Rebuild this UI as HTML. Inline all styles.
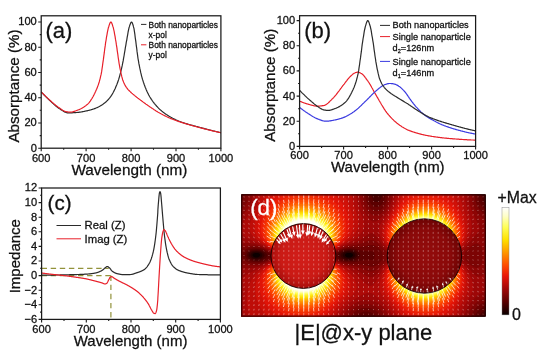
<!DOCTYPE html>
<html lang="en"><head><meta charset="utf-8"><title>Figure</title><style>html,body{margin:0;padding:0;background:#fff}svg{display:block}text{stroke:#111;stroke-width:.28px}text.w{stroke:#fff}</style></head><body>
<svg width="550" height="356" viewBox="0 0 550 356" font-family="'Liberation Sans', sans-serif" fill="#111">
<rect x="41.2" y="15.8" width="179.7" height="132.4" fill="#fff" stroke="none"/>
<path d="M41.2 148.2 v3 M86.1 148.2 v3 M131.1 148.2 v3 M176.0 148.2 v3 M220.9 148.2 v3 M63.7 148.2 v1.5 M108.6 148.2 v1.5 M153.5 148.2 v1.5 M198.4 148.2 v1.5 M41.2 148.2 h-3 M41.2 123.0 h-3 M41.2 97.7 h-3 M41.2 72.5 h-3 M41.2 47.2 h-3 M41.2 22.0 h-3 M41.2 135.6 h-1.5 M41.2 110.3 h-1.5 M41.2 85.1 h-1.5 M41.2 59.9 h-1.5 M41.2 34.6 h-1.5 " stroke="#1a1a1a" stroke-width="1.1" fill="none"/>
<text x="41.2" y="161.8" text-anchor="middle" font-size="11.1">600</text>
<text x="86.1" y="161.8" text-anchor="middle" font-size="11.1">700</text>
<text x="131.1" y="161.8" text-anchor="middle" font-size="11.1">800</text>
<text x="176.0" y="161.8" text-anchor="middle" font-size="11.1">900</text>
<text x="220.9" y="161.8" text-anchor="middle" font-size="11.1">1000</text>
<text x="36.8" y="151.6" text-anchor="end" font-size="11.1">0</text>
<text x="36.8" y="126.4" text-anchor="end" font-size="11.1">20</text>
<text x="36.8" y="101.1" text-anchor="end" font-size="11.1">40</text>
<text x="36.8" y="75.9" text-anchor="end" font-size="11.1">60</text>
<text x="36.8" y="50.6" text-anchor="end" font-size="11.1">80</text>
<text x="36.8" y="25.4" text-anchor="end" font-size="11.1">100</text>
<path d="M41.2 91.9 L41.7 92.4 L42.1 92.9 L42.6 93.4 L43.0 93.8 L43.5 94.3 L43.9 94.8 L44.4 95.2 L44.8 95.7 L45.3 96.1 L45.7 96.6 L46.2 97.0 L46.6 97.5 L47.1 97.9 L47.5 98.4 L48.0 98.8 L48.4 99.2 L48.9 99.6 L49.3 100.1 L49.8 100.5 L50.2 100.9 L50.7 101.3 L51.1 101.7 L51.6 102.1 L52.0 102.6 L52.5 103.0 L52.9 103.4 L53.4 103.8 L53.8 104.2 L54.3 104.6 L54.7 105.0 L55.2 105.4 L55.6 105.8 L56.1 106.2 L56.5 106.5 L57.0 106.9 L57.4 107.2 L57.9 107.6 L58.3 107.9 L58.8 108.2 L59.2 108.5 L59.7 108.8 L60.1 109.1 L60.6 109.4 L61.0 109.7 L61.5 110.0 L61.9 110.3 L62.4 110.6 L62.8 110.8 L63.3 111.1 L63.7 111.4 L64.2 111.6 L64.6 111.9 L65.1 112.1 L65.5 112.3 L66.0 112.5 L66.4 112.6 L66.9 112.7 L67.3 112.8 L67.8 112.9 L68.2 112.9 L68.7 112.9 L69.1 112.9 L69.6 112.9 L70.0 112.8 L70.5 112.8 L70.9 112.8 L71.4 112.8 L71.8 112.8 L72.3 112.8 L72.7 112.7 L73.2 112.7 L73.6 112.7 L74.1 112.7 L74.5 112.7 L75.0 112.6 L75.4 112.6 L75.9 112.6 L76.3 112.5 L76.8 112.5 L77.2 112.5 L77.7 112.4 L78.1 112.4 L78.6 112.4 L79.0 112.3 L79.5 112.2 L79.9 112.2 L80.4 112.1 L80.8 112.0 L81.3 112.0 L81.7 111.9 L82.2 111.8 L82.6 111.7 L83.1 111.6 L83.5 111.5 L84.0 111.4 L84.4 111.3 L84.9 111.2 L85.3 111.1 L85.8 111.0 L86.2 110.9 L86.7 110.9 L87.1 110.8 L87.6 110.7 L88.0 110.5 L88.5 110.4 L88.9 110.3 L89.4 110.2 L89.8 110.1 L90.3 110.0 L90.7 109.9 L91.2 109.7 L91.6 109.6 L92.1 109.5 L92.5 109.3 L93.0 109.2 L93.4 109.0 L93.9 108.9 L94.3 108.7 L94.8 108.6 L95.2 108.4 L95.7 108.2 L96.1 108.0 L96.6 107.8 L97.0 107.6 L97.5 107.4 L97.9 107.2 L98.4 107.0 L98.8 106.7 L99.3 106.5 L99.7 106.2 L100.2 106.0 L100.6 105.7 L101.1 105.4 L101.6 105.2 L102.0 104.9 L102.5 104.6 L102.9 104.3 L103.4 103.9 L103.8 103.6 L104.3 103.3 L104.7 102.9 L105.2 102.6 L105.6 102.2 L106.1 101.8 L106.5 101.4 L107.0 100.9 L107.4 100.5 L107.9 100.0 L108.3 99.5 L108.8 99.0 L109.2 98.5 L109.7 97.9 L110.1 97.3 L110.6 96.7 L111.0 96.1 L111.5 95.4 L111.9 94.7 L112.4 93.9 L112.8 93.2 L113.3 92.3 L113.7 91.5 L114.2 90.6 L114.6 89.6 L115.1 88.7 L115.5 87.7 L116.0 86.6 L116.4 85.5 L116.9 84.4 L117.3 83.3 L117.8 82.1 L118.2 80.8 L118.7 79.4 L119.1 77.9 L119.6 76.3 L120.0 74.6 L120.5 72.9 L120.9 71.1 L121.4 69.2 L121.8 67.3 L122.3 65.2 L122.7 63.0 L123.2 60.7 L123.6 58.1 L124.1 55.5 L124.5 52.8 L125.0 50.1 L125.4 47.4 L125.9 44.8 L126.3 42.2 L126.8 39.8 L127.2 37.2 L127.7 34.6 L128.1 32.0 L128.6 29.7 L129.0 27.8 L129.5 26.4 L129.9 24.9 L130.4 23.7 L130.8 22.7 L131.3 22.1 L131.7 22.1 L132.2 22.7 L132.6 23.8 L133.1 25.2 L133.5 26.9 L134.0 28.7 L134.4 31.4 L134.9 34.7 L135.3 38.1 L135.8 41.4 L136.2 44.8 L136.7 48.3 L137.1 51.9 L137.6 55.3 L138.0 58.5 L138.5 61.2 L138.9 63.7 L139.4 66.0 L139.8 68.2 L140.3 70.4 L140.7 72.4 L141.2 74.3 L141.6 76.1 L142.1 77.8 L142.5 79.4 L143.0 80.8 L143.4 82.2 L143.9 83.5 L144.3 84.8 L144.8 86.0 L145.2 87.2 L145.7 88.3 L146.1 89.4 L146.6 90.5 L147.0 91.5 L147.5 92.4 L147.9 93.4 L148.4 94.3 L148.8 95.1 L149.3 96.0 L149.7 96.7 L150.2 97.5 L150.6 98.2 L151.1 98.9 L151.5 99.6 L152.0 100.2 L152.4 100.8 L152.9 101.5 L153.3 102.1 L153.8 102.7 L154.2 103.3 L154.7 103.8 L155.1 104.4 L155.6 104.9 L156.0 105.4 L156.5 106.0 L156.9 106.5 L157.4 106.9 L157.8 107.4 L158.3 107.9 L158.7 108.3 L159.2 108.8 L159.6 109.2 L160.1 109.6 L160.5 110.0 L161.0 110.4 L161.5 110.8 L161.9 111.2 L162.4 111.6 L162.8 111.9 L163.3 112.3 L163.7 112.6 L164.2 112.9 L164.6 113.2 L165.1 113.6 L165.5 113.9 L166.0 114.2 L166.4 114.5 L166.9 114.8 L167.3 115.1 L167.8 115.4 L168.2 115.7 L168.7 115.9 L169.1 116.2 L169.6 116.5 L170.0 116.8 L170.5 117.0 L170.9 117.3 L171.4 117.5 L171.8 117.8 L172.3 118.0 L172.7 118.3 L173.2 118.5 L173.6 118.7 L174.1 118.9 L174.5 119.2 L175.0 119.4 L175.4 119.6 L175.9 119.8 L176.3 120.0 L176.8 120.2 L177.2 120.4 L177.7 120.6 L178.1 120.8 L178.6 121.0 L179.0 121.2 L179.5 121.4 L179.9 121.5 L180.4 121.7 L180.8 121.9 L181.3 122.0 L181.7 122.2 L182.2 122.4 L182.6 122.5 L183.1 122.7 L183.5 122.8 L184.0 123.0 L184.4 123.1 L184.9 123.3 L185.3 123.4 L185.8 123.5 L186.2 123.7 L186.7 123.8 L187.1 123.9 L187.6 124.1 L188.0 124.2 L188.5 124.3 L188.9 124.5 L189.4 124.6 L189.8 124.7 L190.3 124.8 L190.7 125.0 L191.2 125.1 L191.6 125.2 L192.1 125.3 L192.5 125.4 L193.0 125.6 L193.4 125.7 L193.9 125.8 L194.3 125.9 L194.8 126.0 L195.2 126.1 L195.7 126.3 L196.1 126.4 L196.6 126.5 L197.0 126.6 L197.5 126.7 L197.9 126.9 L198.4 127.0 L198.8 127.1 L199.3 127.2 L199.7 127.4 L200.2 127.5 L200.6 127.6 L201.1 127.7 L201.5 127.8 L202.0 128.0 L202.4 128.1 L202.9 128.2 L203.3 128.3 L203.8 128.4 L204.2 128.6 L204.7 128.7 L205.1 128.8 L205.6 128.9 L206.0 129.0 L206.5 129.1 L206.9 129.3 L207.4 129.4 L207.8 129.5 L208.3 129.6 L208.7 129.7 L209.2 129.8 L209.6 130.0 L210.1 130.1 L210.5 130.2 L211.0 130.3 L211.4 130.4 L211.9 130.5 L212.3 130.6 L212.8 130.7 L213.2 130.9 L213.7 131.0 L214.1 131.1 L214.6 131.2 L215.0 131.3 L215.5 131.4 L215.9 131.5 L216.4 131.6 L216.8 131.7 L217.3 131.8 L217.7 131.9 L218.2 132.0 L218.6 132.2 L219.1 132.3 L219.5 132.4 L220.0 132.5 L220.4 132.6 L220.9 132.7" fill="none" stroke="#2b2b2b" stroke-width="1.20" stroke-linejoin="round"/>
<path d="M41.2 91.9 L41.7 92.4 L42.1 92.8 L42.6 93.3 L43.0 93.7 L43.5 94.2 L43.9 94.6 L44.4 95.1 L44.8 95.5 L45.3 95.9 L45.7 96.4 L46.2 96.8 L46.6 97.2 L47.1 97.7 L47.5 98.1 L48.0 98.5 L48.4 98.9 L48.9 99.3 L49.3 99.7 L49.8 100.1 L50.2 100.5 L50.7 100.9 L51.1 101.3 L51.6 101.7 L52.0 102.1 L52.5 102.5 L52.9 102.9 L53.4 103.3 L53.8 103.7 L54.3 104.1 L54.7 104.4 L55.2 104.8 L55.6 105.2 L56.1 105.5 L56.5 105.9 L57.0 106.2 L57.4 106.6 L57.9 106.9 L58.3 107.2 L58.8 107.5 L59.2 107.8 L59.7 108.1 L60.1 108.5 L60.6 108.8 L61.0 109.1 L61.5 109.4 L61.9 109.7 L62.4 110.0 L62.8 110.3 L63.3 110.6 L63.7 110.8 L64.2 111.0 L64.6 111.2 L65.1 111.4 L65.5 111.5 L66.0 111.6 L66.4 111.7 L66.9 111.8 L67.3 111.8 L67.8 111.9 L68.2 112.0 L68.7 112.0 L69.1 112.1 L69.6 112.1 L70.0 112.1 L70.5 112.1 L70.9 112.1 L71.4 112.0 L71.8 112.0 L72.3 111.9 L72.7 111.8 L73.2 111.7 L73.6 111.6 L74.1 111.4 L74.5 111.3 L75.0 111.1 L75.4 111.0 L75.9 110.8 L76.3 110.6 L76.8 110.5 L77.2 110.3 L77.7 110.1 L78.1 110.0 L78.6 109.8 L79.0 109.6 L79.5 109.4 L79.9 109.2 L80.4 109.0 L80.8 108.8 L81.3 108.5 L81.7 108.3 L82.2 108.1 L82.6 107.8 L83.1 107.5 L83.5 107.2 L84.0 106.9 L84.4 106.6 L84.9 106.3 L85.3 106.0 L85.8 105.7 L86.2 105.3 L86.7 104.9 L87.1 104.6 L87.6 104.2 L88.0 103.8 L88.5 103.3 L88.9 102.8 L89.4 102.3 L89.8 101.7 L90.3 101.1 L90.7 100.4 L91.2 99.7 L91.6 99.0 L92.1 98.3 L92.5 97.5 L93.0 96.7 L93.4 95.9 L93.9 95.0 L94.3 94.1 L94.8 93.2 L95.2 92.3 L95.7 91.3 L96.1 90.3 L96.6 89.3 L97.0 88.3 L97.5 87.1 L97.9 85.9 L98.4 84.6 L98.8 83.2 L99.3 81.7 L99.7 80.1 L100.2 78.3 L100.6 76.4 L101.1 74.4 L101.6 71.9 L102.0 69.0 L102.5 65.8 L102.9 62.6 L103.4 59.4 L103.8 56.1 L104.3 52.7 L104.7 49.2 L105.2 45.9 L105.6 42.7 L106.1 40.0 L106.5 37.2 L107.0 34.6 L107.4 32.1 L107.9 29.9 L108.3 28.0 L108.8 26.5 L109.2 25.1 L109.7 23.8 L110.1 22.8 L110.6 22.1 L111.0 22.0 L111.5 22.6 L111.9 23.5 L112.4 24.8 L112.8 26.2 L113.3 27.6 L113.7 29.5 L114.2 31.7 L114.6 34.1 L115.1 36.7 L115.5 39.4 L116.0 42.0 L116.4 44.9 L116.9 47.9 L117.3 51.1 L117.8 54.3 L118.2 57.5 L118.7 60.6 L119.1 63.5 L119.6 66.1 L120.0 68.4 L120.5 70.6 L120.9 72.8 L121.4 74.8 L121.8 76.7 L122.3 78.4 L122.7 79.9 L123.2 81.1 L123.6 82.2 L124.1 83.2 L124.5 84.2 L125.0 85.1 L125.4 85.9 L125.9 86.6 L126.3 87.3 L126.8 87.9 L127.2 88.5 L127.7 89.1 L128.1 89.6 L128.6 90.1 L129.0 90.5 L129.5 91.0 L129.9 91.4 L130.4 91.8 L130.8 92.3 L131.3 92.7 L131.7 93.1 L132.2 93.5 L132.6 93.9 L133.1 94.3 L133.5 94.6 L134.0 95.0 L134.4 95.4 L134.9 95.8 L135.3 96.1 L135.8 96.5 L136.2 96.8 L136.7 97.2 L137.1 97.5 L137.6 97.9 L138.0 98.2 L138.5 98.5 L138.9 98.9 L139.4 99.2 L139.8 99.5 L140.3 99.9 L140.7 100.2 L141.2 100.5 L141.6 100.9 L142.1 101.2 L142.5 101.5 L143.0 101.9 L143.4 102.2 L143.9 102.5 L144.3 102.9 L144.8 103.2 L145.2 103.5 L145.7 103.9 L146.1 104.2 L146.6 104.5 L147.0 104.8 L147.5 105.1 L147.9 105.5 L148.4 105.8 L148.8 106.1 L149.3 106.4 L149.7 106.7 L150.2 107.0 L150.6 107.3 L151.1 107.6 L151.5 107.9 L152.0 108.2 L152.4 108.5 L152.9 108.8 L153.3 109.1 L153.8 109.4 L154.2 109.7 L154.7 110.0 L155.1 110.3 L155.6 110.6 L156.0 110.9 L156.5 111.2 L156.9 111.4 L157.4 111.7 L157.8 112.0 L158.3 112.3 L158.7 112.5 L159.2 112.8 L159.6 113.0 L160.1 113.3 L160.5 113.5 L161.0 113.8 L161.5 114.0 L161.9 114.3 L162.4 114.5 L162.8 114.7 L163.3 115.0 L163.7 115.2 L164.2 115.4 L164.6 115.7 L165.1 115.9 L165.5 116.1 L166.0 116.3 L166.4 116.5 L166.9 116.7 L167.3 117.0 L167.8 117.2 L168.2 117.4 L168.7 117.6 L169.1 117.8 L169.6 118.0 L170.0 118.2 L170.5 118.4 L170.9 118.6 L171.4 118.7 L171.8 118.9 L172.3 119.1 L172.7 119.3 L173.2 119.5 L173.6 119.6 L174.1 119.8 L174.5 120.0 L175.0 120.1 L175.4 120.3 L175.9 120.5 L176.3 120.6 L176.8 120.8 L177.2 120.9 L177.7 121.1 L178.1 121.3 L178.6 121.4 L179.0 121.6 L179.5 121.7 L179.9 121.9 L180.4 122.0 L180.8 122.2 L181.3 122.3 L181.7 122.4 L182.2 122.6 L182.6 122.7 L183.1 122.9 L183.5 123.0 L184.0 123.2 L184.4 123.3 L184.9 123.4 L185.3 123.6 L185.8 123.7 L186.2 123.8 L186.7 124.0 L187.1 124.1 L187.6 124.2 L188.0 124.4 L188.5 124.5 L188.9 124.6 L189.4 124.8 L189.8 124.9 L190.3 125.0 L190.7 125.1 L191.2 125.3 L191.6 125.4 L192.1 125.5 L192.5 125.6 L193.0 125.8 L193.4 125.9 L193.9 126.0 L194.3 126.1 L194.8 126.3 L195.2 126.4 L195.7 126.5 L196.1 126.6 L196.6 126.7 L197.0 126.9 L197.5 127.0 L197.9 127.1 L198.4 127.2 L198.8 127.4 L199.3 127.5 L199.7 127.6 L200.2 127.7 L200.6 127.8 L201.1 128.0 L201.5 128.1 L202.0 128.2 L202.4 128.3 L202.9 128.4 L203.3 128.5 L203.8 128.7 L204.2 128.8 L204.7 128.9 L205.1 129.0 L205.6 129.1 L206.0 129.2 L206.5 129.3 L206.9 129.5 L207.4 129.6 L207.8 129.7 L208.3 129.8 L208.7 129.9 L209.2 130.0 L209.6 130.1 L210.1 130.2 L210.5 130.3 L211.0 130.4 L211.4 130.6 L211.9 130.7 L212.3 130.8 L212.8 130.9 L213.2 131.0 L213.7 131.1 L214.1 131.2 L214.6 131.3 L215.0 131.4 L215.5 131.5 L215.9 131.6 L216.4 131.7 L216.8 131.8 L217.3 131.9 L217.7 132.0 L218.2 132.1 L218.6 132.2 L219.1 132.3 L219.5 132.4 L220.0 132.5 L220.4 132.6 L220.9 132.7" fill="none" stroke="#e8202a" stroke-width="1.20" stroke-linejoin="round"/>
<rect x="41.2" y="15.8" width="179.7" height="132.4" fill="none" stroke="#1a1a1a" stroke-width="1.25"/>
<text x="45.4" y="38.2" font-size="22">(a)</text>
<path d="M141 24.4h5.4" stroke="#2b2b2b" stroke-width="1"/><path d="M141 44.8h5.4" stroke="#e8202a" stroke-width="1"/>
<text x="148.6" y="27.5" font-size="8.4">Both nanoparticles</text>
<text x="148.6" y="37.5" font-size="8.4">x-pol</text>
<text x="148.6" y="47.6" font-size="8.4">Both nanoparticles</text>
<text x="148.6" y="57.7" font-size="8.4">y-pol</text>
<text transform="translate(19,86) rotate(-90)" text-anchor="middle" font-size="15.2">Absorptance (%)</text>
<text x="129.4" y="174.5" text-anchor="middle" font-size="15.3">Wavelength (nm)</text>
<rect x="299.6" y="15.7" width="176.0" height="130.7" fill="#fff" stroke="none"/>
<path d="M299.6 146.4 v3 M343.6 146.4 v3 M387.6 146.4 v3 M431.6 146.4 v3 M475.6 146.4 v3 M321.6 146.4 v1.5 M365.6 146.4 v1.5 M409.6 146.4 v1.5 M453.6 146.4 v1.5 M299.6 146.4 h-3 M299.6 121.2 h-3 M299.6 96.1 h-3 M299.6 70.9 h-3 M299.6 45.8 h-3 M299.6 20.6 h-3 M299.6 133.8 h-1.5 M299.6 108.7 h-1.5 M299.6 83.5 h-1.5 M299.6 58.3 h-1.5 M299.6 33.2 h-1.5 " stroke="#1a1a1a" stroke-width="1.1" fill="none"/>
<text x="299.6" y="159.3" text-anchor="middle" font-size="11.1">600</text>
<text x="343.6" y="159.3" text-anchor="middle" font-size="11.1">700</text>
<text x="387.6" y="159.3" text-anchor="middle" font-size="11.1">800</text>
<text x="431.6" y="159.3" text-anchor="middle" font-size="11.1">900</text>
<text x="475.6" y="159.3" text-anchor="middle" font-size="11.1">1000</text>
<text x="295.2" y="149.8" text-anchor="end" font-size="11.1">0</text>
<text x="295.2" y="124.6" text-anchor="end" font-size="11.1">20</text>
<text x="295.2" y="99.5" text-anchor="end" font-size="11.1">40</text>
<text x="295.2" y="74.3" text-anchor="end" font-size="11.1">60</text>
<text x="295.2" y="49.2" text-anchor="end" font-size="11.1">80</text>
<text x="295.2" y="24.0" text-anchor="end" font-size="11.1">100</text>
<path d="M299.6 101.1 L300.0 101.3 L300.5 101.5 L300.9 101.7 L301.4 101.8 L301.8 102.0 L302.2 102.2 L302.7 102.4 L303.1 102.5 L303.6 102.7 L304.0 102.9 L304.5 103.0 L304.9 103.2 L305.3 103.3 L305.8 103.5 L306.2 103.6 L306.7 103.8 L307.1 103.9 L307.5 104.0 L308.0 104.1 L308.4 104.3 L308.9 104.4 L309.3 104.5 L309.7 104.6 L310.2 104.8 L310.6 104.9 L311.1 105.0 L311.5 105.1 L312.0 105.3 L312.4 105.4 L312.8 105.5 L313.3 105.6 L313.7 105.7 L314.2 105.8 L314.6 105.9 L315.0 106.0 L315.5 106.0 L315.9 106.1 L316.4 106.1 L316.8 106.1 L317.2 106.1 L317.7 106.1 L318.1 106.1 L318.6 106.1 L319.0 106.1 L319.4 106.1 L319.9 106.0 L320.3 106.0 L320.8 105.9 L321.2 105.9 L321.7 105.8 L322.1 105.8 L322.5 105.7 L323.0 105.6 L323.4 105.6 L323.9 105.5 L324.3 105.4 L324.7 105.3 L325.2 105.1 L325.6 104.8 L326.1 104.6 L326.5 104.3 L326.9 104.0 L327.4 103.6 L327.8 103.3 L328.3 102.9 L328.7 102.5 L329.2 102.0 L329.6 101.6 L330.0 101.2 L330.5 100.7 L330.9 100.3 L331.4 99.8 L331.8 99.4 L332.2 98.9 L332.7 98.5 L333.1 98.1 L333.6 97.6 L334.0 97.1 L334.4 96.7 L334.9 96.1 L335.3 95.6 L335.8 95.1 L336.2 94.5 L336.7 94.0 L337.1 93.4 L337.5 92.8 L338.0 92.2 L338.4 91.6 L338.9 91.1 L339.3 90.5 L339.7 89.9 L340.2 89.3 L340.6 88.7 L341.1 88.1 L341.5 87.5 L341.9 86.9 L342.4 86.3 L342.8 85.7 L343.3 85.2 L343.7 84.6 L344.2 84.1 L344.6 83.5 L345.0 82.9 L345.5 82.3 L345.9 81.7 L346.4 81.1 L346.8 80.6 L347.2 80.0 L347.7 79.4 L348.1 78.9 L348.6 78.3 L349.0 77.8 L349.4 77.4 L349.9 76.9 L350.3 76.5 L350.8 76.0 L351.2 75.6 L351.7 75.2 L352.1 74.8 L352.5 74.4 L353.0 74.0 L353.4 73.7 L353.9 73.4 L354.3 73.2 L354.7 73.0 L355.2 72.8 L355.6 72.6 L356.1 72.5 L356.5 72.4 L356.9 72.3 L357.4 72.2 L357.8 72.2 L358.3 72.2 L358.7 72.3 L359.1 72.5 L359.6 72.6 L360.0 72.8 L360.5 73.1 L360.9 73.3 L361.4 73.5 L361.8 73.8 L362.2 74.1 L362.7 74.5 L363.1 74.9 L363.6 75.4 L364.0 75.9 L364.4 76.4 L364.9 77.0 L365.3 77.6 L365.8 78.2 L366.2 78.8 L366.6 79.4 L367.1 80.0 L367.5 80.6 L368.0 81.2 L368.4 81.8 L368.9 82.5 L369.3 83.2 L369.7 83.9 L370.2 84.6 L370.6 85.4 L371.1 86.2 L371.5 86.9 L371.9 87.7 L372.4 88.5 L372.8 89.3 L373.3 90.2 L373.7 91.0 L374.1 91.8 L374.6 92.6 L375.0 93.4 L375.5 94.1 L375.9 94.9 L376.4 95.7 L376.8 96.4 L377.2 97.1 L377.7 97.9 L378.1 98.6 L378.6 99.4 L379.0 100.2 L379.4 100.9 L379.9 101.7 L380.3 102.5 L380.8 103.2 L381.2 104.0 L381.6 104.7 L382.1 105.5 L382.5 106.2 L383.0 106.9 L383.4 107.7 L383.9 108.4 L384.3 109.1 L384.7 109.7 L385.2 110.4 L385.6 111.1 L386.1 111.7 L386.5 112.3 L386.9 112.9 L387.4 113.4 L387.8 114.0 L388.3 114.5 L388.7 115.0 L389.1 115.5 L389.6 116.0 L390.0 116.5 L390.5 117.0 L390.9 117.5 L391.3 117.9 L391.8 118.4 L392.2 118.8 L392.7 119.3 L393.1 119.7 L393.6 120.2 L394.0 120.6 L394.4 121.0 L394.9 121.4 L395.3 121.8 L395.8 122.1 L396.2 122.5 L396.6 122.9 L397.1 123.2 L397.5 123.6 L398.0 123.9 L398.4 124.2 L398.8 124.6 L399.3 124.9 L399.7 125.2 L400.2 125.5 L400.6 125.8 L401.1 126.1 L401.5 126.4 L401.9 126.7 L402.4 127.0 L402.8 127.2 L403.3 127.5 L403.7 127.8 L404.1 128.0 L404.6 128.3 L405.0 128.5 L405.5 128.8 L405.9 129.0 L406.3 129.2 L406.8 129.5 L407.2 129.7 L407.7 129.9 L408.1 130.1 L408.6 130.3 L409.0 130.4 L409.4 130.6 L409.9 130.8 L410.3 130.9 L410.8 131.1 L411.2 131.3 L411.6 131.4 L412.1 131.6 L412.5 131.7 L413.0 131.9 L413.4 132.0 L413.8 132.1 L414.3 132.3 L414.7 132.4 L415.2 132.6 L415.6 132.7 L416.1 132.8 L416.5 133.0 L416.9 133.1 L417.4 133.2 L417.8 133.3 L418.3 133.5 L418.7 133.6 L419.1 133.7 L419.6 133.8 L420.0 133.9 L420.5 134.1 L420.9 134.2 L421.3 134.3 L421.8 134.4 L422.2 134.5 L422.7 134.6 L423.1 134.7 L423.5 134.8 L424.0 134.9 L424.4 135.0 L424.9 135.1 L425.3 135.2 L425.8 135.3 L426.2 135.4 L426.6 135.5 L427.1 135.5 L427.5 135.6 L428.0 135.7 L428.4 135.8 L428.8 135.9 L429.3 135.9 L429.7 136.0 L430.2 136.1 L430.6 136.2 L431.0 136.2 L431.5 136.3 L431.9 136.4 L432.4 136.5 L432.8 136.5 L433.3 136.6 L433.7 136.7 L434.1 136.7 L434.6 136.8 L435.0 136.9 L435.5 136.9 L435.9 137.0 L436.3 137.0 L436.8 137.1 L437.2 137.2 L437.7 137.2 L438.1 137.3 L438.5 137.3 L439.0 137.4 L439.4 137.4 L439.9 137.5 L440.3 137.6 L440.8 137.6 L441.2 137.7 L441.6 137.7 L442.1 137.8 L442.5 137.8 L443.0 137.9 L443.4 137.9 L443.8 138.0 L444.3 138.0 L444.7 138.1 L445.2 138.1 L445.6 138.1 L446.0 138.2 L446.5 138.2 L446.9 138.3 L447.4 138.3 L447.8 138.4 L448.3 138.4 L448.7 138.4 L449.1 138.5 L449.6 138.5 L450.0 138.6 L450.5 138.6 L450.9 138.6 L451.3 138.7 L451.8 138.7 L452.2 138.7 L452.7 138.8 L453.1 138.8 L453.5 138.8 L454.0 138.9 L454.4 138.9 L454.9 138.9 L455.3 139.0 L455.8 139.0 L456.2 139.0 L456.6 139.1 L457.1 139.1 L457.5 139.1 L458.0 139.2 L458.4 139.2 L458.8 139.2 L459.3 139.3 L459.7 139.3 L460.2 139.3 L460.6 139.4 L461.0 139.4 L461.5 139.4 L461.9 139.4 L462.4 139.5 L462.8 139.5 L463.2 139.5 L463.7 139.6 L464.1 139.6 L464.6 139.6 L465.0 139.6 L465.5 139.7 L465.9 139.7 L466.3 139.7 L466.8 139.7 L467.2 139.8 L467.7 139.8 L468.1 139.8 L468.5 139.8 L469.0 139.9 L469.4 139.9 L469.9 139.9 L470.3 139.9 L470.7 139.9 L471.2 140.0 L471.6 140.0 L472.1 140.0 L472.5 140.0 L473.0 140.0 L473.4 140.0 L473.8 140.1 L474.3 140.1 L474.7 140.1 L475.2 140.1 L475.6 140.1" fill="none" stroke="#e8202a" stroke-width="1.20" stroke-linejoin="round"/>
<path d="M299.6 107.4 L300.0 107.7 L300.5 108.1 L300.9 108.4 L301.4 108.8 L301.8 109.1 L302.2 109.4 L302.7 109.8 L303.1 110.1 L303.6 110.4 L304.0 110.7 L304.5 111.0 L304.9 111.3 L305.3 111.7 L305.8 112.0 L306.2 112.3 L306.7 112.6 L307.1 112.8 L307.5 113.1 L308.0 113.4 L308.4 113.7 L308.9 114.0 L309.3 114.3 L309.7 114.6 L310.2 114.8 L310.6 115.1 L311.1 115.4 L311.5 115.7 L312.0 116.0 L312.4 116.2 L312.8 116.5 L313.3 116.8 L313.7 117.0 L314.2 117.3 L314.6 117.5 L315.0 117.7 L315.5 118.0 L315.9 118.2 L316.4 118.4 L316.8 118.6 L317.2 118.7 L317.7 118.9 L318.1 119.1 L318.6 119.3 L319.0 119.4 L319.4 119.6 L319.9 119.8 L320.3 119.9 L320.8 120.1 L321.2 120.3 L321.7 120.4 L322.1 120.6 L322.5 120.7 L323.0 120.8 L323.4 120.9 L323.9 121.0 L324.3 121.1 L324.7 121.2 L325.2 121.2 L325.6 121.2 L326.1 121.2 L326.5 121.2 L326.9 121.2 L327.4 121.2 L327.8 121.2 L328.3 121.1 L328.7 121.1 L329.2 121.0 L329.6 120.9 L330.0 120.9 L330.5 120.8 L330.9 120.7 L331.4 120.7 L331.8 120.6 L332.2 120.5 L332.7 120.4 L333.1 120.3 L333.6 120.2 L334.0 120.1 L334.4 120.0 L334.9 120.0 L335.3 119.9 L335.8 119.8 L336.2 119.7 L336.7 119.6 L337.1 119.5 L337.5 119.4 L338.0 119.3 L338.4 119.1 L338.9 119.0 L339.3 118.9 L339.7 118.8 L340.2 118.6 L340.6 118.5 L341.1 118.4 L341.5 118.2 L341.9 118.1 L342.4 117.9 L342.8 117.8 L343.3 117.6 L343.7 117.4 L344.2 117.3 L344.6 117.1 L345.0 116.9 L345.5 116.7 L345.9 116.5 L346.4 116.3 L346.8 116.0 L347.2 115.8 L347.7 115.6 L348.1 115.3 L348.6 115.1 L349.0 114.8 L349.4 114.6 L349.9 114.3 L350.3 114.0 L350.8 113.8 L351.2 113.5 L351.7 113.2 L352.1 112.9 L352.5 112.6 L353.0 112.3 L353.4 112.0 L353.9 111.7 L354.3 111.4 L354.7 111.1 L355.2 110.8 L355.6 110.4 L356.1 110.1 L356.5 109.7 L356.9 109.3 L357.4 109.0 L357.8 108.6 L358.3 108.2 L358.7 107.8 L359.1 107.4 L359.6 107.0 L360.0 106.5 L360.5 106.1 L360.9 105.7 L361.4 105.3 L361.8 104.8 L362.2 104.4 L362.7 103.9 L363.1 103.5 L363.6 103.1 L364.0 102.6 L364.4 102.2 L364.9 101.8 L365.3 101.4 L365.8 101.0 L366.2 100.5 L366.6 100.1 L367.1 99.7 L367.5 99.2 L368.0 98.8 L368.4 98.3 L368.9 97.9 L369.3 97.4 L369.7 97.0 L370.2 96.5 L370.6 96.1 L371.1 95.6 L371.5 95.2 L371.9 94.7 L372.4 94.3 L372.8 93.9 L373.3 93.4 L373.7 93.0 L374.1 92.6 L374.6 92.2 L375.0 91.8 L375.5 91.4 L375.9 91.0 L376.4 90.6 L376.8 90.3 L377.2 89.9 L377.7 89.5 L378.1 89.1 L378.6 88.8 L379.0 88.4 L379.4 88.0 L379.9 87.7 L380.3 87.3 L380.8 87.0 L381.2 86.6 L381.6 86.3 L382.1 86.0 L382.5 85.7 L383.0 85.5 L383.4 85.2 L383.9 85.0 L384.3 84.8 L384.7 84.7 L385.2 84.5 L385.6 84.4 L386.1 84.2 L386.5 84.1 L386.9 84.0 L387.4 83.8 L387.8 83.7 L388.3 83.6 L388.7 83.6 L389.1 83.5 L389.6 83.5 L390.0 83.5 L390.5 83.5 L390.9 83.5 L391.3 83.6 L391.8 83.6 L392.2 83.7 L392.7 83.7 L393.1 83.8 L393.6 83.9 L394.0 84.0 L394.4 84.1 L394.9 84.2 L395.3 84.3 L395.8 84.5 L396.2 84.7 L396.6 84.9 L397.1 85.1 L397.5 85.4 L398.0 85.6 L398.4 85.9 L398.8 86.2 L399.3 86.5 L399.7 86.8 L400.2 87.1 L400.6 87.5 L401.1 87.9 L401.5 88.3 L401.9 88.7 L402.4 89.1 L402.8 89.6 L403.3 90.0 L403.7 90.5 L404.1 91.0 L404.6 91.5 L405.0 92.0 L405.5 92.5 L405.9 93.1 L406.3 93.7 L406.8 94.3 L407.2 95.0 L407.7 95.6 L408.1 96.3 L408.6 96.9 L409.0 97.6 L409.4 98.3 L409.9 98.9 L410.3 99.5 L410.8 100.1 L411.2 100.7 L411.6 101.3 L412.1 101.9 L412.5 102.4 L413.0 103.0 L413.4 103.6 L413.8 104.1 L414.3 104.7 L414.7 105.2 L415.2 105.8 L415.6 106.3 L416.1 106.8 L416.5 107.3 L416.9 107.7 L417.4 108.2 L417.8 108.7 L418.3 109.1 L418.7 109.6 L419.1 110.0 L419.6 110.5 L420.0 110.9 L420.5 111.3 L420.9 111.8 L421.3 112.2 L421.8 112.6 L422.2 113.0 L422.7 113.4 L423.1 113.8 L423.5 114.1 L424.0 114.5 L424.4 114.9 L424.9 115.2 L425.3 115.5 L425.8 115.9 L426.2 116.2 L426.6 116.5 L427.1 116.8 L427.5 117.1 L428.0 117.3 L428.4 117.6 L428.8 117.9 L429.3 118.1 L429.7 118.4 L430.2 118.6 L430.6 118.9 L431.0 119.1 L431.5 119.4 L431.9 119.6 L432.4 119.8 L432.8 120.1 L433.3 120.3 L433.7 120.6 L434.1 120.8 L434.6 121.0 L435.0 121.3 L435.5 121.5 L435.9 121.8 L436.3 122.0 L436.8 122.2 L437.2 122.5 L437.7 122.7 L438.1 122.9 L438.5 123.2 L439.0 123.4 L439.4 123.6 L439.9 123.8 L440.3 124.0 L440.8 124.2 L441.2 124.4 L441.6 124.6 L442.1 124.8 L442.5 125.0 L443.0 125.1 L443.4 125.3 L443.8 125.5 L444.3 125.7 L444.7 125.8 L445.2 126.0 L445.6 126.1 L446.0 126.3 L446.5 126.5 L446.9 126.6 L447.4 126.8 L447.8 126.9 L448.3 127.1 L448.7 127.2 L449.1 127.4 L449.6 127.5 L450.0 127.7 L450.5 127.8 L450.9 128.0 L451.3 128.1 L451.8 128.2 L452.2 128.4 L452.7 128.5 L453.1 128.7 L453.5 128.8 L454.0 128.9 L454.4 129.0 L454.9 129.2 L455.3 129.3 L455.8 129.4 L456.2 129.6 L456.6 129.7 L457.1 129.8 L457.5 129.9 L458.0 130.0 L458.4 130.2 L458.8 130.3 L459.3 130.4 L459.7 130.5 L460.2 130.6 L460.6 130.8 L461.0 130.9 L461.5 131.0 L461.9 131.1 L462.4 131.2 L462.8 131.3 L463.2 131.4 L463.7 131.5 L464.1 131.6 L464.6 131.8 L465.0 131.9 L465.5 132.0 L465.9 132.1 L466.3 132.2 L466.8 132.3 L467.2 132.4 L467.7 132.5 L468.1 132.6 L468.5 132.7 L469.0 132.8 L469.4 132.9 L469.9 133.0 L470.3 133.1 L470.7 133.1 L471.2 133.2 L471.6 133.3 L472.1 133.4 L472.5 133.5 L473.0 133.6 L473.4 133.7 L473.8 133.8 L474.3 133.8 L474.7 133.9 L475.2 134.0 L475.6 134.1" fill="none" stroke="#3a3ae0" stroke-width="1.20" stroke-linejoin="round"/>
<path d="M299.6 90.3 L300.0 90.8 L300.5 91.2 L300.9 91.7 L301.4 92.1 L301.8 92.6 L302.2 93.0 L302.7 93.4 L303.1 93.9 L303.6 94.3 L304.0 94.7 L304.5 95.2 L304.9 95.6 L305.3 96.0 L305.8 96.4 L306.2 96.8 L306.7 97.3 L307.1 97.7 L307.5 98.1 L308.0 98.5 L308.4 98.9 L308.9 99.3 L309.3 99.7 L309.7 100.1 L310.2 100.4 L310.6 100.8 L311.1 101.2 L311.5 101.6 L312.0 102.0 L312.4 102.4 L312.8 102.8 L313.3 103.1 L313.7 103.5 L314.2 103.9 L314.6 104.2 L315.0 104.6 L315.5 104.9 L315.9 105.2 L316.4 105.6 L316.8 105.9 L317.2 106.2 L317.7 106.5 L318.1 106.8 L318.6 107.1 L319.0 107.4 L319.4 107.7 L319.9 108.0 L320.3 108.3 L320.8 108.6 L321.2 108.9 L321.7 109.1 L322.1 109.3 L322.5 109.5 L323.0 109.7 L323.4 109.8 L323.9 109.9 L324.3 110.0 L324.7 110.1 L325.2 110.2 L325.6 110.2 L326.1 110.3 L326.5 110.3 L326.9 110.4 L327.4 110.4 L327.8 110.4 L328.3 110.4 L328.7 110.4 L329.2 110.4 L329.6 110.3 L330.0 110.2 L330.5 110.1 L330.9 110.0 L331.4 109.9 L331.8 109.7 L332.2 109.6 L332.7 109.4 L333.1 109.3 L333.6 109.1 L334.0 109.0 L334.4 108.8 L334.9 108.6 L335.3 108.5 L335.8 108.3 L336.2 108.1 L336.7 107.9 L337.1 107.7 L337.5 107.5 L338.0 107.3 L338.4 107.1 L338.9 106.9 L339.3 106.6 L339.7 106.4 L340.2 106.1 L340.6 105.8 L341.1 105.6 L341.5 105.3 L341.9 105.0 L342.4 104.7 L342.8 104.3 L343.3 104.0 L343.7 103.6 L344.2 103.3 L344.6 102.9 L345.0 102.5 L345.5 102.1 L345.9 101.6 L346.4 101.1 L346.8 100.6 L347.2 100.0 L347.7 99.4 L348.1 98.8 L348.6 98.1 L349.0 97.4 L349.4 96.7 L349.9 95.9 L350.3 95.1 L350.8 94.3 L351.2 93.4 L351.7 92.5 L352.1 91.6 L352.5 90.7 L353.0 89.7 L353.4 88.7 L353.9 87.7 L354.3 86.7 L354.7 85.5 L355.2 84.3 L355.6 83.0 L356.1 81.6 L356.5 80.1 L356.9 78.5 L357.4 76.7 L357.8 74.9 L358.3 72.9 L358.7 70.4 L359.1 67.4 L359.6 64.3 L360.0 61.0 L360.5 57.9 L360.9 54.6 L361.4 51.2 L361.8 47.7 L362.2 44.4 L362.7 41.3 L363.1 38.5 L363.6 35.8 L364.0 33.2 L364.4 30.7 L364.9 28.5 L365.3 26.6 L365.8 25.1 L366.2 23.7 L366.6 22.4 L367.1 21.3 L367.5 20.7 L368.0 20.6 L368.4 21.2 L368.9 22.1 L369.3 23.4 L369.7 24.8 L370.2 26.2 L370.6 28.0 L371.1 30.2 L371.5 32.7 L371.9 35.3 L372.4 37.9 L372.8 40.6 L373.3 43.4 L373.7 46.4 L374.1 49.6 L374.6 52.8 L375.0 56.0 L375.5 59.0 L375.9 61.9 L376.4 64.6 L376.8 66.9 L377.2 69.1 L377.7 71.2 L378.1 73.2 L378.6 75.1 L379.0 76.8 L379.4 78.3 L379.9 79.5 L380.3 80.6 L380.8 81.7 L381.2 82.6 L381.6 83.5 L382.1 84.3 L382.5 85.0 L383.0 85.7 L383.4 86.3 L383.9 86.9 L384.3 87.5 L384.7 88.0 L385.2 88.5 L385.6 89.0 L386.1 89.4 L386.5 89.8 L386.9 90.2 L387.4 90.6 L387.8 91.0 L388.3 91.4 L388.7 91.7 L389.1 92.1 L389.6 92.4 L390.0 92.7 L390.5 93.1 L390.9 93.4 L391.3 93.7 L391.8 94.0 L392.2 94.3 L392.7 94.6 L393.1 94.9 L393.6 95.2 L394.0 95.4 L394.4 95.7 L394.9 96.0 L395.3 96.3 L395.8 96.5 L396.2 96.8 L396.6 97.1 L397.1 97.4 L397.5 97.6 L398.0 97.9 L398.4 98.2 L398.8 98.4 L399.3 98.7 L399.7 99.0 L400.2 99.3 L400.6 99.6 L401.1 99.8 L401.5 100.1 L401.9 100.4 L402.4 100.6 L402.8 100.9 L403.3 101.1 L403.7 101.4 L404.1 101.7 L404.6 101.9 L405.0 102.2 L405.5 102.5 L405.9 102.7 L406.3 103.0 L406.8 103.3 L407.2 103.5 L407.7 103.8 L408.1 104.1 L408.6 104.4 L409.0 104.7 L409.4 105.0 L409.9 105.3 L410.3 105.6 L410.8 105.9 L411.2 106.2 L411.6 106.5 L412.1 106.8 L412.5 107.1 L413.0 107.4 L413.4 107.7 L413.8 108.1 L414.3 108.4 L414.7 108.6 L415.2 108.9 L415.6 109.2 L416.1 109.5 L416.5 109.8 L416.9 110.1 L417.4 110.4 L417.8 110.6 L418.3 110.9 L418.7 111.2 L419.1 111.5 L419.6 111.7 L420.0 112.0 L420.5 112.3 L420.9 112.6 L421.3 112.8 L421.8 113.1 L422.2 113.4 L422.7 113.6 L423.1 113.9 L423.5 114.2 L424.0 114.4 L424.4 114.7 L424.9 114.9 L425.3 115.2 L425.8 115.4 L426.2 115.7 L426.6 115.9 L427.1 116.1 L427.5 116.3 L428.0 116.6 L428.4 116.8 L428.8 117.0 L429.3 117.2 L429.7 117.4 L430.2 117.5 L430.6 117.7 L431.0 117.9 L431.5 118.1 L431.9 118.3 L432.4 118.4 L432.8 118.6 L433.3 118.8 L433.7 119.0 L434.1 119.1 L434.6 119.3 L435.0 119.5 L435.5 119.6 L435.9 119.8 L436.3 119.9 L436.8 120.1 L437.2 120.3 L437.7 120.4 L438.1 120.6 L438.5 120.7 L439.0 120.9 L439.4 121.0 L439.9 121.1 L440.3 121.3 L440.8 121.4 L441.2 121.6 L441.6 121.7 L442.1 121.9 L442.5 122.0 L443.0 122.1 L443.4 122.3 L443.8 122.4 L444.3 122.5 L444.7 122.7 L445.2 122.8 L445.6 122.9 L446.0 123.1 L446.5 123.2 L446.9 123.3 L447.4 123.5 L447.8 123.6 L448.3 123.7 L448.7 123.8 L449.1 124.0 L449.6 124.1 L450.0 124.2 L450.5 124.4 L450.9 124.5 L451.3 124.6 L451.8 124.7 L452.2 124.9 L452.7 125.0 L453.1 125.1 L453.5 125.2 L454.0 125.4 L454.4 125.5 L454.9 125.6 L455.3 125.8 L455.8 125.9 L456.2 126.0 L456.6 126.1 L457.1 126.3 L457.5 126.4 L458.0 126.5 L458.4 126.6 L458.8 126.7 L459.3 126.9 L459.7 127.0 L460.2 127.1 L460.6 127.2 L461.0 127.3 L461.5 127.5 L461.9 127.6 L462.4 127.7 L462.8 127.8 L463.2 127.9 L463.7 128.0 L464.1 128.2 L464.6 128.3 L465.0 128.4 L465.5 128.5 L465.9 128.6 L466.3 128.7 L466.8 128.8 L467.2 128.9 L467.7 129.1 L468.1 129.2 L468.5 129.3 L469.0 129.4 L469.4 129.5 L469.9 129.6 L470.3 129.7 L470.7 129.8 L471.2 129.9 L471.6 130.0 L472.1 130.1 L472.5 130.2 L473.0 130.3 L473.4 130.4 L473.8 130.5 L474.3 130.6 L474.7 130.7 L475.2 130.8 L475.6 130.9" fill="none" stroke="#2b2b2b" stroke-width="1.20" stroke-linejoin="round"/>
<rect x="299.6" y="15.7" width="176.0" height="130.7" fill="none" stroke="#1a1a1a" stroke-width="1.25"/>
<text x="304.2" y="38.0" font-size="22">(b)</text>
<path d="M380 25.4h10" stroke="#2b2b2b" stroke-width="1"/><path d="M380 36.6h10" stroke="#e8202a" stroke-width="1"/><path d="M380 61.4h10" stroke="#3a3ae0" stroke-width="1"/>
<text x="392.6" y="28.4" font-size="9.2">Both nanoparticles</text>
<text x="392.6" y="40" font-size="9.2">Single nanoparticle</text>
<text x="392.6" y="51" font-size="9.2">d<tspan font-size="5.5" dy="2.2">2</tspan><tspan dy="-2.2">=126nm</tspan></text>
<text x="392.6" y="64.6" font-size="9.2">Single nanoparticle</text>
<text x="392.6" y="75.6" font-size="9.2">d<tspan font-size="5.5" dy="2.2">1</tspan><tspan dy="-2.2">=146nm</tspan></text>
<text transform="translate(274.5,85.2) rotate(-90)" text-anchor="middle" font-size="15.2">Absorptance (%)</text>
<text x="387.8" y="172.3" text-anchor="middle" font-size="15">Wavelength (nm)</text>
<rect x="41.6" y="188.0" width="178.8" height="131.4" fill="#fff" stroke="none"/>
<path d="M41.6 319.4 v3 M86.3 319.4 v3 M131.0 319.4 v3 M175.7 319.4 v3 M220.4 319.4 v3 M64.0 319.4 v1.5 M108.7 319.4 v1.5 M153.3 319.4 v1.5 M198.1 319.4 v1.5 M41.6 319.4 h-3 M41.6 304.8 h-3 M41.6 290.2 h-3 M41.6 275.6 h-3 M41.6 261.0 h-3 M41.6 246.4 h-3 M41.6 231.8 h-3 M41.6 217.2 h-3 M41.6 202.6 h-3 M41.6 188.0 h-3 M41.6 312.1 h-1.5 M41.6 297.5 h-1.5 M41.6 282.9 h-1.5 M41.6 268.3 h-1.5 M41.6 253.7 h-1.5 M41.6 239.1 h-1.5 M41.6 224.5 h-1.5 M41.6 209.9 h-1.5 M41.6 195.3 h-1.5 " stroke="#1a1a1a" stroke-width="1.1" fill="none"/>
<text x="41.6" y="332.7" text-anchor="middle" font-size="11.1">600</text>
<text x="86.3" y="332.7" text-anchor="middle" font-size="11.1">700</text>
<text x="131.0" y="332.7" text-anchor="middle" font-size="11.1">800</text>
<text x="175.7" y="332.7" text-anchor="middle" font-size="11.1">900</text>
<text x="220.4" y="332.7" text-anchor="middle" font-size="11.1">1000</text>
<text x="37.2" y="322.8" text-anchor="end" font-size="11.1">−6</text>
<text x="37.2" y="308.2" text-anchor="end" font-size="11.1">−4</text>
<text x="37.2" y="293.6" text-anchor="end" font-size="11.1">−2</text>
<text x="37.2" y="279.0" text-anchor="end" font-size="11.1">0</text>
<text x="37.2" y="264.4" text-anchor="end" font-size="11.1">2</text>
<text x="37.2" y="249.8" text-anchor="end" font-size="11.1">4</text>
<text x="37.2" y="235.2" text-anchor="end" font-size="11.1">6</text>
<text x="37.2" y="220.6" text-anchor="end" font-size="11.1">8</text>
<text x="37.2" y="206.0" text-anchor="end" font-size="11.1">10</text>
<text x="37.2" y="191.4" text-anchor="end" font-size="11.1">12</text>
<path d="M41.6 268.3H108.7 M41.6 275.6H110.9 M110.9 275.6V319.4" stroke="#92923a" stroke-width="1.2" stroke-dasharray="5.4 3.7" fill="none"/>
<path d="M41.6 275.2 L41.8 275.2 L42.0 275.2 L42.2 275.2 L42.4 275.2 L42.6 275.2 L42.8 275.2 L43.0 275.2 L43.2 275.2 L43.4 275.2 L43.6 275.2 L43.8 275.2 L44.0 275.2 L44.2 275.2 L44.4 275.2 L44.6 275.2 L44.8 275.2 L45.0 275.2 L45.2 275.2 L45.4 275.2 L45.6 275.2 L45.8 275.2 L46.0 275.2 L46.2 275.2 L46.4 275.2 L46.6 275.2 L46.8 275.2 L47.0 275.2 L47.2 275.2 L47.4 275.2 L47.6 275.2 L47.8 275.2 L48.0 275.2 L48.2 275.2 L48.4 275.2 L48.6 275.2 L48.8 275.2 L49.0 275.2 L49.2 275.1 L49.4 275.1 L49.6 275.1 L49.8 275.1 L50.0 275.1 L50.2 275.1 L50.4 275.1 L50.5 275.1 L50.7 275.1 L50.9 275.1 L51.1 275.1 L51.3 275.1 L51.5 275.1 L51.7 275.1 L51.9 275.1 L52.1 275.1 L52.3 275.1 L52.5 275.1 L52.7 275.1 L52.9 275.1 L53.1 275.1 L53.3 275.1 L53.5 275.1 L53.7 275.1 L53.9 275.1 L54.1 275.1 L54.3 275.1 L54.5 275.1 L54.7 275.1 L54.9 275.1 L55.1 275.0 L55.3 275.0 L55.5 275.0 L55.7 275.0 L55.9 275.0 L56.1 275.0 L56.3 275.0 L56.5 275.0 L56.7 275.0 L56.9 275.0 L57.1 275.0 L57.3 275.0 L57.5 275.0 L57.7 275.0 L57.9 275.0 L58.1 275.0 L58.3 275.0 L58.5 275.0 L58.7 275.0 L58.9 275.0 L59.1 275.0 L59.3 275.0 L59.5 275.0 L59.7 275.0 L59.9 275.0 L60.1 275.0 L60.3 274.9 L60.5 274.9 L60.7 274.9 L60.9 274.9 L61.1 274.9 L61.3 274.9 L61.5 274.9 L61.7 274.9 L61.9 274.9 L62.1 274.9 L62.3 274.9 L62.5 274.9 L62.7 274.9 L62.9 274.9 L63.1 274.9 L63.3 274.9 L63.5 274.9 L63.7 274.9 L63.9 274.9 L64.1 274.9 L64.3 274.9 L64.5 274.9 L64.7 274.9 L64.9 274.9 L65.1 274.8 L65.3 274.8 L65.5 274.8 L65.7 274.8 L65.9 274.8 L66.1 274.8 L66.3 274.8 L66.5 274.8 L66.7 274.8 L66.9 274.8 L67.1 274.8 L67.3 274.8 L67.5 274.8 L67.7 274.8 L67.9 274.8 L68.1 274.8 L68.3 274.8 L68.4 274.8 L68.6 274.8 L68.8 274.8 L69.0 274.8 L69.2 274.8 L69.4 274.7 L69.6 274.7 L69.8 274.7 L70.0 274.7 L70.2 274.7 L70.4 274.7 L70.6 274.7 L70.8 274.7 L71.0 274.7 L71.2 274.7 L71.4 274.7 L71.6 274.7 L71.8 274.7 L72.0 274.7 L72.2 274.7 L72.4 274.7 L72.6 274.7 L72.8 274.7 L73.0 274.7 L73.2 274.7 L73.4 274.6 L73.6 274.6 L73.8 274.6 L74.0 274.6 L74.2 274.6 L74.4 274.6 L74.6 274.6 L74.8 274.6 L75.0 274.6 L75.2 274.6 L75.4 274.6 L75.6 274.6 L75.8 274.6 L76.0 274.6 L76.2 274.6 L76.4 274.6 L76.6 274.6 L76.8 274.5 L77.0 274.5 L77.2 274.5 L77.4 274.5 L77.6 274.5 L77.8 274.5 L78.0 274.5 L78.2 274.5 L78.4 274.5 L78.6 274.5 L78.8 274.5 L79.0 274.5 L79.2 274.5 L79.4 274.5 L79.6 274.5 L79.8 274.4 L80.0 274.4 L80.2 274.4 L80.4 274.4 L80.6 274.4 L80.8 274.4 L81.0 274.4 L81.2 274.4 L81.4 274.4 L81.6 274.4 L81.8 274.4 L82.0 274.4 L82.2 274.3 L82.4 274.3 L82.6 274.3 L82.8 274.3 L83.0 274.3 L83.2 274.3 L83.4 274.3 L83.6 274.3 L83.8 274.3 L84.0 274.3 L84.2 274.3 L84.4 274.2 L84.6 274.2 L84.8 274.2 L85.0 274.2 L85.2 274.2 L85.4 274.2 L85.6 274.2 L85.8 274.2 L86.0 274.2 L86.2 274.1 L86.3 274.1 L86.5 274.1 L86.7 274.1 L86.9 274.1 L87.1 274.1 L87.3 274.1 L87.5 274.1 L87.7 274.0 L87.9 274.0 L88.1 274.0 L88.3 274.0 L88.5 274.0 L88.7 274.0 L88.9 273.9 L89.1 273.9 L89.3 273.9 L89.5 273.9 L89.7 273.9 L89.9 273.8 L90.1 273.8 L90.3 273.8 L90.5 273.8 L90.7 273.7 L90.9 273.7 L91.1 273.7 L91.3 273.7 L91.5 273.6 L91.7 273.6 L91.9 273.6 L92.1 273.6 L92.3 273.5 L92.5 273.5 L92.7 273.5 L92.9 273.4 L93.1 273.4 L93.3 273.4 L93.5 273.4 L93.7 273.3 L93.9 273.3 L94.1 273.3 L94.3 273.2 L94.5 273.2 L94.7 273.1 L94.9 273.1 L95.1 273.1 L95.3 273.0 L95.5 273.0 L95.7 273.0 L95.9 272.9 L96.1 272.9 L96.3 272.8 L96.5 272.8 L96.7 272.7 L96.9 272.6 L97.1 272.6 L97.3 272.5 L97.5 272.5 L97.7 272.4 L97.9 272.3 L98.1 272.3 L98.3 272.2 L98.5 272.1 L98.7 272.0 L98.9 272.0 L99.1 271.9 L99.3 271.8 L99.5 271.7 L99.7 271.6 L99.9 271.5 L100.1 271.4 L100.3 271.3 L100.5 271.2 L100.7 271.1 L100.9 271.1 L101.1 271.0 L101.3 270.8 L101.5 270.7 L101.7 270.6 L101.9 270.5 L102.1 270.4 L102.3 270.3 L102.5 270.2 L102.7 270.0 L102.9 269.9 L103.1 269.7 L103.3 269.5 L103.5 269.3 L103.7 269.2 L103.9 269.0 L104.1 268.8 L104.2 268.6 L104.4 268.4 L104.6 268.3 L104.8 268.1 L105.0 268.0 L105.2 267.8 L105.4 267.6 L105.6 267.5 L105.8 267.3 L106.0 267.1 L106.2 267.0 L106.4 266.8 L106.6 266.7 L106.8 266.6 L107.0 266.5 L107.2 266.5 L107.4 266.5 L107.6 266.5 L107.8 266.6 L108.0 266.7 L108.2 266.8 L108.4 267.0 L108.6 267.1 L108.8 267.3 L109.0 267.5 L109.2 267.7 L109.4 267.8 L109.6 268.0 L109.8 268.2 L110.0 268.4 L110.2 268.7 L110.4 268.9 L110.6 269.2 L110.8 269.5 L111.0 269.8 L111.2 270.1 L111.4 270.4 L111.6 270.6 L111.8 270.8 L112.0 271.0 L112.2 271.2 L112.4 271.3 L112.6 271.5 L112.8 271.6 L113.0 271.8 L113.2 271.9 L113.4 272.0 L113.6 272.1 L113.8 272.2 L114.0 272.4 L114.2 272.5 L114.4 272.6 L114.6 272.7 L114.8 272.8 L115.0 272.9 L115.2 273.0 L115.4 273.1 L115.6 273.1 L115.8 273.2 L116.0 273.3 L116.2 273.4 L116.4 273.4 L116.6 273.5 L116.8 273.6 L117.0 273.6 L117.2 273.7 L117.4 273.7 L117.6 273.8 L117.8 273.8 L118.0 273.9 L118.2 273.9 L118.4 273.9 L118.6 274.0 L118.8 274.0 L119.0 274.1 L119.2 274.1 L119.4 274.2 L119.6 274.2 L119.8 274.2 L120.0 274.3 L120.2 274.3 L120.4 274.3 L120.6 274.4 L120.8 274.4 L121.0 274.4 L121.2 274.5 L121.4 274.5 L121.6 274.5 L121.8 274.6 L122.0 274.6 L122.1 274.6 L122.3 274.6 L122.5 274.6 L122.7 274.7 L122.9 274.7 L123.1 274.7 L123.3 274.7 L123.5 274.7 L123.7 274.7 L123.9 274.7 L124.1 274.7 L124.3 274.7 L124.5 274.7 L124.7 274.7 L124.9 274.7 L125.1 274.7 L125.3 274.7 L125.5 274.7 L125.7 274.7 L125.9 274.7 L126.1 274.7 L126.3 274.7 L126.5 274.7 L126.7 274.7 L126.9 274.7 L127.1 274.7 L127.3 274.7 L127.5 274.7 L127.7 274.7 L127.9 274.7 L128.1 274.6 L128.3 274.6 L128.5 274.6 L128.7 274.6 L128.9 274.6 L129.1 274.6 L129.3 274.6 L129.5 274.6 L129.7 274.6 L129.9 274.6 L130.1 274.6 L130.3 274.5 L130.5 274.5 L130.7 274.5 L130.9 274.5 L131.1 274.5 L131.3 274.5 L131.5 274.5 L131.7 274.4 L131.9 274.4 L132.1 274.3 L132.3 274.3 L132.5 274.2 L132.7 274.2 L132.9 274.1 L133.1 274.1 L133.3 274.0 L133.5 273.9 L133.7 273.9 L133.9 273.8 L134.1 273.7 L134.3 273.7 L134.5 273.6 L134.7 273.5 L134.9 273.4 L135.1 273.4 L135.3 273.3 L135.5 273.2 L135.7 273.1 L135.9 273.1 L136.1 273.0 L136.3 272.9 L136.5 272.9 L136.7 272.8 L136.9 272.7 L137.1 272.7 L137.3 272.6 L137.5 272.6 L137.7 272.5 L137.9 272.4 L138.1 272.4 L138.3 272.3 L138.5 272.2 L138.7 272.2 L138.9 272.1 L139.1 272.0 L139.3 272.0 L139.5 271.9 L139.7 271.8 L139.9 271.7 L140.0 271.7 L140.2 271.6 L140.4 271.5 L140.6 271.4 L140.8 271.4 L141.0 271.3 L141.2 271.2 L141.4 271.1 L141.6 271.0 L141.8 270.9 L142.0 270.8 L142.2 270.7 L142.4 270.6 L142.6 270.5 L142.8 270.4 L143.0 270.3 L143.2 270.2 L143.4 270.1 L143.6 270.0 L143.8 269.9 L144.0 269.7 L144.2 269.6 L144.4 269.5 L144.6 269.3 L144.8 269.2 L145.0 269.0 L145.2 268.8 L145.4 268.6 L145.6 268.4 L145.8 268.2 L146.0 268.0 L146.2 267.8 L146.4 267.6 L146.6 267.3 L146.8 267.1 L147.0 266.8 L147.2 266.6 L147.4 266.3 L147.6 266.0 L147.8 265.7 L148.0 265.4 L148.2 265.1 L148.4 264.8 L148.6 264.5 L148.8 264.2 L149.0 263.8 L149.2 263.5 L149.4 263.1 L149.6 262.8 L149.8 262.4 L150.0 262.0 L150.2 261.5 L150.4 261.1 L150.6 260.6 L150.8 260.1 L151.0 259.5 L151.2 259.0 L151.4 258.4 L151.6 257.8 L151.8 257.1 L152.0 256.5 L152.2 255.8 L152.4 255.1 L152.6 254.4 L152.8 253.6 L153.0 252.8 L153.2 252.0 L153.4 251.2 L153.6 250.2 L153.8 249.3 L154.0 248.2 L154.2 247.1 L154.4 245.9 L154.6 244.6 L154.8 243.3 L155.0 241.9 L155.2 240.5 L155.4 239.0 L155.6 237.4 L155.8 235.8 L156.0 234.1 L156.2 232.2 L156.4 230.1 L156.6 227.8 L156.8 225.5 L157.0 223.0 L157.2 220.5 L157.4 218.0 L157.6 215.5 L157.8 212.7 L157.9 209.8 L158.1 206.9 L158.3 204.3 L158.5 202.0 L158.7 199.7 L158.9 197.4 L159.1 195.4 L159.3 193.7 L159.5 192.6 L159.7 192.1 L159.9 191.7 L160.1 191.7 L160.3 192.1 L160.5 192.7 L160.7 193.6 L160.9 195.1 L161.1 197.1 L161.3 199.5 L161.5 202.0 L161.7 204.3 L161.9 206.6 L162.1 209.1 L162.3 211.6 L162.5 214.1 L162.7 216.5 L162.9 218.8 L163.1 221.2 L163.3 223.5 L163.5 225.8 L163.7 228.0 L163.9 230.2 L164.1 232.2 L164.3 234.1 L164.5 235.7 L164.7 237.4 L164.9 238.9 L165.1 240.4 L165.3 241.9 L165.5 243.3 L165.7 244.6 L165.9 245.8 L166.1 247.0 L166.3 248.1 L166.5 249.1 L166.7 250.1 L166.9 251.1 L167.1 252.0 L167.3 252.9 L167.5 253.7 L167.7 254.5 L167.9 255.3 L168.1 256.1 L168.3 256.8 L168.5 257.5 L168.7 258.1 L168.9 258.7 L169.1 259.2 L169.3 259.7 L169.5 260.2 L169.7 260.6 L169.9 261.1 L170.1 261.5 L170.3 261.9 L170.5 262.3 L170.7 262.7 L170.9 263.1 L171.1 263.5 L171.3 263.8 L171.5 264.1 L171.7 264.5 L171.9 264.8 L172.1 265.1 L172.3 265.4 L172.5 265.6 L172.7 265.9 L172.9 266.1 L173.1 266.4 L173.3 266.6 L173.5 266.8 L173.7 267.0 L173.9 267.2 L174.1 267.4 L174.3 267.5 L174.5 267.7 L174.7 267.9 L174.9 268.1 L175.1 268.2 L175.3 268.4 L175.5 268.5 L175.7 268.7 L175.8 268.8 L176.0 269.0 L176.2 269.1 L176.4 269.2 L176.6 269.3 L176.8 269.5 L177.0 269.6 L177.2 269.7 L177.4 269.8 L177.6 269.9 L177.8 270.0 L178.0 270.1 L178.2 270.2 L178.4 270.3 L178.6 270.4 L178.8 270.5 L179.0 270.6 L179.2 270.6 L179.4 270.7 L179.6 270.8 L179.8 270.9 L180.0 270.9 L180.2 271.0 L180.4 271.1 L180.6 271.2 L180.8 271.2 L181.0 271.3 L181.2 271.4 L181.4 271.4 L181.6 271.5 L181.8 271.6 L182.0 271.6 L182.2 271.7 L182.4 271.7 L182.6 271.8 L182.8 271.9 L183.0 271.9 L183.2 272.0 L183.4 272.0 L183.6 272.1 L183.8 272.1 L184.0 272.2 L184.2 272.3 L184.4 272.3 L184.6 272.4 L184.8 272.4 L185.0 272.5 L185.2 272.5 L185.4 272.6 L185.6 272.6 L185.8 272.6 L186.0 272.7 L186.2 272.7 L186.4 272.8 L186.6 272.8 L186.8 272.9 L187.0 272.9 L187.2 273.0 L187.4 273.0 L187.6 273.0 L187.8 273.1 L188.0 273.1 L188.2 273.2 L188.4 273.2 L188.6 273.2 L188.8 273.3 L189.0 273.3 L189.2 273.3 L189.4 273.4 L189.6 273.4 L189.8 273.4 L190.0 273.5 L190.2 273.5 L190.4 273.5 L190.6 273.6 L190.8 273.6 L191.0 273.6 L191.2 273.7 L191.4 273.7 L191.6 273.7 L191.8 273.8 L192.0 273.8 L192.2 273.8 L192.4 273.9 L192.6 273.9 L192.8 273.9 L193.0 274.0 L193.2 274.0 L193.4 274.0 L193.6 274.1 L193.7 274.1 L193.9 274.1 L194.1 274.2 L194.3 274.2 L194.5 274.2 L194.7 274.2 L194.9 274.3 L195.1 274.3 L195.3 274.3 L195.5 274.3 L195.7 274.3 L195.9 274.4 L196.1 274.4 L196.3 274.4 L196.5 274.4 L196.7 274.4 L196.9 274.4 L197.1 274.5 L197.3 274.5 L197.5 274.5 L197.7 274.5 L197.9 274.5 L198.1 274.5 L198.3 274.5 L198.5 274.5 L198.7 274.5 L198.9 274.5 L199.1 274.5 L199.3 274.5 L199.5 274.6 L199.7 274.6 L199.9 274.6 L200.1 274.6 L200.3 274.6 L200.5 274.6 L200.7 274.6 L200.9 274.6 L201.1 274.6 L201.3 274.6 L201.5 274.6 L201.7 274.6 L201.9 274.6 L202.1 274.6 L202.3 274.6 L202.5 274.6 L202.7 274.6 L202.9 274.6 L203.1 274.7 L203.3 274.7 L203.5 274.7 L203.7 274.7 L203.9 274.7 L204.1 274.7 L204.3 274.7 L204.5 274.7 L204.7 274.7 L204.9 274.7 L205.1 274.7 L205.3 274.7 L205.5 274.7 L205.7 274.7 L205.9 274.7 L206.1 274.7 L206.3 274.7 L206.5 274.7 L206.7 274.7 L206.9 274.7 L207.1 274.7 L207.3 274.7 L207.5 274.7 L207.7 274.8 L207.9 274.8 L208.1 274.8 L208.3 274.8 L208.5 274.8 L208.7 274.8 L208.9 274.8 L209.1 274.8 L209.3 274.8 L209.5 274.8 L209.7 274.8 L209.9 274.8 L210.1 274.8 L210.3 274.8 L210.5 274.8 L210.7 274.8 L210.9 274.8 L211.1 274.8 L211.3 274.8 L211.5 274.8 L211.6 274.8 L211.8 274.8 L212.0 274.8 L212.2 274.8 L212.4 274.8 L212.6 274.8 L212.8 274.8 L213.0 274.8 L213.2 274.8 L213.4 274.8 L213.6 274.8 L213.8 274.8 L214.0 274.8 L214.2 274.8 L214.4 274.8 L214.6 274.8 L214.8 274.8 L215.0 274.8 L215.2 274.9 L215.4 274.9 L215.6 274.9 L215.8 274.9 L216.0 274.9 L216.2 274.9 L216.4 274.9 L216.6 274.9 L216.8 274.9 L217.0 274.9 L217.2 274.9 L217.4 274.9 L217.6 274.9 L217.8 274.9 L218.0 274.9 L218.2 274.9 L218.4 274.9 L218.6 274.9 L218.8 274.9 L219.0 274.9 L219.2 274.9 L219.4 274.9 L219.6 274.9 L219.8 274.9 L220.0 274.9 L220.2 274.9 L220.4 274.9" fill="none" stroke="#2b2b2b" stroke-width="1.20" stroke-linejoin="round"/>
<path d="M41.6 273.0 L41.8 273.1 L42.0 273.1 L42.2 273.1 L42.4 273.1 L42.6 273.2 L42.8 273.2 L43.0 273.2 L43.2 273.2 L43.4 273.3 L43.6 273.3 L43.8 273.3 L44.0 273.3 L44.2 273.4 L44.4 273.4 L44.6 273.4 L44.8 273.4 L45.0 273.5 L45.2 273.5 L45.4 273.5 L45.6 273.5 L45.8 273.6 L46.0 273.6 L46.2 273.6 L46.4 273.6 L46.6 273.7 L46.8 273.7 L47.0 273.7 L47.2 273.7 L47.4 273.8 L47.6 273.8 L47.8 273.8 L48.0 273.8 L48.2 273.9 L48.4 273.9 L48.6 273.9 L48.8 273.9 L49.0 274.0 L49.2 274.0 L49.4 274.0 L49.6 274.0 L49.8 274.0 L50.0 274.1 L50.2 274.1 L50.4 274.1 L50.5 274.1 L50.7 274.2 L50.9 274.2 L51.1 274.2 L51.3 274.2 L51.5 274.3 L51.7 274.3 L51.9 274.3 L52.1 274.3 L52.3 274.3 L52.5 274.4 L52.7 274.4 L52.9 274.4 L53.1 274.4 L53.3 274.5 L53.5 274.5 L53.7 274.5 L53.9 274.5 L54.1 274.5 L54.3 274.6 L54.5 274.6 L54.7 274.6 L54.9 274.6 L55.1 274.6 L55.3 274.7 L55.5 274.7 L55.7 274.7 L55.9 274.7 L56.1 274.7 L56.3 274.8 L56.5 274.8 L56.7 274.8 L56.9 274.8 L57.1 274.8 L57.3 274.9 L57.5 274.9 L57.7 274.9 L57.9 274.9 L58.1 275.0 L58.3 275.0 L58.5 275.0 L58.7 275.0 L58.9 275.0 L59.1 275.1 L59.3 275.1 L59.5 275.1 L59.7 275.1 L59.9 275.1 L60.1 275.2 L60.3 275.2 L60.5 275.2 L60.7 275.2 L60.9 275.2 L61.1 275.3 L61.3 275.3 L61.5 275.3 L61.7 275.3 L61.9 275.4 L62.1 275.4 L62.3 275.4 L62.5 275.4 L62.7 275.5 L62.9 275.5 L63.1 275.5 L63.3 275.5 L63.5 275.5 L63.7 275.6 L63.9 275.6 L64.1 275.6 L64.3 275.6 L64.5 275.7 L64.7 275.7 L64.9 275.7 L65.1 275.7 L65.3 275.8 L65.5 275.8 L65.7 275.8 L65.9 275.8 L66.1 275.9 L66.3 275.9 L66.5 275.9 L66.7 275.9 L66.9 276.0 L67.1 276.0 L67.3 276.0 L67.5 276.0 L67.7 276.1 L67.9 276.1 L68.1 276.1 L68.3 276.1 L68.4 276.2 L68.6 276.2 L68.8 276.2 L69.0 276.2 L69.2 276.3 L69.4 276.3 L69.6 276.3 L69.8 276.4 L70.0 276.4 L70.2 276.4 L70.4 276.4 L70.6 276.5 L70.8 276.5 L71.0 276.5 L71.2 276.5 L71.4 276.6 L71.6 276.6 L71.8 276.6 L72.0 276.7 L72.2 276.7 L72.4 276.7 L72.6 276.7 L72.8 276.8 L73.0 276.8 L73.2 276.8 L73.4 276.9 L73.6 276.9 L73.8 276.9 L74.0 276.9 L74.2 277.0 L74.4 277.0 L74.6 277.0 L74.8 277.1 L75.0 277.1 L75.2 277.1 L75.4 277.1 L75.6 277.2 L75.8 277.2 L76.0 277.2 L76.2 277.3 L76.4 277.3 L76.6 277.3 L76.8 277.3 L77.0 277.4 L77.2 277.4 L77.4 277.4 L77.6 277.5 L77.8 277.5 L78.0 277.5 L78.2 277.5 L78.4 277.6 L78.6 277.6 L78.8 277.6 L79.0 277.7 L79.2 277.7 L79.4 277.7 L79.6 277.8 L79.8 277.8 L80.0 277.8 L80.2 277.8 L80.4 277.9 L80.6 277.9 L80.8 277.9 L81.0 278.0 L81.2 278.0 L81.4 278.0 L81.6 278.1 L81.8 278.1 L82.0 278.1 L82.2 278.2 L82.4 278.2 L82.6 278.2 L82.8 278.3 L83.0 278.3 L83.2 278.3 L83.4 278.4 L83.6 278.4 L83.8 278.4 L84.0 278.5 L84.2 278.5 L84.4 278.5 L84.6 278.6 L84.8 278.6 L85.0 278.6 L85.2 278.7 L85.4 278.7 L85.6 278.7 L85.8 278.8 L86.0 278.8 L86.2 278.9 L86.3 278.9 L86.5 278.9 L86.7 279.0 L86.9 279.0 L87.1 279.1 L87.3 279.1 L87.5 279.1 L87.7 279.2 L87.9 279.2 L88.1 279.3 L88.3 279.3 L88.5 279.4 L88.7 279.4 L88.9 279.5 L89.1 279.5 L89.3 279.6 L89.5 279.6 L89.7 279.7 L89.9 279.7 L90.1 279.7 L90.3 279.8 L90.5 279.8 L90.7 279.9 L90.9 279.9 L91.1 280.0 L91.3 280.1 L91.5 280.1 L91.7 280.2 L91.9 280.2 L92.1 280.3 L92.3 280.3 L92.5 280.4 L92.7 280.4 L92.9 280.5 L93.1 280.5 L93.3 280.6 L93.5 280.6 L93.7 280.7 L93.9 280.7 L94.1 280.8 L94.3 280.8 L94.5 280.9 L94.7 280.9 L94.9 281.0 L95.1 281.0 L95.3 281.1 L95.5 281.1 L95.7 281.2 L95.9 281.2 L96.1 281.3 L96.3 281.3 L96.5 281.4 L96.7 281.4 L96.9 281.5 L97.1 281.6 L97.3 281.6 L97.5 281.7 L97.7 281.7 L97.9 281.8 L98.1 281.8 L98.3 281.9 L98.5 281.9 L98.7 282.0 L98.9 282.0 L99.1 282.1 L99.3 282.1 L99.5 282.2 L99.7 282.2 L99.9 282.3 L100.1 282.3 L100.3 282.4 L100.5 282.5 L100.7 282.5 L100.9 282.6 L101.1 282.6 L101.3 282.7 L101.5 282.8 L101.7 282.8 L101.9 282.9 L102.1 282.9 L102.3 283.0 L102.5 283.1 L102.7 283.2 L102.9 283.3 L103.1 283.4 L103.3 283.5 L103.5 283.5 L103.7 283.6 L103.9 283.7 L104.1 283.8 L104.2 283.9 L104.4 283.9 L104.6 284.0 L104.8 284.0 L105.0 284.0 L105.2 284.0 L105.4 284.0 L105.6 283.9 L105.8 283.8 L106.0 283.7 L106.2 283.6 L106.4 283.5 L106.6 283.4 L106.8 283.3 L107.0 283.1 L107.2 282.8 L107.4 282.5 L107.6 282.1 L107.8 281.7 L108.0 281.3 L108.2 280.8 L108.4 280.4 L108.6 280.0 L108.8 279.7 L109.0 279.3 L109.2 278.9 L109.4 278.5 L109.6 278.1 L109.8 277.7 L110.0 277.4 L110.2 277.2 L110.4 277.1 L110.6 277.0 L110.8 276.9 L111.0 276.8 L111.2 276.8 L111.4 276.7 L111.6 276.7 L111.8 276.7 L112.0 276.7 L112.2 276.8 L112.4 276.9 L112.6 277.0 L112.8 277.2 L113.0 277.3 L113.2 277.5 L113.4 277.7 L113.6 277.9 L113.8 278.0 L114.0 278.1 L114.2 278.3 L114.4 278.4 L114.6 278.5 L114.8 278.6 L115.0 278.7 L115.2 278.9 L115.4 279.0 L115.6 279.1 L115.8 279.2 L116.0 279.3 L116.2 279.4 L116.4 279.6 L116.6 279.7 L116.8 279.8 L117.0 279.9 L117.2 280.0 L117.4 280.1 L117.6 280.2 L117.8 280.3 L118.0 280.4 L118.2 280.6 L118.4 280.7 L118.6 280.8 L118.8 280.9 L119.0 281.0 L119.2 281.1 L119.4 281.2 L119.6 281.3 L119.8 281.4 L120.0 281.5 L120.2 281.6 L120.4 281.7 L120.6 281.8 L120.8 281.9 L121.0 282.0 L121.2 282.1 L121.4 282.2 L121.6 282.3 L121.8 282.4 L122.0 282.5 L122.1 282.6 L122.3 282.7 L122.5 282.8 L122.7 282.9 L122.9 283.0 L123.1 283.1 L123.3 283.1 L123.5 283.2 L123.7 283.3 L123.9 283.4 L124.1 283.5 L124.3 283.6 L124.5 283.7 L124.7 283.8 L124.9 283.9 L125.1 284.0 L125.3 284.1 L125.5 284.2 L125.7 284.3 L125.9 284.4 L126.1 284.5 L126.3 284.6 L126.5 284.7 L126.7 284.8 L126.9 284.9 L127.1 285.0 L127.3 285.2 L127.5 285.3 L127.7 285.4 L127.9 285.5 L128.1 285.6 L128.3 285.7 L128.5 285.8 L128.7 285.9 L128.9 286.0 L129.1 286.2 L129.3 286.3 L129.5 286.4 L129.7 286.5 L129.9 286.6 L130.1 286.7 L130.3 286.8 L130.5 287.0 L130.7 287.1 L130.9 287.2 L131.1 287.3 L131.3 287.4 L131.5 287.6 L131.7 287.7 L131.9 287.8 L132.1 287.9 L132.3 288.1 L132.5 288.2 L132.7 288.3 L132.9 288.4 L133.1 288.6 L133.3 288.7 L133.5 288.8 L133.7 289.0 L133.9 289.1 L134.1 289.2 L134.3 289.4 L134.5 289.5 L134.7 289.6 L134.9 289.8 L135.1 289.9 L135.3 290.1 L135.5 290.2 L135.7 290.3 L135.9 290.5 L136.1 290.6 L136.3 290.8 L136.5 290.9 L136.7 291.1 L136.9 291.3 L137.1 291.4 L137.3 291.6 L137.5 291.7 L137.7 291.9 L137.9 292.0 L138.1 292.2 L138.3 292.4 L138.5 292.5 L138.7 292.7 L138.9 292.9 L139.1 293.1 L139.3 293.2 L139.5 293.4 L139.7 293.6 L139.9 293.8 L140.0 294.0 L140.2 294.1 L140.4 294.3 L140.6 294.5 L140.8 294.7 L141.0 294.9 L141.2 295.1 L141.4 295.3 L141.6 295.5 L141.8 295.7 L142.0 295.9 L142.2 296.1 L142.4 296.3 L142.6 296.5 L142.8 296.7 L143.0 297.0 L143.2 297.2 L143.4 297.4 L143.6 297.6 L143.8 297.8 L144.0 298.1 L144.2 298.3 L144.4 298.5 L144.6 298.8 L144.8 299.0 L145.0 299.3 L145.2 299.5 L145.4 299.8 L145.6 300.0 L145.8 300.3 L146.0 300.5 L146.2 300.8 L146.4 301.1 L146.6 301.4 L146.8 301.6 L147.0 301.9 L147.2 302.2 L147.4 302.5 L147.6 302.8 L147.8 303.1 L148.0 303.4 L148.2 303.7 L148.4 304.0 L148.6 304.4 L148.8 304.7 L149.0 305.1 L149.2 305.5 L149.4 305.8 L149.6 306.2 L149.8 306.6 L150.0 307.0 L150.2 307.4 L150.4 307.8 L150.6 308.2 L150.8 308.6 L151.0 308.9 L151.2 309.3 L151.4 309.6 L151.6 309.9 L151.8 310.3 L152.0 310.6 L152.2 311.0 L152.4 311.4 L152.6 311.7 L152.8 312.0 L153.0 312.4 L153.2 312.6 L153.4 312.9 L153.6 313.1 L153.8 313.2 L154.0 313.3 L154.2 313.3 L154.4 313.4 L154.6 313.5 L154.8 313.5 L155.0 313.6 L155.2 313.6 L155.4 313.4 L155.6 313.2 L155.8 312.8 L156.0 312.3 L156.2 311.7 L156.4 311.1 L156.6 310.3 L156.8 309.3 L157.0 307.8 L157.2 306.1 L157.4 304.2 L157.6 302.0 L157.8 299.8 L157.9 297.3 L158.1 294.3 L158.3 290.8 L158.5 287.1 L158.7 283.3 L158.9 279.5 L159.1 275.9 L159.3 272.5 L159.5 269.1 L159.7 265.7 L159.9 262.4 L160.1 259.1 L160.3 256.1 L160.5 253.2 L160.7 250.5 L160.9 247.7 L161.1 245.0 L161.3 242.6 L161.5 240.4 L161.7 238.5 L161.9 237.1 L162.1 235.8 L162.3 234.6 L162.5 233.5 L162.7 232.6 L162.9 231.8 L163.1 231.2 L163.3 230.7 L163.5 230.3 L163.7 229.9 L163.9 229.7 L164.1 229.6 L164.3 229.7 L164.5 229.8 L164.7 230.1 L164.9 230.3 L165.1 230.6 L165.3 230.9 L165.5 231.2 L165.7 231.5 L165.9 231.9 L166.1 232.4 L166.3 232.8 L166.5 233.3 L166.7 233.8 L166.9 234.3 L167.1 234.9 L167.3 235.4 L167.5 235.8 L167.7 236.3 L167.9 236.7 L168.1 237.1 L168.3 237.6 L168.5 238.0 L168.7 238.4 L168.9 238.9 L169.1 239.3 L169.3 239.7 L169.5 240.1 L169.7 240.5 L169.9 240.9 L170.1 241.3 L170.3 241.7 L170.5 242.1 L170.7 242.5 L170.9 242.9 L171.1 243.2 L171.3 243.6 L171.5 243.9 L171.7 244.2 L171.9 244.6 L172.1 244.9 L172.3 245.2 L172.5 245.6 L172.7 245.9 L172.9 246.2 L173.1 246.5 L173.3 246.8 L173.5 247.1 L173.7 247.4 L173.9 247.7 L174.1 248.0 L174.3 248.3 L174.5 248.5 L174.7 248.8 L174.9 249.1 L175.1 249.3 L175.3 249.5 L175.5 249.8 L175.7 250.0 L175.8 250.2 L176.0 250.4 L176.2 250.6 L176.4 250.8 L176.6 251.0 L176.8 251.3 L177.0 251.5 L177.2 251.7 L177.4 251.9 L177.6 252.0 L177.8 252.2 L178.0 252.4 L178.2 252.6 L178.4 252.8 L178.6 253.0 L178.8 253.2 L179.0 253.3 L179.2 253.5 L179.4 253.7 L179.6 253.9 L179.8 254.0 L180.0 254.2 L180.2 254.4 L180.4 254.5 L180.6 254.7 L180.8 254.8 L181.0 255.0 L181.2 255.1 L181.4 255.3 L181.6 255.4 L181.8 255.6 L182.0 255.7 L182.2 255.9 L182.4 256.0 L182.6 256.1 L182.8 256.3 L183.0 256.4 L183.2 256.5 L183.4 256.6 L183.6 256.8 L183.8 256.9 L184.0 257.0 L184.2 257.1 L184.4 257.2 L184.6 257.3 L184.8 257.4 L185.0 257.5 L185.2 257.6 L185.4 257.7 L185.6 257.8 L185.8 257.9 L186.0 258.0 L186.2 258.1 L186.4 258.2 L186.6 258.3 L186.8 258.4 L187.0 258.5 L187.2 258.6 L187.4 258.7 L187.6 258.8 L187.8 258.9 L188.0 259.0 L188.2 259.1 L188.4 259.2 L188.6 259.2 L188.8 259.3 L189.0 259.4 L189.2 259.5 L189.4 259.6 L189.6 259.7 L189.8 259.7 L190.0 259.8 L190.2 259.9 L190.4 260.0 L190.6 260.1 L190.8 260.1 L191.0 260.2 L191.2 260.3 L191.4 260.4 L191.6 260.4 L191.8 260.5 L192.0 260.6 L192.2 260.6 L192.4 260.7 L192.6 260.8 L192.8 260.9 L193.0 260.9 L193.2 261.0 L193.4 261.1 L193.6 261.1 L193.7 261.2 L193.9 261.3 L194.1 261.3 L194.3 261.4 L194.5 261.4 L194.7 261.5 L194.9 261.6 L195.1 261.6 L195.3 261.7 L195.5 261.8 L195.7 261.8 L195.9 261.9 L196.1 261.9 L196.3 262.0 L196.5 262.0 L196.7 262.1 L196.9 262.2 L197.1 262.2 L197.3 262.3 L197.5 262.3 L197.7 262.4 L197.9 262.4 L198.1 262.5 L198.3 262.5 L198.5 262.6 L198.7 262.6 L198.9 262.7 L199.1 262.7 L199.3 262.8 L199.5 262.8 L199.7 262.9 L199.9 263.0 L200.1 263.0 L200.3 263.1 L200.5 263.1 L200.7 263.2 L200.9 263.2 L201.1 263.3 L201.3 263.3 L201.5 263.4 L201.7 263.4 L201.9 263.5 L202.1 263.5 L202.3 263.6 L202.5 263.6 L202.7 263.7 L202.9 263.7 L203.1 263.8 L203.3 263.8 L203.5 263.9 L203.7 263.9 L203.9 264.0 L204.1 264.0 L204.3 264.1 L204.5 264.1 L204.7 264.2 L204.9 264.2 L205.1 264.2 L205.3 264.3 L205.5 264.3 L205.7 264.4 L205.9 264.4 L206.1 264.5 L206.3 264.5 L206.5 264.6 L206.7 264.6 L206.9 264.7 L207.1 264.7 L207.3 264.7 L207.5 264.8 L207.7 264.8 L207.9 264.9 L208.1 264.9 L208.3 265.0 L208.5 265.0 L208.7 265.1 L208.9 265.1 L209.1 265.1 L209.3 265.2 L209.5 265.2 L209.7 265.3 L209.9 265.3 L210.1 265.3 L210.3 265.4 L210.5 265.4 L210.7 265.5 L210.9 265.5 L211.1 265.5 L211.3 265.6 L211.5 265.6 L211.6 265.6 L211.8 265.7 L212.0 265.7 L212.2 265.8 L212.4 265.8 L212.6 265.8 L212.8 265.9 L213.0 265.9 L213.2 265.9 L213.4 266.0 L213.6 266.0 L213.8 266.0 L214.0 266.1 L214.2 266.1 L214.4 266.1 L214.6 266.2 L214.8 266.2 L215.0 266.2 L215.2 266.2 L215.4 266.3 L215.6 266.3 L215.8 266.3 L216.0 266.4 L216.2 266.4 L216.4 266.4 L216.6 266.4 L216.8 266.5 L217.0 266.5 L217.2 266.5 L217.4 266.5 L217.6 266.6 L217.8 266.6 L218.0 266.6 L218.2 266.6 L218.4 266.7 L218.6 266.7 L218.8 266.7 L219.0 266.7 L219.2 266.7 L219.4 266.8 L219.6 266.8 L219.8 266.8 L220.0 266.8 L220.2 266.8 L220.4 266.8" fill="none" stroke="#e8202a" stroke-width="1.20" stroke-linejoin="round"/>
<rect x="41.6" y="188.0" width="178.8" height="131.4" fill="none" stroke="#1a1a1a" stroke-width="1.25"/>
<text x="47.6" y="210.3" font-size="20.6">(c)</text>
<path d="M56.5 225.5h24.5" stroke="#2b2b2b" stroke-width="1"/><path d="M56.5 238.8h24.5" stroke="#e8202a" stroke-width="1"/>
<text x="84.6" y="229.2" font-size="11.3">Real (Z)</text>
<text x="84.6" y="242.5" font-size="11.3">Imag (Z)</text>
<text transform="translate(19.7,256.2) rotate(-90)" text-anchor="middle" font-size="15">Impedance</text>
<text x="130.6" y="346.3" text-anchor="middle" font-size="15">Wavelength (nm)</text>
<defs><clipPath id="fc"><rect x="241.5" y="194.6" width="244.0" height="121.8"/></clipPath></defs>
<g clip-path="url(#fc)">
<rect x="241.5" y="194.6" width="244.0" height="121.8" fill="#0c0000"/>
<path d="M240.5 192.6 487.5 192.6 487.5 318.6 239.5 318.6 239.5 192.6ZM253.5 253.6 252.6 254.6 252.5 255.6 253.2 256.6 254.5 257.2 255.5 257.5 257.5 257.4 259.5 256.6 260.2 255.6 260.2 254.6 259.2 253.6 258.5 253.3 257.5 253 255.5 252.9ZM346 253.6 345.1 254.6 345 255.6 345.7 256.6 347.5 257.4 349.5 257.6 350.5 257.4 352.3 256.6 353 255.6 352.9 254.6 352.5 254.1 352 253.6 350.5 253 348.5 252.9 347.5 253Z" fill="#250000"/>
<path d="M240.5 192.6 487.5 192.6 487.5 318.6 239.5 318.6 239.5 192.6ZM252.4 252.6 251.1 253.6 250.6 254.6 250.5 255.6 251 256.6 251.5 257.1 252.5 257.9 253.5 258.3 254.7 258.6 256.5 258.8 258.2 258.6 259.5 258.2 260.9 257.6 261.5 257.1 262 256.6 262.4 255.6 262.4 254.6 261.8 253.6 260.5 252.6 259.5 252.2 257.5 251.8 255.5 251.7 253.5 252.2ZM344.8 252.6 343.4 253.6 342.8 254.6 342.8 255.6 343.2 256.6 344.3 257.6 346.5 258.5 349.5 258.8 351.5 258.5 353.7 257.6 354.7 256.6 355.2 255.6 355.1 254.6 354.6 253.6 353.3 252.6 351.5 251.9 348.5 251.6 346.5 252Z" fill="#370000"/>
<path d="M240.5 192.6 487.5 192.6 487.5 315.6 486.5 316.1 485.5 317 484.5 318.6 239.5 318.6 239.5 192.6ZM349.1 250.6 346.5 250.9 344.5 251.5 342.3 252.6 341.2 253.6 340.7 254.6 340.6 255.6 340.9 256.6 341.7 257.6 343.2 258.6 345.5 259.5 347.5 259.9 349.5 259.9 351.5 259.7 353.5 259.2 354.9 258.6 356.2 257.6 357 256.6 357.3 255.6 357.3 254.6 356.9 253.6 356 252.6 354.3 251.6 352.5 251ZM251.7 251.6 250.1 252.6 249.2 253.6 248.8 254.6 248.8 255.6 249.1 256.6 249.9 257.6 251.2 258.6 252.5 259.2 255.5 259.8 257.5 259.8 259.5 259.5 261.5 258.8 262.5 258.3 263.4 257.6 264.2 256.6 264.6 255.6 264.5 254.6 264 253.6 262.9 252.6 261.1 251.6 258.5 250.9 256.5 250.7 253.5 251Z" fill="#490000"/>
<path d="M240.5 192.6 371.9 192.6 371.7 195.6 372.1 197.6 372.5 198.8 373.5 200.4 374.5 201.4 375.5 201.9 376.5 202.1 377.5 202.1 378.5 201.7 379.5 201 380.6 199.6 381.5 197.8 381.8 196.6 382 194.6 381.8 192.6 481.9 192.6 481.7 194.6 481.8 196.6 482.6 199.6 483.5 201.3 484.5 202.6 485.6 203.6 487.5 204.6 487.5 309.9 484.5 310.9 483.3 311.6 481.5 313.1 479.7 315.6 478.7 318.6 368.5 318.6 367.5 318 366.5 317.7 365.5 317.7 364.5 318 363.4 318.6 239.5 318.6 239.5 192.6ZM348.8 249.6 346.5 249.9 344.5 250.4 341.6 251.6 340 252.6 338.7 253.6 337.9 254.6 337.8 255.6 338.1 256.6 338.8 257.6 340.1 258.6 342.1 259.6 345.5 260.7 348.5 261.1 351.5 261 354.5 260.4 357.5 259 359.2 257.6 359.9 256.6 360.2 255.6 360.1 254.6 359.8 253.6 359 252.6 357.7 251.6 355.7 250.6 353.5 249.9 351.5 249.6ZM251 250.6 249.1 251.6 248 252.6 247.3 253.6 247 254.6 246.9 255.6 247.2 256.6 247.8 257.6 248.5 258.4 249.5 259.1 251.5 260.1 253.5 260.6 255.5 260.9 257.5 260.9 260.5 260.4 263.1 259.6 265 258.6 266.3 257.6 266.9 256.6 267.2 255.6 267.1 254.6 266.5 253.6 265.3 252.6 263.8 251.6 261.5 250.6 259.5 250 256.5 249.7 253.5 249.9Z" fill="#5b0000"/>
<path d="M240.5 192.6 368.3 192.6 368.2 195.6 368.4 197.6 369.2 200.6 370.2 202.6 371.5 204.5 372.6 205.6 374.5 206.7 376.5 207.1 378.5 206.7 380.5 205.6 381.6 204.6 383.1 202.6 384.5 199.6 385 197.6 385.3 194.6 385.3 192.6 478 192.6 477.9 195.6 478.3 198.6 479.2 201.6 480.1 203.6 481.5 205.8 483.5 207.8 485.5 209.1 487.5 209.9 487.5 305.8 484.5 306.5 482.5 307.4 480.5 308.7 478.5 310.5 476.8 312.6 475.7 314.6 475 316.6 474.6 318.6 376.6 318.6 375.7 316.6 375 315.6 372.9 313.6 371.5 312.8 369.5 312.1 366.5 311.6 364.5 311.7 362.5 312.1 359.5 313.4 357.9 314.6 356.9 315.6 356.2 316.6 355.4 318.6 239.5 318.6 239.5 192.6ZM254.7 248.6 251.5 249 248.5 250.2 246.5 251.6 245.6 252.6 245.1 253.6 244.8 255.6 245 256.6 245.5 257.6 246.2 258.6 247.3 259.6 249.5 260.9 251.5 261.6 254.5 262.1 256.5 262.2 259.5 261.9 262.5 261.2 266.6 259.6 270.9 257.6 272.1 256.6 272.3 255.6 271.7 254.6 264.4 250.6 261.5 249.5 259.5 249 257.5 248.7ZM348.2 248.6 345.5 249.1 342.5 250.1 333.5 254.6 332.9 255.6 333.1 256.6 334.2 257.6 341.5 260.7 345.5 261.8 349.5 262.3 352.5 262.3 355.5 261.9 364.5 259.7 366.5 259.6 371.5 260.1 373.2 259.6 374.2 258.6 374.5 257.5 374.6 253.6 374.2 252.6 373.5 251.9 372.5 251.4 370.5 251.2 365.5 251.3 363.5 250.9 355.5 248.8 351.5 248.4Z" fill="#6b0202"/>
<path d="M243.5 192.6 365.4 192.6 365.4 196.6 365.9 199.6 366.8 202.6 368.2 205.6 370.5 208.6 372.5 210.2 374.5 211 376.5 211.2 378.5 210.9 380.5 209.9 382.5 208.2 384.6 205.6 386.2 202.6 387.2 199.6 387.8 196.6 388 192.6 474.7 192.6 474.8 196.6 475.4 200.6 476.5 204.1 478.3 207.6 480.5 210.6 482.5 212.4 484.5 213.7 487.5 214.7 487.5 301.8 484.5 302.5 481.5 303.7 478.5 305.6 476.5 307.3 474.5 309.7 472.8 312.6 471.6 315.6 471 318.6 381.3 318.6 380.7 316.6 379.5 314.4 378.1 312.6 375.7 310.6 373.5 309.3 371.5 308.5 369.5 308 366.5 307.7 363.5 307.9 361.5 308.3 358.5 309.4 356.5 310.6 354 312.6 352.5 314.4 351.3 316.6 350.6 318.6 239.5 318.6 239.5 201.9 240.5 201.7 241.5 201.1 242.5 200.1 243.3 198.6 243.6 197.6 243.8 195.6 243.6 193.6 243.3 192.6ZM367.4 245.6 364.5 246.4 361.5 246.9 351.5 247.1 346.5 247.8 342.5 249 335.5 252.3 333.5 253.1 329.5 254.2 327 254.6 325.5 255.2 323.1 255.6 323.5 256.6 326.5 257.1 328 257.6 330.5 258 334.5 259.1 341.5 261.9 345.5 263.1 350.5 263.9 360.5 264.2 363.5 264.7 369.5 266.6 371.5 266.8 373.5 266.6 375.5 265.8 377.5 264.6 379.7 262.6 381.5 260.6 382.1 259.6 382.5 257.6 382.5 253.6 382.2 252.6 381 250.6 379.5 249 377.5 247.3 375.5 246 373.5 245.2 371.5 244.9 369.5 245.1ZM251 247.6 247.5 248.6 245.5 249.6 244.5 250.3 243.2 251.6 242.6 252.6 242 254.6 242.1 256.6 242.5 257.6 243.8 259.6 245 260.6 246.5 261.6 248.5 262.5 250.5 263.1 252.5 263.4 255.5 263.6 258.5 263.4 260.5 263 264.5 261.8 271.5 259.1 275.5 258 277.7 257.6 279.5 257 281.9 256.6 282.3 255.6 272.5 253.2 269.5 252 264.5 249.5 260.5 248.1 257.5 247.5 255.5 247.3 253.5 247.3Z" fill="#7c0404"/>
<path d="M249.5 192.6 362.5 192.6 362.6 196.6 363.3 200.6 364.4 204.6 366.3 208.6 368.5 211.7 370.5 213.6 372.5 214.9 373.5 215.3 375.5 215.6 377.5 215.3 380.5 213.9 383.5 211.3 385.6 208.6 387.9 204.6 389.4 200.6 390.3 196.6 390.6 192.6 471.5 192.6 471.7 197.6 472.6 202.6 474.3 207.6 476.4 211.6 478.5 214.6 481.5 217.6 484.5 219.4 487.5 220.3 487.5 297.5 483.5 298.4 480.5 299.7 477.5 301.5 474.5 304.2 471.7 307.6 469.9 310.6 468.3 314.6 467.4 318.6 385.5 318.6 384.5 315.6 382.8 312.6 380.5 309.8 378.5 308.1 375.5 306.2 372.5 305 369.5 304.3 366.5 304 362.5 304.4 359.5 305.2 356.5 306.5 353.5 308.4 351 310.6 348.6 313.6 347.5 315.6 346.5 318.6 239.5 318.6 239.5 260 241 261.6 242.4 262.6 244.5 263.7 246.5 264.5 250.5 265.3 255.5 265.3 258.5 264.9 261.5 264.1 264.5 263.1 271.5 260.1 274.5 259.3 281.5 258 289.5 257.1 296.4 256.6 298.6 255.6 290.5 255.1 281.5 254.1 275.5 253 271.5 251.8 264.5 248.4 261.5 247.2 257.5 246.1 254.5 245.7 249.5 245.8 245.5 246.7 243.5 247.5 241.7 248.6 239.5 250.6 239.5 209.2 241.5 208.6 243.5 207.3 245.2 205.6 246.5 203.6 247.5 201.5 248.3 198.6 248.7 195.6 248.5 192.6ZM368.2 240.6 363.5 242.7 360.5 243.8 357.2 244.6 349.5 245.9 344.5 247.2 340.5 248.9 334.5 251.9 330.5 253 324.5 254.1 316.5 255.1 308.3 255.6 310.4 256.6 318.5 257.2 325.5 258.1 331.5 259.3 334.5 260 341.5 263.1 345.5 264.4 348.5 265.2 356.3 266.6 359.5 267.4 368.5 271.3 370.5 271.7 372.5 271.6 374.5 270.9 377.5 268.8 386.9 259.6 387.6 258.6 388.1 257.6 388.2 254.6 387.8 253.6 386.1 251.6 378.5 243.9 375.5 241.3 373.5 240.3 371.5 239.9 369.5 240.2ZM476.2 243.6 474.5 244.1 471.5 246 468.5 248.7 465.7 251.6 465 252.6 464.6 253.6 464.5 257.6 464.6 258.6 465.9 260.6 470.5 265 473.5 267.1 475.5 267.8 476.5 267.9 478.1 267.6 479.5 266.8 480.6 265.6 481.7 263.6 482.3 261.6 482.6 259.6 482.7 253.6 482.3 249.6 481.3 246.6 480.5 245.5 479.5 244.5 478.5 243.9 477.5 243.6Z" fill="#8c0505"/>
<path d="M252.5 192.6 359.5 192.6 359.8 197.6 360.7 202.6 362.3 207.6 364.2 211.6 366.5 215.4 369.5 219.2 371.5 220.8 372.5 221.4 374.5 221.6 375.5 221.4 377.5 220.5 380.5 218.2 384.5 214.1 387.5 210 389.9 205.6 391.5 201.6 392.7 196.6 393.2 192.6 468 192.6 468.5 198.6 469 201.6 470 205.6 472.5 212.5 477.8 223.6 479.1 226.6 479.5 228.6 479.4 229.6 479.1 230.6 477.6 232.6 474.5 236.2 467.3 245.6 464.4 248.6 460.5 251.9 436.4 254.6 432.5 255.3 427.9 255.6 429.5 256.6 434.5 257 438.2 257.6 460.5 260.1 463.5 262.5 465.7 264.6 473.5 273.7 475.5 275.4 477.5 276.4 478.5 276.7 480.1 276.6 481.5 276.2 482.5 275.6 483.8 274.6 485.5 272.8 487.5 269.5 487.5 291.4 483.5 292.2 481.5 293 479.5 294.1 475.5 297.3 472.5 300.5 469.4 304.6 466.5 309.6 464.9 313.6 463.6 318.6 389.6 318.6 388.1 314.6 386.4 311.6 384.1 308.6 381.1 305.6 377.5 303 374.5 301.4 370.5 300.2 367.5 299.9 363.5 300.2 359.5 301.3 355.5 303.1 351.7 305.6 348.5 308.4 345.8 311.6 344 314.6 342.4 318.6 239.5 318.6 239.5 266.8 243.5 267.9 246.5 268.2 249.5 268.3 253.5 267.8 257.5 266.9 261.5 265.6 272.5 260.6 278.5 259.2 283.5 258.4 298.2 256.6 299.8 255.6 294.5 255.1 285.5 254 279.5 253 274.5 252 271.5 251 265.5 247.8 261.5 245.9 258.5 244.9 254.5 243.8 250.5 243.2 246.5 243.1 243.5 243.4 239.5 244.4 239.5 215.6 242.5 214.3 244.5 212.8 246.5 210.8 248.7 207.6 250.5 203.9 251.6 200.6 252.3 196.6ZM369.8 233.6 367.5 234.8 361.1 239.6 358.5 241.1 354.9 242.6 344.5 246 340.5 247.9 334.5 251.1 330.5 252.2 325.5 253.3 312.5 255.1 307 255.6 308.5 256.6 313.5 257.1 322.5 258.3 328.5 259.4 334.5 260.8 343.5 265.1 355.8 269.6 359.6 271.6 364.5 274.9 366.5 276.1 368.5 276.9 370.5 277.2 372.5 276.9 373.5 276.5 375.5 275.2 377.5 273.2 383.6 265.6 385.6 263.6 388.5 261.1 400.5 259.1 411.7 257.6 414.5 257.1 419.5 256.6 421 255.6 415.5 255.1 413.2 254.6 408.5 254.1 395.5 252.1 388.5 250.9 385.8 248.6 383 245.6 376.5 236.6 374.5 234.5 373.5 233.8 372.5 233.3 371.5 233.2ZM487.5 231.1 487.5 238.1 486.8 235.6 486.4 233.6 486.6 232.6 487 231.6Z" fill="#9d0707"/>
<path d="M256.5 192.6 355.9 192.6 356.6 198.6 357.9 204.6 359.8 210.6 363.3 219.6 364.3 223.6 364.3 226.6 363.8 228.6 362.3 231.6 360.1 234.6 357.3 237.6 354.7 239.6 353.1 240.6 342.5 245.8 334.5 250.3 329.5 251.8 324.5 252.9 311.5 255 306.4 255.6 307.6 256.6 324.5 259.2 329.5 260.2 334.5 261.6 349.5 269.6 352.8 271.6 356.5 274.6 362.5 280.8 365.5 283.6 367.5 285.1 368.5 285.5 369.5 285.9 370.5 285.9 372.5 285.2 373.5 284.4 375.5 282.2 377.5 279.1 381 272.6 383.5 268.6 385.8 265.6 388.5 262.9 389.5 262.5 396.5 261.1 417.5 257.1 420.9 256.6 422 255.6 418.5 255.1 397.5 251.1 389.5 249.5 388.5 249.1 386 246.6 383.7 243.6 382 240.6 380.6 237.6 379.6 234.6 378.9 231.6 378.9 228.6 379.4 226.6 380.2 224.6 381.3 222.6 388.4 212.6 391.8 206.6 393.1 203.6 394.5 199.6 395.3 196.6 396 192.6 464 192.6 464.6 197.6 465.6 202.6 466.9 207.6 470.7 219.6 471.4 222.6 471.7 225.6 471.7 228.6 471 232.6 469.2 237.6 467.2 241.6 465.3 244.6 463.7 246.6 460.5 249.6 459.5 250.1 426.8 255.6 428 256.6 459.5 261.9 460.5 262.4 463 264.6 464.7 266.6 466.9 269.6 469.1 273.6 471.7 279.6 473 283.6 473.4 286.6 473 289.6 472.4 291.6 471 294.6 465.1 304.6 462.5 309.6 460.9 313.6 459.4 318.6 393.9 318.6 392.7 315.6 390.6 311.6 387.7 307.6 384.5 304 379.5 299.2 374.5 295.1 371.5 293.3 369.5 292.8 368.5 292.8 366.5 293.2 361.5 295.2 355.5 298.6 350.5 302.2 346.5 305.8 343.2 309.6 340.5 313.6 339 316.6 338.2 318.6 239.5 318.6 239.5 279.1 248.5 273.6 261.5 267.2 272.5 261.3 277.5 260.1 282.5 259.1 299.1 256.6 300.5 255.6 282.5 253 277.5 252 272.5 250.7 262.5 245.1 258.5 243.2 250 239.6 246 237.6 243.2 235.6 241.3 233.6 240.2 231.6 239.9 230.6 239.8 229.6 240.1 227.6 241.7 224.6 248.5 215.3 250.5 212 252.2 208.6 253.9 204.6 255.1 200.6 255.8 197.6Z" fill="#ad0a08"/>
<path d="M261.5 192.6 350.9 192.6 353 201.6 357.4 216.6 358.3 221.6 358.3 225.6 357.6 228.6 355.9 232.6 354 235.6 351.3 238.6 348.8 240.6 334.5 249.6 330.5 251 324.5 252.4 306 255.6 307.1 256.6 324 259.6 330.5 261.1 334.5 262.3 342.9 267.6 348.2 271.6 350.3 273.6 351.9 275.6 353.9 278.6 355.4 281.6 356.4 284.6 356.6 286.6 356.6 287.6 356.2 289.6 355.2 291.6 352.9 294.6 344.5 303.3 340.5 307.9 336.4 313.6 333.5 318.6 251.5 318.6 249.2 313.6 247.7 308.6 246.8 302.6 246.9 296.6 247.7 290.6 249.2 285.6 250.3 282.6 251.8 279.6 254.4 275.6 257.1 272.6 260.8 269.6 268.2 264.6 272.5 262 277.5 260.7 283.5 259.4 299.7 256.6 300.8 255.6 281.5 252.3 276.5 251.2 272.5 250 259.2 241.6 256.4 239.6 254.1 237.6 251.7 234.6 250.6 232.6 249.8 229.6 249.6 226.6 250 223.6 251.7 218.6 257.2 205.6 259.3 199.6 261.2 192.6ZM399.5 192.6 458.6 192.6 461.2 201.6 466.1 216.6 467.2 220.6 467.9 224.6 468.1 229.6 467.7 233.6 466.7 237.6 465.1 241.6 462.5 245.6 460.8 247.6 459.5 248.6 426.4 255.6 427.5 256.7 459.5 263.4 461 264.6 462.7 266.6 464.1 268.6 465.7 271.6 467.2 275.6 468.3 280.6 468.6 285.6 468.1 289.6 467.2 292.6 465.9 295.6 457.9 310.6 454.3 318.6 398.7 318.6 396.5 314.6 393.9 310.6 390.9 306.6 383.6 297.6 381.6 294.6 380.6 292.6 379.7 289.6 379.6 286.6 380 282.6 381 278.6 382.3 274.6 384.1 270.6 385.9 267.6 388.5 264.5 389.5 263.8 421.5 256.6 422.5 255.6 419.5 255 389.5 248.2 388.5 247.5 386.2 244.6 384.4 241.6 383.2 238.6 382.2 234.6 382 231.6 382.3 228.6 383.1 225.6 385 221.6 391.3 211.6 394.5 205.6 397.2 199.6Z" fill="#be0d08"/>
<path d="M267.5 193.4 268.1 192.6 342.3 192.6 344.5 195.7 346.5 199.3 349.2 205.6 351.3 211.6 352.7 216.6 353.4 221.6 353.4 225.6 352.6 229.6 351.2 233.6 349.4 236.6 346.9 239.6 344.7 241.6 337.9 246.6 334.5 248.9 333.5 249.4 328.5 251 323.5 252.2 305.7 255.6 306.6 256.6 324.5 260.2 331.5 262 334.5 263.1 340.8 267.6 343.2 269.6 345.2 271.6 346.8 273.6 348.1 275.6 349.8 279.6 350.7 283.6 350.7 286.6 350.1 289.6 348.8 292.6 345.3 297.6 336 308.6 327.8 318.6 270 318.6 266.5 315.4 263.5 312 261.1 308.6 258.8 304.6 257.2 300.6 255.9 295.6 255.4 290.6 255.5 286.6 256.1 282.6 257.2 278.6 259.2 274.6 261.5 271.6 265.8 267.6 272.5 262.8 276.5 261.6 282.5 260.1 300.2 256.6 301.1 255.6 282.5 252.1 277.5 250.9 272.5 249.3 267.2 245.6 262 241.6 258.8 238.6 256.7 235.6 255.4 232.6 254.9 230.6 254.6 228.6 254.6 224.6 255.4 220.6 257.4 214.6 261.5 204.8 264.5 198.5ZM404.5 192.6 450.3 192.6 453.5 196.8 456.5 202 460.5 210.4 463.3 217.6 464.5 221.6 465.3 225.6 465.7 229.6 465.5 233.6 465 236.6 463.8 240.6 462.3 243.6 460.1 246.6 459.5 247.2 458.5 247.5 426.2 255.6 426.9 256.6 427.5 256.8 459.5 264.7 461.1 266.6 462.4 268.6 464.3 272.6 464.9 274.6 465.5 277.6 465.9 282.6 465.3 287.6 464.2 291.6 462 296.6 458.5 302.8 452.5 312 447.6 318.6 404.6 318.6 388.2 298.6 385.6 294.6 383.9 290.6 383.1 287.6 382.8 283.6 383 280.6 383.7 276.6 384.9 272.6 386.2 269.6 388.1 266.6 389.5 265 421.5 256.7 421.9 256.6 422.7 255.6 389.5 246.9 388.3 245.6 387 243.6 386 241.6 384.9 238.6 384.2 234.6 384.1 231.6 384.8 227.6 385.9 224.6 387.9 220.6 395.8 207.6 402.5 195.4 404.2 192.6Z" fill="#cf1108"/>
<path d="M277.5 193 278.1 192.6 330.1 192.6 333.5 194.8 335.9 196.6 338.5 199 340.8 201.6 342.9 204.6 344.7 207.6 346.1 210.6 347.6 214.6 348.7 218.6 349.3 222.6 349.4 226.6 349.1 229.6 348 233.6 346.6 236.6 345.3 238.6 342.6 241.6 338 245.6 334.5 248.2 333.5 248.8 327.8 250.6 323.5 251.8 305.4 255.6 306.5 256.7 324.2 260.6 330.5 262.4 334.1 263.6 338.1 266.6 342.2 270.6 343.7 272.6 344.8 274.6 346.3 278.6 346.9 281.6 347 283.6 346.6 287.6 345.2 291.6 342.9 295.6 338.3 301.6 330.5 310.1 325.5 314.8 322.5 317.1 320.2 318.6 283.4 318.6 279.5 316.6 275.5 314.1 272.5 311.7 269.5 308.9 266.7 305.6 264.6 302.6 263 299.6 261.3 295.6 260.2 291.6 259.8 288.6 259.6 284.6 260 280.6 260.7 277.6 261.9 274.6 263.8 271.6 266.4 268.6 271 264.6 272.5 263.5 273.5 263.1 283.5 260.3 300.5 256.6 301.4 255.6 282.4 251.6 276.5 250 272.5 248.6 267.4 244.6 263.1 240.6 260.8 237.6 259.3 234.6 258.7 232.6 258.1 229.6 258 227.6 258.2 224.6 259.2 219.6 261.5 213.3 264.9 206.6 268.5 201.1 270.5 198.7 272.5 196.7 274.5 195ZM411.5 193.4 413.4 192.6 436.2 192.6 440.5 194.2 444.5 196.3 447.5 198.5 450.5 201.3 453.5 204.9 455.5 207.8 457.8 211.6 460.2 216.6 462.1 221.6 463.1 225.6 463.6 228.6 463.8 231.6 463.4 236.6 462.9 238.6 461.9 241.6 460.9 243.6 459.5 245.7 458.5 246.3 426 255.6 426.5 256.6 458.5 265.7 459.5 266.2 459.8 266.6 461.6 269.6 462.7 272.6 463.5 275.6 463.9 280.6 463.7 283.6 463.2 286.6 462.3 289.6 461.2 292.6 457.9 298.6 455.5 302.3 452.5 306.2 447.5 311.7 444.5 314.4 442.5 315.8 440.5 317 437.2 318.6 413.6 318.6 410.5 317 406.5 314.2 402.5 310.8 397.5 305.8 392.9 300.6 389.9 296.6 388.1 293.6 386.3 289.6 385.5 286.6 385.1 284.6 384.9 281.6 385.1 278.6 385.5 275.6 386 273.6 387.1 270.6 388.1 268.6 389.5 266.4 390.5 265.9 394.9 264.6 421.5 256.8 422.2 256.6 422.8 255.6 396.5 247.9 390.5 246 389.6 245.6 388.3 243.6 387.3 241.6 386.1 237.6 385.8 233.6 386.2 229.6 387.4 225.6 389.8 220.6 397.5 208.4 400.5 204 403.5 200.1 405.5 197.9 407.5 196 409.5 194.5Z" fill="#e01408"/>
<path d="M288.5 193.3 290.8 192.6 316.8 192.6 321.5 194.2 325.5 195.9 329.5 198.2 332.8 200.6 336.2 203.6 338.8 206.6 341.5 210.5 343.6 214.6 345.1 218.6 346 222.6 346.3 226.6 346.2 229.6 345.8 232.6 344.8 235.6 343.3 238.6 341.9 240.6 339 243.6 335.6 246.6 333.5 248.1 326 250.6 318.4 252.6 305.3 255.6 306 256.6 306.5 256.8 322.4 260.6 333.5 263.9 335.7 265.6 337.9 267.6 339.7 269.6 341.2 271.6 342.3 273.6 343.1 275.6 343.9 278.6 344.2 280.6 344.2 283.6 343.8 286.6 342.9 289.6 342 291.6 341 293.6 339 296.6 336.7 299.6 333.5 303.2 327.5 308.9 324.5 311.2 321.5 313.2 318.5 314.8 315.5 316 312.5 317 309.5 317.6 306.5 317.9 302.5 318.1 298.5 317.8 294.5 317.2 290.5 316.3 286.5 314.9 282.5 313 279.5 311.3 276.5 309.2 273.4 306.6 270.5 303.6 268.2 300.6 266.4 297.6 264.9 294.6 263.8 291.6 262.9 287.6 262.5 283.6 262.6 280.6 263.1 277.6 264 274.6 265 272.6 267 269.6 269.8 266.6 272.1 264.6 273.5 263.7 280.5 261.6 300.5 256.7 300.8 256.6 301.6 255.6 282.5 251.1 275.5 249.1 273.5 248.4 272.5 247.9 267.6 243.6 265.7 241.6 264.1 239.6 262.4 236.6 261.7 234.6 261.2 232.6 260.9 230.6 260.8 227.6 261.1 224.6 261.7 221.6 263 217.6 264.3 214.6 265.9 211.6 267.7 208.6 269.5 206.1 271.5 203.8 273.8 201.6 276.5 199.4 279.5 197.4 282.5 195.7ZM416.5 196.5 420.5 195.8 424.5 195.7 428.5 195.9 432.5 196.5 436.5 197.6 440.5 199.2 443.5 200.8 446.5 202.8 449.5 205.4 452.5 208.6 454.7 211.6 457.2 215.6 459.2 219.6 460.7 223.6 461.7 227.6 462.1 230.6 462.2 234.6 461.6 238.6 460.2 242.6 459.5 244 458.5 245.1 425.8 255.6 426.5 256.7 458.5 266.9 459.3 267.6 459.9 268.6 461.1 271.6 461.9 274.6 462.3 277.6 462.3 280.6 461.9 283.6 461 287.6 459.8 290.6 458.4 293.6 456.5 296.8 453.8 300.6 451.5 303.3 449.5 305.5 446.5 308.2 443.5 310.5 440.5 312.3 437.5 313.7 434.5 314.8 431.5 315.5 428.5 316 424.5 316.2 421.5 316 418.5 315.5 415.5 314.7 412.5 313.6 409.5 312.1 406.5 310.2 403.5 308 399.5 304.4 396.5 301.4 393.5 297.9 391.1 294.6 389.4 291.6 388.1 288.6 387.2 285.6 386.7 282.6 386.6 277.6 387.3 273.6 388.7 269.6 389.5 268 390.5 267.1 422.5 256.6 423 255.6 390.5 244.9 389.5 243.8 388.5 241.6 387.8 239.6 387.3 236.6 387.1 234.6 387.3 231.6 388 228.6 389 225.6 390.4 222.6 392.1 219.6 397.5 211.5 402.5 205.2 406.5 201.4 408.5 199.9 411.5 198.2 414.5 197.1Z" fill="#eb1e07"/>
<path d="M294.5 195.5 298.5 194.9 302.5 194.6 307.5 194.8 311.5 195.3 315.5 196.2 319.5 197.4 323.5 199.1 326.5 200.8 329.5 202.7 333 205.6 335.9 208.6 338.3 211.6 340.1 214.6 342 218.6 342.9 221.6 343.7 225.6 343.9 228.6 343.8 231.6 343.2 234.6 342.1 237.6 341 239.6 338.7 242.6 335.8 245.6 333.5 247.5 327.6 249.6 322.5 251.1 305.2 255.6 305.8 256.6 306.5 256.8 320.8 260.6 333.5 264.6 336.7 267.6 338.3 269.6 339.7 271.6 340.6 273.6 341.3 275.6 341.8 277.6 342.1 280.6 341.9 283.6 341.3 286.6 340.3 289.6 339.4 291.6 338.2 293.6 336.2 296.6 333.7 299.6 330.8 302.6 325.5 307.1 322.5 309.1 319.5 310.8 316.5 312.1 313.5 313.1 310.5 313.9 307.5 314.3 303.5 314.6 299.5 314.4 296.5 314 292.5 313.2 288.5 311.9 285.5 310.7 282.5 309.1 279.5 307.3 276.5 305 273.9 302.6 271.5 299.8 269.5 297 267.6 293.6 266.3 290.6 265.4 287.6 264.9 284.6 264.7 281.6 264.9 278.6 265.2 276.6 266.1 273.6 267.1 271.6 268.4 269.6 270 267.6 272.5 265.1 273.5 264.4 282.3 261.6 300.5 256.8 301 256.6 301.7 255.6 282.2 250.6 273.2 247.6 269.8 244.6 266.4 240.6 265.1 238.6 264.3 236.6 263.3 232.6 263.1 229.6 263.3 226.6 263.8 223.6 264.7 220.6 265.9 217.6 267.5 214.4 269.5 211.2 271.5 208.6 273.5 206.5 276.5 203.8 281.5 200.4 284.5 198.8 287.5 197.5 291.5 196.2ZM418.5 199.5 421.5 199.1 425.5 199.1 429.5 199.4 433.5 200.2 436.5 201 440.5 202.7 443.5 204.3 446.5 206.4 449.5 209 451.5 211.1 454.2 214.6 456.1 217.6 458.2 221.6 459.3 224.6 460.2 227.6 460.8 231.6 460.9 235.6 460.5 238.6 459.6 241.6 458.5 243.9 425.6 255.6 426.5 256.8 458.5 268.1 459.3 269.6 460.3 272.6 460.8 275.6 461 277.6 460.9 280.6 460.4 283.6 459.6 286.6 458.4 289.6 456.9 292.6 455 295.6 452.8 298.6 450.5 301.2 448.5 303.2 445.5 305.7 442.5 307.8 439.5 309.5 436.5 310.8 433.5 311.7 430.5 312.4 427.5 312.7 423.5 312.8 420.5 312.5 417.5 312 414.5 311.2 411.5 310 408.5 308.4 405.5 306.6 402.5 304.3 399.5 301.7 396.5 298.6 394 295.6 392 292.6 390.4 289.6 389.2 286.6 388.4 283.6 388 280.6 388 276.6 388.4 273.6 389.3 270.6 390.5 268.2 422.5 256.7 423.1 255.6 390.5 243.7 389.9 242.6 389.1 240.6 388.4 236.6 388.4 233.6 388.8 230.6 389.6 227.6 390.9 224.6 392.4 221.6 394.5 218.2 399.5 211.5 402.5 208.1 404.5 206.2 408.5 203.2 410.5 202.1 413.5 200.8Z" fill="#f22d05"/>
<path d="M303.5 197.6 307.5 197.8 311.5 198.3 315.5 199.3 318.5 200.2 321.5 201.5 324.5 203 327.5 204.9 330.5 207.2 333.1 209.6 335.5 212.4 337.1 214.6 338.8 217.6 340.1 220.6 341.1 223.6 341.8 227.6 342 230.6 341.5 234.6 341 236.6 340.2 238.6 339.1 240.6 337.6 242.6 335.8 244.6 333.5 246.8 322.9 250.6 305 255.6 305.5 256.6 322.7 261.6 333.5 265.3 336.5 268.6 337.8 270.6 338.8 272.6 340 276.6 340.3 280.6 340 283.6 339.3 286.6 338.1 289.6 337.1 291.6 335.1 294.6 332.8 297.6 330.5 300 327.5 302.7 322.5 306.3 319.5 308 316.5 309.3 313.5 310.3 310.5 311.1 307.5 311.5 303.5 311.8 300.5 311.7 296.5 311.2 292.5 310.3 289.5 309.4 286.5 308.1 283.5 306.6 280.5 304.7 277.8 302.6 275.5 300.5 272.9 297.6 270.8 294.6 269.7 292.6 268.3 289.6 267.3 286.6 266.7 283.6 266.5 280.6 266.8 276.6 267.9 272.6 268.9 270.6 270.2 268.6 271.9 266.6 273.5 265.1 284 261.6 300.5 256.9 301.2 256.6 301.8 255.6 283.8 250.6 273.5 247.1 271.8 245.6 269.9 243.6 268.3 241.6 267.1 239.6 266.2 237.6 265.5 235.6 265.1 233.6 264.9 230.6 265.2 227.6 265.7 224.6 266.6 221.6 267.9 218.6 269.5 215.6 271.6 212.6 274.2 209.6 276.5 207.4 279.5 205 282.5 203.1 285.5 201.5 288.5 200.3 291.5 199.3 295.5 198.3 299.5 197.8ZM416.5 202.5 419.5 202 423.5 201.6 427.5 201.8 430.5 202.1 434.5 203 437.5 204 441.5 205.9 444.5 207.7 447.5 210 450.2 212.6 452.5 215.2 454.5 218.1 456.5 221.6 457.8 224.6 459.1 228.6 459.6 231.6 459.8 235.6 459.4 238.6 458.5 241.9 458.1 242.6 457.5 243.1 425.5 255.6 426.1 256.6 426.5 256.9 457.5 268.9 458.3 269.6 459 271.6 459.6 274.6 459.8 276.6 459.7 279.6 459.3 282.6 457.7 287.6 456.3 290.6 454.5 293.5 452.5 296.3 450.5 298.6 448.5 300.6 445.5 303.2 440.5 306.4 437.5 307.8 434.5 308.8 431.5 309.6 428.5 310.1 424.5 310.3 421.5 310.1 418.5 309.7 415.5 309 412.5 307.9 409.5 306.6 406.5 304.8 403.5 302.8 400.5 300.3 397.8 297.6 395.5 295 393.5 292.2 392 289.6 390.7 286.6 389.8 283.6 389.2 280.6 389.1 276.6 389.4 273.6 390.5 269.9 391.5 269 422.5 256.8 423.3 255.6 391.5 242.9 390.5 241.9 389.7 238.6 389.4 235.6 389.6 232.6 390 230.6 390.9 227.6 393.2 222.6 397.2 216.6 401.5 211.5 403.5 209.5 406.5 207.1 409.5 205.2 411.5 204.2Z" fill="#f83b02"/>
<path d="M297.5 200.5 301.5 200.1 305.5 200.1 308.5 200.4 312.5 201 316.5 202.1 319.5 203.3 323.5 205.2 326.5 207.1 329.5 209.5 331.8 211.6 334.3 214.6 336.3 217.6 337.9 220.6 339.1 223.6 339.8 226.6 340.3 229.6 340.3 232.6 340.1 234.6 339.6 236.6 338.9 238.6 337.9 240.6 336.6 242.6 333.5 246.1 329.9 247.6 321.5 250.6 304.9 255.6 305.5 256.7 321.3 261.6 332.5 265.6 333.5 266.2 335.5 268.6 337.2 271.6 338.3 274.6 338.8 278.6 338.7 280.6 338.3 283.6 337.8 285.6 336.6 288.6 335 291.6 333.7 293.6 331.5 296.3 329.3 298.6 326.5 301.1 323.5 303.3 318.5 306.1 315.5 307.3 312.5 308.3 309.5 308.9 306.5 309.3 303.5 309.4 299.5 309.3 296.5 308.8 292.5 307.9 289.5 306.9 285.5 305.1 280.5 302 277.6 299.6 275.7 297.6 273.5 295 271.9 292.6 270.3 289.6 269.2 286.6 268.4 283.6 268 280.6 268.2 276.6 269.1 272.6 270 270.6 271.2 268.6 273.5 265.8 285.5 261.6 300.5 256.9 301.4 256.6 301.9 255.6 285.2 250.6 273.5 246.5 270.9 243.6 268.8 240.6 267.9 238.6 267.2 236.6 266.7 233.6 266.6 231.6 266.8 228.6 267.3 225.6 268.3 222.6 269.6 219.6 271.3 216.6 273.5 213.7 275.3 211.6 277.5 209.5 280.5 207.2 285.5 204.2 288.5 202.9 291.5 201.8ZM417.5 204.4 420.5 203.9 424.5 203.7 428.5 204 431.5 204.4 434.5 205.2 438.5 206.6 441.5 208.1 444.5 209.9 447.5 212.3 449.5 214.2 451.6 216.6 453.8 219.6 455.5 222.6 456.9 225.6 458.1 229.6 458.6 232.6 458.8 235.6 458.6 237.6 458.1 240.6 457.5 241.9 425.4 255.6 425.9 256.6 426.5 257 457.5 270.1 457.9 270.6 458.2 271.6 458.8 275.6 458.7 278.6 458.3 281.6 457.8 283.6 456.8 286.6 454.1 291.6 452.5 293.9 450.3 296.6 447.5 299.4 445.5 301 442.5 303.1 440.5 304.3 437.5 305.7 434.5 306.7 431.5 307.5 428.5 308 425.5 308.2 421.5 308.1 418.5 307.6 415.5 306.9 412.5 305.9 409.5 304.5 406.5 302.8 403.5 300.8 400.5 298.2 398.5 296.3 396.2 293.6 394.1 290.6 393 288.6 391.6 285.6 390.7 282.6 390.2 279.6 390.1 276.6 390.2 274.6 390.8 271.6 391.5 270.2 422.5 256.9 422.9 256.6 423.4 255.6 391.5 241.7 390.9 240.6 390.5 238.6 390.4 236.6 390.5 233.6 390.8 231.6 391.7 228.6 393.9 223.6 395.7 220.6 397.9 217.6 400.5 214.5 402.5 212.5 406.5 209.1 408.5 207.9 411.5 206.3 414.5 205.2Z" fill="#ff4a00"/>
<path d="M298.5 202.5 301.5 202.2 305.5 202.2 308.5 202.5 312.5 203.2 316.5 204.4 319.5 205.6 322.5 207.1 325.5 208.9 328.5 211.3 330.5 213.1 332.7 215.6 334.8 218.6 336.4 221.6 337.6 224.6 338.4 227.6 338.8 230.6 338.8 234.6 338.4 236.6 337.8 238.6 336.9 240.6 335.6 242.6 334.1 244.6 333.1 245.6 332.5 246 323.1 249.6 304.8 255.6 305.5 256.7 320 261.6 332.5 266.3 333 266.6 334.6 268.6 336.2 271.6 337.1 274.6 337.5 277.6 337.3 280.6 337 282.6 336.2 285.6 335.4 287.6 333.8 290.6 332.4 292.6 330.5 295 328 297.6 323.5 301.2 320.5 303 317.5 304.5 314.5 305.7 311.5 306.5 308.5 307.1 305.5 307.4 301.5 307.4 298.5 307.2 292.5 305.9 289.5 304.8 286.5 303.5 281.5 300.4 278.5 297.9 276.5 295.9 274.5 293.4 272.7 290.6 271.2 287.6 270.2 284.6 269.7 282.6 269.3 279.6 269.5 275.6 270.2 272.6 271.5 269.6 273.6 266.6 274.5 266.1 283.9 262.6 301.5 256.6 302 255.6 283.5 249.6 273.5 245.7 271 242.6 269.4 239.6 268.4 236.6 268 233.6 268 231.6 268.3 228.6 269 225.6 270.1 222.6 271.5 219.8 272.9 217.6 274.5 215.4 276.5 213.1 278.5 211.3 281.5 208.9 286.5 206 289.5 204.7 292.5 203.7 295.5 203ZM421.5 205.6 424.5 205.5 428.5 205.7 431.5 206.2 434.5 206.9 437.5 208 440.5 209.4 443.5 211.1 446.5 213.4 448.5 215.2 450.7 217.6 453 220.6 454.7 223.6 456.1 226.6 457.1 229.6 457.6 232.6 457.8 234.6 457.8 237.6 457.5 239.6 457.1 240.6 456.5 241.1 425.4 255.6 425.8 256.6 426.5 257 456.5 270.9 457.2 271.6 457.5 272.4 457.9 275.6 457.8 278.6 457.3 281.6 456.3 284.6 455.5 286.6 454 289.6 452.5 291.8 450.5 294.4 448.5 296.5 446.5 298.4 443.5 300.6 441.5 301.9 438.5 303.5 435.5 304.6 432.5 305.5 429.5 306.1 426.5 306.4 423.5 306.5 420.5 306.2 417.5 305.7 414.5 304.9 411.5 303.8 408.5 302.3 405.5 300.5 402.5 298.2 399.6 295.6 397.8 293.6 396.2 291.6 394.3 288.6 393.3 286.6 392.1 283.6 391.4 280.6 391 277.6 391 274.6 391.3 272.6 391.6 271.6 392.5 270.9 422.5 257 423 256.6 423.5 255.7 422.5 255.1 392.5 240.9 392 240.6 391.5 239.6 391.2 237.6 391.3 234.6 391.8 231.6 392.7 228.6 393.5 226.6 395.1 223.6 397 220.6 401.1 215.6 403.5 213.3 405.5 211.6 407.5 210.2 410.5 208.6 413.5 207.3 415.5 206.7 418.5 206Z" fill="#ff5b00"/>
<path d="M297.5 204.5 300.5 204.1 304.5 204 307.5 204.2 311.5 204.9 315.5 206 318.5 207.1 321.5 208.6 324.5 210.4 327.4 212.6 329.5 214.6 331.5 216.8 333.5 219.6 335.2 222.6 336.4 225.6 337.2 228.6 337.6 231.6 337.5 235.6 336.8 238.6 335.9 240.6 334.8 242.6 333.3 244.6 332.5 245.3 321.8 249.6 304.6 255.6 305.2 256.6 305.5 256.8 318.8 261.6 332.5 267 333.8 268.6 335.3 271.6 335.9 273.6 336.3 276.6 336.3 278.6 335.9 281.6 335.1 284.6 334.3 286.6 332.7 289.6 331.4 291.6 329.5 293.9 327.5 296 325.5 297.8 322.5 300 317.5 302.7 312.5 304.5 309.5 305.2 306.5 305.6 303.5 305.7 299.5 305.5 296.5 305.1 293.5 304.4 290.5 303.4 287.5 302.1 282.5 299.1 278.4 295.6 276.5 293.5 274.4 290.6 273.3 288.6 272 285.6 271 282.6 270.6 279.6 270.6 275.6 271.2 272.6 271.9 270.6 272.9 268.6 273.6 267.6 274.5 266.8 288 261.6 301.5 256.7 302.1 255.6 284.9 249.6 274.5 245.5 273.3 244.6 271.9 242.6 270.8 240.6 269.7 237.6 269.3 234.6 269.2 232.6 269.5 229.6 269.9 227.6 270.9 224.6 272.3 221.6 273.5 219.5 275.5 216.8 277.4 214.6 281.5 211.1 286.5 208 291.5 205.9 294.5 205.1ZM418.5 207.5 421.5 207.1 424.5 207 428.5 207.2 431.5 207.7 434.5 208.5 437.5 209.6 440.5 211 443.5 212.8 446.5 215.1 448.5 216.9 450.8 219.6 452.9 222.6 454.5 225.6 455.8 228.6 456.6 231.6 457 234.6 457 237.6 456.9 238.6 456.5 239.8 425.5 255.4 425.3 255.6 425.6 256.6 426.5 257.1 456.5 272.2 456.8 272.6 457 274.6 457.1 276.6 456.7 279.6 456 282.6 454.9 285.6 453.5 288.3 452 290.6 448.5 294.8 446.5 296.7 443.5 299.1 438.5 301.9 435.5 303.1 432.5 304 427.5 304.9 424.5 305 421.5 304.8 418.5 304.4 415.5 303.7 412.5 302.7 409.5 301.3 404.5 298.3 401.5 295.8 399.5 293.8 397.5 291.5 395.5 288.6 393.9 285.6 393.1 283.6 392.3 280.6 391.9 277.6 391.9 273.6 392.5 272.2 422.5 257 423.1 256.6 423.5 255.9 423.5 255.5 403.9 245.6 392.5 239.6 392.1 238.6 392 236.6 392.2 233.6 392.9 230.6 393.6 228.6 395 225.6 396.1 223.6 399.5 218.9 403.5 214.8 405.5 213.2 408.5 211.2 410.5 210.1 413.5 208.8Z" fill="#ff6d00"/>
<path d="M295.5 206.5 298.5 206 302.5 205.7 306.5 205.8 309.5 206.2 313.5 207 316.5 208 319.5 209.3 322.5 211 325.5 213.1 327.5 214.8 329.5 216.8 331.7 219.6 333.6 222.6 334.9 225.6 335.9 228.6 336.4 231.6 336.4 235.6 335.8 238.6 334.6 241.6 333.4 243.6 332.5 244.6 320.6 249.6 304.5 255.6 305.1 256.6 305.5 256.9 320.2 262.6 332.5 267.8 333.6 269.6 334.4 271.6 335 273.6 335.2 275.6 335.3 277.6 335 280.6 334.2 283.6 333.4 285.6 331.2 289.6 329.5 291.9 327.5 294.1 323.5 297.6 321.5 299 318.5 300.6 315.5 302 312.5 303 307.5 304 304.5 304.2 300.5 304.1 297.5 303.7 294.5 303.1 291.5 302.2 288.5 300.9 285.5 299.3 283.5 298 279.4 294.6 277.5 292.5 275.4 289.6 274.2 287.6 272.9 284.6 272 281.6 271.7 279.6 271.6 275.6 272.1 272.6 273.2 269.6 274.5 267.6 289 261.6 301.5 256.8 301.8 256.6 302.2 255.6 286.1 249.6 274.5 244.9 273.3 243.6 272.2 241.6 271 238.6 270.5 236.6 270.4 232.6 270.7 229.6 271.2 227.6 271.9 225.6 273.3 222.6 274.5 220.6 276.5 217.9 278.5 215.7 280.5 213.8 284.5 210.9 289.5 208.4 292.5 207.3ZM420.5 208.5 423.5 208.3 426.5 208.3 429.5 208.7 432.5 209.3 435.5 210.1 438.5 211.3 441.5 212.9 444.5 214.9 447.5 217.5 449.5 219.6 451.5 222.2 453 224.6 454 226.6 455.2 229.6 455.9 232.6 456.3 235.6 456.3 237.6 455.9 238.6 455.5 239 427 254.6 425.5 255.3 425.3 255.6 425.5 256.6 426.5 257.2 455.5 272.9 456 273.6 456.3 274.6 456.2 277.6 455.9 279.6 455.1 282.6 454.3 284.6 452.8 287.6 451.5 289.6 449.5 292.2 447.5 294.3 445.5 296.1 442.5 298.3 437.5 301 434.5 302.1 431.5 302.9 426.5 303.6 423.5 303.7 420.5 303.4 417.5 302.9 414.5 302.1 411.5 301 408.5 299.5 406.5 298.3 403.5 296.1 399.5 292.3 397.5 289.8 396 287.6 395 285.6 393.7 282.6 392.9 279.6 392.6 276.6 392.6 274.6 392.8 273.6 393.5 273 422.5 257.1 423.2 256.6 423.5 256.1 423.6 255.6 423.5 255.4 403.6 244.6 393.5 238.8 393.2 238.6 392.8 237.6 392.8 235.6 393.2 232.6 394.1 229.6 394.9 227.6 396 225.6 397.8 222.6 401.5 218.1 405.5 214.5 407.5 213.1 410.5 211.4 413.5 210.2 415.5 209.5Z" fill="#ff7e00"/>
<path d="M298.5 207.5 301.5 207.2 305.5 207.2 308.5 207.5 311.5 208 314.5 208.9 317.5 210 320.5 211.5 323.5 213.4 326.3 215.6 328.4 217.6 330.5 220.2 332.1 222.6 333.2 224.6 334.4 227.6 335.1 230.6 335.4 232.6 335.4 235.6 334.9 238.6 333.8 241.6 332.5 243.8 321.9 248.6 304.4 255.6 304.9 256.6 305.5 257 316.8 261.6 331.5 268.1 332.5 268.9 333.3 270.6 333.9 272.6 334.3 275.6 334.1 279.6 333.4 282.6 332.6 284.6 331.1 287.6 329.8 289.6 326.3 293.6 324 295.6 321.5 297.4 316.5 300.1 311.5 301.8 308.5 302.4 305.5 302.8 302.5 302.8 299.5 302.6 296.5 302.1 293.5 301.4 288.5 299.4 285.5 297.8 283.5 296.4 281.5 294.8 279.3 292.6 277.5 290.5 275.6 287.6 274.1 284.6 273.4 282.6 272.9 280.6 272.5 277.6 272.5 274.6 272.9 272.6 273.5 270.6 274.5 268.5 287.7 262.6 301.5 256.9 301.8 256.6 302.3 255.6 287.2 249.6 274.5 244.1 273.4 242.6 272.1 239.6 271.6 237.6 271.4 235.6 271.3 233.6 271.7 230.6 272.8 226.6 274.2 223.6 275.4 221.6 278.5 217.6 282.5 214 285.5 212 287.5 210.9 292.5 208.8 295.5 208ZM421.5 209.6 424.5 209.4 427.5 209.6 430.5 210 433.5 210.7 436.5 211.7 439.5 213.1 442.5 214.8 444.5 216.2 446.5 217.9 448.5 220 450.5 222.4 451.9 224.6 453 226.6 454.3 229.6 455.1 232.6 455.6 235.6 455.5 237.7 426.8 254.6 425.5 255.2 425.2 255.6 425.5 256.7 454.3 273.6 455.6 274.6 455.5 276.6 455.1 279.6 454.2 282.6 453.4 284.6 451.8 287.6 450.5 289.5 448.8 291.6 446.8 293.6 442.5 297.1 440.5 298.3 437.5 299.8 432.5 301.5 429.5 302.1 426.5 302.5 423.5 302.5 420.5 302.3 417.5 301.7 414.5 300.9 409.5 298.8 406.5 297.1 404.5 295.6 402.5 294 400.1 291.6 397.7 288.6 396.5 286.6 395 283.6 394.3 281.6 393.7 279.6 393.3 276.6 393.2 275.6 393.5 274.3 422.5 257.2 423.5 256.3 423.7 255.6 423.5 255.4 422 254.6 396.9 239.6 393.8 237.6 393.4 236.6 394 232.6 394.9 229.6 395.8 227.6 396.9 225.6 398.8 222.6 402.5 218.4 406.5 215 409.5 213.1 411.5 212.2 416.5 210.4Z" fill="#ff8f00"/>
<path d="M300.5 208.6 303.5 208.5 306.5 208.6 309.5 209 312.5 209.7 315.5 210.6 318.5 211.9 320.5 213 323.5 214.9 325.5 216.6 327.6 218.6 329.5 220.8 331.3 223.6 332.8 226.6 333.6 228.6 334.1 230.6 334.5 233.6 334.5 236.6 333.9 239.6 332.6 242.6 331.6 243.6 318.5 249.6 304.4 255.6 304.8 256.6 305.5 257 315.9 261.6 331.5 268.9 332.1 269.6 332.9 271.6 333.3 273.6 333.5 275.6 333.3 278.6 332.9 280.6 331.9 283.6 331 285.6 328.4 289.6 326.7 291.6 324.7 293.6 320.5 296.7 318.5 297.9 315.5 299.2 310.5 300.8 307.5 301.3 304.5 301.6 301.5 301.5 298.5 301.2 293.5 300.1 288.5 298.1 285.5 296.3 283.5 294.9 281.5 293.2 279.5 291.2 277.5 288.6 276.2 286.6 275.2 284.6 274.1 281.6 273.7 279.6 273.3 276.6 273.4 274.6 273.9 271.6 274.6 269.6 275.5 268.7 290.9 261.6 301.5 256.9 301.9 256.6 302.4 255.6 285.9 248.6 275 243.6 274.5 243.2 274.1 242.6 273.2 240.6 272.7 238.6 272.3 235.6 272.3 233.6 272.7 230.6 273.3 228.6 274.5 225.6 276.8 221.6 278.5 219.4 280.5 217.3 284.5 214.1 286.5 212.9 289.5 211.4 292.5 210.2 295.5 209.4ZM422.5 210.6 425.5 210.5 428.5 210.8 431.5 211.3 434.5 212.1 439.5 214.2 442.5 216 444.5 217.4 446.5 219.2 448.5 221.3 450.3 223.6 451.6 225.6 453.1 228.6 453.9 230.6 454.6 233.6 454.9 235.6 454.5 236.9 426.6 254.6 425.5 255.2 425.2 255.6 425.5 256.8 454.5 275.1 454.8 275.6 454.9 276.6 454.4 279.6 453.8 281.6 452 285.6 449.3 289.6 447.5 291.7 445.5 293.6 441.5 296.6 438.5 298.3 436.5 299.1 433.5 300.2 430.5 300.9 425.5 301.5 422.5 301.4 419.5 301.1 414.5 299.9 409.5 297.7 406.5 295.9 404.5 294.5 400.5 290.7 397.4 286.6 396.3 284.6 395 281.6 394.2 278.6 394 276.6 394.1 275.6 394.5 275.1 422.5 257.3 423.5 256.5 423.7 255.6 423.5 255.3 422.1 254.6 398.9 239.6 394.5 236.6 394.1 235.6 395 231.6 396.1 228.6 397.1 226.6 398.5 224.4 400.5 221.7 402.5 219.6 404.5 217.7 408.5 214.8 412.5 212.8 417.5 211.2Z" fill="#ffa100"/>
<path d="M296.5 210.4 299.5 209.9 302.5 209.7 305.5 209.7 308.5 210.1 311.5 210.7 314.5 211.6 317.5 212.8 320.5 214.4 323.5 216.4 325.5 218.1 327.5 220.2 329.4 222.6 330.7 224.6 332.1 227.6 333.1 230.6 333.5 232.6 333.7 235.6 333.4 238.6 332.4 241.6 331.5 242.9 317.6 249.6 304.3 255.6 304.7 256.6 305.5 257.1 315 261.6 331.2 269.6 331.9 270.6 332.2 271.6 332.7 274.6 332.7 276.6 332.2 279.6 330.9 283.6 328.7 287.6 325.5 291.4 321.5 294.8 317.5 297.1 312.5 299.1 307.5 300.2 304.5 300.4 301.5 300.4 298.5 300.1 295.5 299.5 290.5 297.8 287.5 296.3 285.5 295 281.5 291.8 279.5 289.6 278 287.6 276.8 285.6 275.4 282.6 274.8 280.6 274.2 277.6 274.1 274.6 274.4 272.6 274.9 270.6 275.5 269.6 301.5 257 302 256.6 302.5 255.6 287 248.6 275.5 243.1 274.9 242.6 274.3 241.6 273.6 239.6 273.2 237.6 273.2 233.6 273.7 230.6 274.3 228.6 276.2 224.6 279 220.6 282.5 217.1 286.5 214.3 291.5 211.9ZM421.5 211.6 426.5 211.5 429.5 211.8 432.5 212.5 437.5 214.2 439.5 215.2 442.5 217 446.5 220.3 448.5 222.5 450.1 224.6 451.5 227 452.7 229.6 453.7 232.6 454.1 234.6 453.9 235.6 453.5 236 427.9 253.6 425.5 255.1 425.1 255.6 425.5 256.9 453.5 276 454 276.6 454.1 277.6 453 281.6 451.1 285.6 448.3 289.6 444.5 293.4 440.5 296.2 436.5 298.2 431.5 299.7 426.5 300.5 423.5 300.5 420.5 300.3 415.5 299.2 410.5 297.3 408.5 296.2 405.5 294.2 401.5 290.7 398.3 286.6 396.2 282.6 395.1 279.6 394.8 277.6 394.7 276.6 395.5 275.9 423.5 256.6 423.8 255.6 423.5 255.2 420.9 253.6 399.3 238.6 395.3 235.6 395 234.6 395.1 233.6 396 230.6 397.9 226.6 400.7 222.6 404.5 218.8 408.5 215.8 412.5 213.8 417.5 212.2Z" fill="#ffb200"/>
<path d="M296.5 211.5 299.5 211 302.5 210.8 305.5 210.9 308.5 211.2 311.5 211.8 314.5 212.7 317.5 214 320.5 215.6 323.3 217.6 325.5 219.6 327.4 221.6 328.9 223.6 330.1 225.6 331.5 228.6 332.2 230.6 332.8 233.6 332.8 237.6 332.1 240.6 331.5 242 318.7 248.6 304.3 255.6 304.6 256.6 305.5 257.2 330.5 270.1 331.1 270.6 331.5 271.4 331.9 273.6 331.8 277.6 330.8 281.6 328.9 285.6 327.5 287.7 325.5 290 323.5 292 321.5 293.6 317.5 296 312.5 298 307.5 299.1 304.5 299.4 301.5 299.3 296.5 298.6 291.5 297.1 289.5 296.2 286.5 294.5 283.9 292.6 281.7 290.6 279.9 288.6 278.5 286.6 276.4 282.6 275.7 280.6 275 277.6 274.9 273.6 275.5 270.6 290.6 262.6 301.5 257.1 302.1 256.6 302.6 255.6 288 248.6 275.5 242.3 275 241.6 274.6 240.6 274 237.6 274 233.6 274.9 229.6 276.7 225.6 279.5 221.6 281.5 219.4 283.5 217.7 287.5 214.9 291.5 213ZM420.5 212.6 425.5 212.3 428.5 212.6 431.5 213.1 436.5 214.7 439.5 216.1 441.5 217.3 445.5 220.5 447.5 222.5 449.2 224.6 451.1 227.6 452 229.6 452.8 231.6 453.3 233.6 453.3 234.6 426.3 254.6 425.5 255 425.1 255.6 425.3 256.6 425.5 256.9 427.9 258.6 453.4 277.6 453 279.6 452.3 281.6 450.3 285.6 447.5 289.4 444.2 292.6 440.5 295.2 436.5 297.3 431.5 298.9 426.5 299.6 423.5 299.6 420.5 299.4 415.5 298.3 410.5 296.4 406.5 294 402.5 290.6 400.7 288.6 399.1 286.6 396.9 282.6 395.8 279.6 395.4 277.6 423.6 256.6 423.8 255.6 423.5 255.2 421.1 253.6 401.1 238.6 396.1 234.6 395.8 233.6 396 232.6 396.7 230.6 398.7 226.6 401.5 222.8 404.5 219.7 407.5 217.4 411.5 215.1 416.5 213.3Z" fill="#ffc300"/>
<path d="M297.5 212.4 300.5 212 303.5 211.8 306.5 212 309.5 212.4 312.5 213.2 315.5 214.2 317.5 215.1 320.5 216.8 322.9 218.6 325.2 220.6 327 222.6 328.4 224.6 329.6 226.6 331 229.6 331.8 232.6 332.1 234.6 332.2 236.6 332 238.6 331.5 240.6 330.8 241.6 317.8 248.6 306.2 254.6 304.5 255.3 304.2 255.6 304.5 256.6 305.5 257.2 330.5 271.1 330.9 271.6 331.2 273.6 331 277.6 329.9 281.6 327.9 285.6 326.4 287.6 324.5 289.8 320.5 293.1 316.5 295.5 311.5 297.3 306.5 298.3 303.5 298.4 300.5 298.3 295.5 297.4 290.5 295.6 286.5 293.4 284.5 291.9 282.5 290.1 280.5 287.9 278.9 285.6 276.8 281.6 275.9 278.6 275.6 276.6 275.7 272.6 275.9 271.6 276.5 270.9 301.5 257.2 302.2 256.6 302.6 255.6 275.7 241.6 275.2 240.6 274.8 238.6 274.7 234.6 275 232.6 275.8 229.6 277.8 225.6 280.5 221.9 283.5 218.9 287.5 216.1 289.5 215 292.5 213.8ZM419.5 213.5 424.5 213.1 429.5 213.5 434.5 214.8 437.5 216 439.5 217 443.5 219.7 445.5 221.4 447.5 223.6 449.1 225.6 450.5 227.9 451.8 230.6 452.4 232.6 452.4 233.6 426.2 254.6 425.5 255 425 255.6 425.2 256.6 425.5 257 428.9 259.6 452.5 278.6 451.7 281.6 449.5 285.7 446.5 289.5 443.5 292.2 439.5 294.9 435.5 296.8 431.5 298.1 427.5 298.7 422.5 298.8 417.5 298.1 412.5 296.4 408.5 294.4 404.5 291.5 402.5 289.6 400.7 287.6 398.1 283.6 396.4 279.6 396.5 278.4 423.7 256.6 423.9 255.6 423.5 255.1 422.6 254.6 401.6 237.6 397 233.6 396.6 232.6 397.7 229.6 400.1 225.6 402.5 222.6 405.5 219.8 408.5 217.6 411.5 216 415.5 214.4Z" fill="#ffd500"/>
<path d="M296.5 213.6 299.5 213.1 302.5 212.8 305.5 212.9 308.5 213.2 311.5 213.9 314.5 214.8 317.5 216.2 319.5 217.3 321.5 218.7 323.8 220.6 325.8 222.6 327.5 224.8 329.2 227.6 330.1 229.6 331 232.6 331.4 234.6 331.3 238.6 331.2 239.6 330.5 241 306 254.6 304.5 255.2 304.1 255.6 304.4 256.6 305.5 257.3 329.8 271.6 330.5 272.6 330.6 273.6 330.3 277.6 329.1 281.6 326.9 285.6 324.5 288.6 322.5 290.5 320.5 292.1 316.5 294.5 312.5 296.1 307.5 297.2 302.5 297.5 297.5 296.9 292.5 295.5 289.5 294.1 287.5 293 285.5 291.6 283.2 289.6 281.3 287.6 279.8 285.6 277.7 281.6 276.9 279.6 276.3 276.6 276.2 274.6 276.3 272.6 276.5 272 277 271.6 301.5 257.2 302.3 256.6 302.7 255.6 276.5 241.1 276 240.6 275.5 238.6 275.3 236.6 275.4 234.6 276.4 230.6 278.2 226.6 280.5 223.2 283.5 220.1 287.5 217.2 291.5 215.2ZM418.5 214.4 423.5 213.9 428.5 214.1 433.5 215.2 438.5 217.3 442.5 219.8 444.5 221.4 446.5 223.4 448.3 225.6 449.6 227.6 451.5 231.6 451.5 232.6 426.1 254.6 425.5 254.9 425 255.6 425.1 256.6 425.5 257.1 426.3 257.6 451.6 279.6 451.4 280.6 450.6 282.6 448.5 286.1 445.5 289.6 442.5 292.2 439.5 294.1 435.5 296.1 431.5 297.3 427.5 298 422.5 298.1 418.5 297.5 413.5 296.1 409.5 294.2 405.5 291.5 402.4 288.6 400.7 286.6 399.4 284.6 397.4 280.6 397.5 279.3 423.7 256.6 424 255.6 423.5 255 422.8 254.6 403.2 237.6 398 232.6 397.5 231.6 398.9 228.6 400.8 225.6 403.4 222.6 405.5 220.6 408.5 218.4 411.5 216.8 415.5 215.2Z" fill="#ffe306"/>
<path d="M296.5 214.5 301.5 213.8 304.5 213.8 307.5 214 310.5 214.6 313.5 215.4 315.5 216.2 318.5 217.7 322.5 220.6 324.6 222.6 326.5 224.8 328.3 227.6 329.3 229.6 330 231.6 330.7 234.6 330.8 237.6 330.6 239.6 329.6 240.6 305.9 254.6 304.5 255.2 304.1 255.6 304.5 256.8 329.5 272.5 330 273.6 330 275.6 329.6 277.6 328.3 281.6 326 285.6 323.5 288.5 320.5 291.1 316.5 293.6 312.5 295.2 307.5 296.4 302.5 296.7 297.5 296.1 292.5 294.6 289.5 293.2 287.5 292 285.5 290.5 283.5 288.8 280.5 285.2 278.9 282.6 278 280.6 277 276.6 276.8 273.6 277.2 272.6 277.5 272.3 301.5 257.3 302.4 256.6 302.8 255.6 277.1 240.6 276.5 240.2 276.2 239.6 276 237.6 276 235.6 276.8 231.6 278.5 227.6 279.7 225.6 281.3 223.6 284.3 220.6 287.5 218.2 291.5 216.2ZM423.5 214.6 427.5 214.7 431.5 215.4 435.5 216.7 439.5 218.6 442.5 220.6 445.8 223.6 448.5 226.9 450.5 230.6 450.4 231.6 425.9 254.6 425.5 254.8 424.9 255.6 425.1 256.6 425.5 257.2 426.1 257.6 450.5 280.5 450.4 281.6 448.8 284.6 446.5 287.6 443.5 290.6 440.5 292.8 437.5 294.4 433.5 296 429.5 297 425.5 297.4 420.5 297.2 416.5 296.4 412.5 295 409.5 293.4 406.5 291.5 403.2 288.6 400.5 285.3 398.4 281.6 398.5 280.4 422.7 257.6 423.5 257 423.8 256.6 424 255.6 423.5 255 422.9 254.6 403.8 236.6 399 231.6 398.5 230.6 400.1 227.6 402.5 224.4 405.5 221.4 408.5 219.2 412.5 217 415.5 215.9 419.5 215Z" fill="#ffea1b"/>
<path d="M303.5 214.6 308.5 215 313.5 216.3 315.5 217.1 318.5 218.7 322.5 221.6 325.5 224.8 328 228.6 328.9 230.6 329.8 233.6 330.1 235.6 330.2 237.6 330.1 238.6 329.5 239.7 305.7 254.6 304.5 255.1 304 255.6 304.2 256.6 304.5 256.9 328.5 272.9 329.3 273.6 329.4 274.6 329.2 276.6 328.7 278.6 327.1 282.6 324.5 286.3 321.5 289.4 317.5 292.2 313.5 294 308.5 295.4 303.5 295.9 298.5 295.5 293.5 294.1 289.5 292.3 285.5 289.6 282.5 286.6 280.9 284.6 279.7 282.6 278.1 278.6 277.4 274.6 277.5 273.4 301.5 257.4 302.5 256.6 302.9 255.6 277.5 239.9 277.1 239.6 276.7 238.6 276.6 237.6 277 233.6 277.9 230.6 278.8 228.6 280 226.6 281.5 224.6 284.5 221.5 288.5 218.6 291.5 217.1 293.5 216.3 298.5 215ZM420.5 215.5 425.5 215.2 429.5 215.6 433.5 216.6 437.5 218.2 441.5 220.6 444.5 223.1 447.5 226.5 449.4 229.6 449.3 230.6 425.5 254.8 424.9 255.6 425 256.6 425.5 257.3 426 257.6 449.5 281.6 449.3 282.6 447.5 285.5 445.5 287.9 443.5 289.8 440.5 292 437.5 293.8 433.5 295.4 430.5 296.2 426.5 296.7 422.5 296.7 418.5 296.2 414.5 295.1 410.5 293.3 407.5 291.5 404.1 288.6 401.4 285.6 399.5 282.6 399.5 281.5 422.8 257.6 423.5 257.1 423.9 256.6 424.1 255.6 404.5 235.6 400.1 230.6 399.6 229.6 401.5 226.6 403.5 224.1 405.5 222.2 408.5 219.9 411.5 218.2 414.5 216.9 417.5 216Z" fill="#fff130"/>
<path d="M300.5 215.5 305.5 215.5 310.5 216.3 315.5 218 317.5 219 320.5 221 322.5 222.7 324.4 224.6 325.9 226.6 327.2 228.6 328.9 232.6 329.6 236.6 329.5 238.7 307.1 253.6 304.5 255.1 304 255.6 304.2 256.6 304.5 256.9 305.6 257.6 327.8 273.6 328.5 274.1 328.8 274.6 328.8 275.6 328.4 277.6 326.9 281.6 324.5 285.3 321.3 288.6 317.5 291.3 313.5 293.2 309.5 294.5 304.5 295.1 299.5 294.9 295.5 294 291.5 292.5 287.5 290.2 285.5 288.6 283.5 286.7 281.1 283.6 279.9 281.6 279 279.6 278 275.6 278.1 274.6 278.5 273.9 302.6 256.6 302.9 255.6 302.5 255.2 301.2 254.6 277.5 238.9 277.2 237.6 277.7 233.6 279.1 229.6 281.5 225.7 284.4 222.6 287.5 220.2 291.5 217.9 296.5 216.2ZM418.5 216.4 422.5 215.9 427.5 216 431.5 216.7 435.5 218 439.5 220 443.1 222.6 446.1 225.6 447.7 227.6 448.2 228.6 448.1 229.6 424.8 255.6 425 256.6 425.5 257.4 448.2 282.6 448.1 283.6 446.8 285.6 444.5 288.1 442.5 289.9 439.5 292 436.5 293.6 433.5 294.7 430.5 295.5 427.5 296 423.5 296.2 419.5 295.8 415.5 294.8 411.5 293.2 407.5 290.8 404.5 288.3 401.3 284.6 400.7 283.6 400.6 282.6 424 256.6 424.1 255.6 423.5 254.8 423.1 254.6 405.3 234.6 401.3 229.6 400.9 228.6 401.5 227.4 403.8 224.6 405.9 222.6 408.5 220.6 410.5 219.4 413.5 217.9Z" fill="#fff845"/>
<path d="M298.5 216.6 303.5 216.2 306.5 216.3 309.5 216.8 314.5 218.4 318.5 220.5 320.5 221.9 322.5 223.7 324.3 225.6 325.8 227.6 327 229.6 327.9 231.6 328.7 234.6 329 236.6 328.9 237.6 328.5 238.3 306.8 253.6 304.5 255 303.9 255.6 304.1 256.6 304.5 257 306.8 258.6 327.5 274.6 328.1 275.6 328 276.6 327.5 278.6 326.7 280.6 325.6 282.6 323.4 285.6 320.5 288.4 317.5 290.5 314.5 292.1 310.5 293.5 306.5 294.2 301.5 294.3 297.5 293.8 294.5 293 292.5 292.2 288.5 290 286.5 288.6 284.5 286.8 281.8 283.6 280.6 281.6 279.7 279.6 279 277.6 278.7 275.6 279.3 274.6 302.7 256.6 303 255.6 302.5 255.1 301.4 254.6 278.7 238.6 277.9 237.6 277.8 236.6 278.1 234.6 279.4 230.6 281 227.6 283.5 224.5 286.5 221.8 290.5 219.2 294.5 217.6ZM421.5 216.5 425.5 216.4 429.5 216.8 433.5 217.8 436.5 219 439.5 220.6 442.5 222.8 445.5 225.6 446.9 227.6 446.8 228.6 424.8 255.6 424.9 256.6 425.5 257.5 446.9 283.6 446.8 284.6 445.2 286.6 443.2 288.6 441.5 290 438.5 291.9 435.5 293.4 432.5 294.5 429.5 295.2 426.5 295.5 422.5 295.5 418.5 295 414.5 293.8 411.5 292.5 407.5 290.1 404.6 287.6 402.7 285.6 402.1 284.6 402 283.6 423.1 257.6 423.5 257.3 424 256.6 424.2 255.6 406.2 233.6 402.6 228.6 402.2 227.6 402.8 226.6 403.6 225.6 405.5 223.6 407.5 222 410.5 220 412.5 219 415.5 217.8 418.5 217Z" fill="#ffff5a"/>
<path d="M297.5 217.5 302.5 216.9 307.5 217.2 312.5 218.4 314.5 219.2 317.5 220.7 319.5 222 321.5 223.7 323.4 225.6 325 227.6 326.2 229.6 327.2 231.6 327.9 233.6 328.3 235.6 328.4 236.6 327.9 237.6 305.3 254.6 304.5 255 303.9 255.6 304 256.6 304.5 257.1 305.3 257.6 327.1 275.6 327.4 276.6 326.5 279.6 324.9 282.6 322.5 285.6 319.5 288.4 316.5 290.3 313.5 291.8 309.5 293 306.5 293.6 302.5 293.7 297.5 293.1 293.5 291.9 289.5 289.9 287.5 288.5 285.5 286.9 282.6 283.6 280.8 280.6 279.9 278.6 279.3 276.6 279.7 275.6 302.8 256.6 303.1 255.6 302.5 255 301.5 254.6 300.2 253.6 278.9 237.6 278.5 237.2 278.3 236.6 278.9 233.6 280.1 230.6 281.8 227.6 284.5 224.4 287.5 221.9 290.5 220 293.5 218.7ZM418.5 217.6 422.5 217 426.5 217 429.5 217.4 433.5 218.4 437.5 220.1 440.5 221.9 443.5 224.3 445.7 226.6 445.4 227.6 424.8 255.6 424.8 256.6 425.5 257.5 445.4 284.6 445.4 285.6 443.6 287.6 441.5 289.4 437.5 291.9 434.5 293.2 432.5 293.9 427.5 294.9 423.5 295 420.5 294.8 417.5 294.2 414.5 293.3 411.5 292 408.5 290.2 405.5 287.8 403.3 285.6 403.5 284.6 404.9 282.6 424.1 256.6 424.2 255.6 408.7 234.6 405.2 229.6 403.5 226.6 405.5 224.3 409.5 221.2 413.5 219.1 416.5 218Z" fill="#ffff78"/>
<path d="M302.5 217.6 306.5 217.7 310.5 218.5 314.5 219.9 318.5 222.1 321.6 224.6 324.5 228 326.5 231.6 327.3 233.6 327.8 235.6 327.5 236.7 303.8 255.6 303.9 256.6 304.5 257.2 306.3 258.6 326.5 276.6 326.6 277.6 325.9 279.6 324.2 282.6 322.5 284.8 320.5 286.8 317.5 289 314.5 290.7 310.5 292.1 306.5 292.9 303.5 293.1 300.5 292.9 296.5 292.2 292.5 290.8 289.5 289.2 286.5 287 284.5 285 282.6 282.6 280.9 279.6 280.1 277.6 280.5 276.4 300.5 258.6 302.5 257.1 303 256.6 303.1 255.6 302.5 255 301.7 254.6 300.4 253.6 279.5 236.8 279 235.6 280.3 231.6 281.9 228.6 284.5 225.3 287.5 222.7 290.5 220.8 294.5 219.1 298.5 218ZM422.5 217.5 425.5 217.5 428.5 217.7 431.5 218.3 434.5 219.3 436.5 220.1 439.5 221.8 442.5 224 443.9 225.6 443.8 226.6 424.7 255.6 424.8 256.6 443.8 285.6 443.8 286.6 442.5 287.9 440.5 289.5 438.5 290.8 435.5 292.3 433.5 293.1 430.5 293.9 425.5 294.5 422.5 294.5 419.5 294.1 414.5 292.7 411.5 291.4 409.5 290.3 406.5 288.1 405.1 286.6 405.1 285.6 405.7 284.6 423.3 257.6 424.2 256.6 424.3 255.6 409.1 232.6 406.1 227.6 405.2 225.6 405.9 224.6 407.5 223.2 409.5 221.8 412.5 220.1 414.5 219.2 417.5 218.3Z" fill="#ffff96"/>
<path d="M299.5 218.5 304.5 218.3 308.5 218.7 312.5 219.8 316.5 221.7 318.5 222.9 320.5 224.5 323.5 227.6 325.5 230.7 327 234.6 327 235.6 326.5 236.2 303.7 255.6 303.8 256.6 304.5 257.3 306.1 258.6 325.7 277.6 325.7 278.6 325.5 279.1 323.5 282.6 321.5 285 318.5 287.6 315.5 289.5 312.5 290.8 308.5 292 305.5 292.4 301.5 292.4 297.5 291.8 294.5 290.9 290.5 289.1 287.5 287 284.9 284.6 282.6 281.6 281.1 278.6 281 277.6 281.5 277 300.7 258.6 303.1 256.6 303.2 255.6 302.5 254.9 301.9 254.6 299.4 252.6 279.6 235.6 280.4 232.6 282 229.6 284.2 226.6 286.5 224.3 289.5 222.1 292.5 220.5 295.5 219.4ZM418.5 218.6 421.5 218.1 425.5 218 428.5 218.2 431.5 218.8 434.5 219.8 437.5 221.2 440.5 223.1 441.2 223.6 441.5 224.1 442.3 224.6 441.9 225.6 424.7 255.6 424.7 256.6 425.2 257.6 442 286.6 442 287.6 440.9 288.6 439.5 289.6 435.5 291.8 431.5 293.1 427.5 293.9 424.5 294.1 421.5 293.9 416.5 292.9 414.5 292.2 411.5 290.9 408.5 289 406.8 287.6 406.9 286.6 408.6 283.6 423.5 257.6 424.2 256.6 424.3 255.6 411.6 233.6 406.8 224.6 407.5 224.1 407.8 223.6 409.1 222.6 411.5 221.1 414.5 219.8Z" fill="#ffffb5"/>
<path d="M421.5 218.6 426.5 218.5 431.5 219.3 434.5 220.3 436.5 221.2 439 222.6 439.5 223.3 440.3 223.6 425 254.6 424.6 255.6 424.7 256.6 425.1 257.6 438.4 284.6 439.9 287.6 439.9 288.6 438.7 289.6 436.9 290.6 433.5 292.1 429.5 293.1 426.5 293.5 421.5 293.4 416.5 292.4 412.5 290.9 410.2 289.6 409.5 288.9 408.9 288.6 409.1 287.6 411.4 282.6 422.7 259.6 424.3 256.6 424.4 255.6 413.5 233.6 408.9 223.6 409.5 223.3 409.9 222.6 410.5 222.2 414.5 220.2 418.5 219ZM297.5 219.5 301.5 218.9 306.5 219 311.5 220.1 315.5 221.8 319.5 224.4 322.5 227.3 324.8 230.6 325.8 232.6 326.4 234.6 325.6 235.6 303.7 255.6 303.7 256.6 305.9 258.6 323.2 276.6 324.5 277.9 324.9 278.6 324.7 279.6 322.8 282.6 320.5 285.2 318.5 286.9 315.5 288.8 312.5 290.2 309.5 291.2 306.5 291.7 302.5 291.9 298.5 291.4 294.5 290.3 291.5 289 288.5 287.1 285.5 284.4 283.2 281.6 282.1 279.6 281.8 278.6 300.9 258.6 303.2 256.6 303.3 255.6 302.5 254.8 302 254.6 299.7 252.6 280.5 235 280.4 234.6 281 232.6 282.6 229.6 284.5 227.1 286.5 225.1 288.5 223.5 291.5 221.7 294.5 220.4Z" fill="#ffffcf"/>
<path d="M301.5 219.5 305.5 219.6 309.5 220.2 313.5 221.5 316.5 223 319.5 225.2 322 227.6 324.2 230.6 325.6 233.6 325.1 234.6 305.8 253.6 303.6 255.6 303.7 256.6 305.7 258.6 323.5 278.7 323.9 279.6 323.6 280.6 322.2 282.6 320.4 284.6 318 286.6 315.5 288.2 313.5 289.2 310.5 290.3 307.5 291 304.5 291.3 300.5 291.2 297.5 290.6 294.5 289.7 291.5 288.3 288.5 286.4 286.4 284.6 283.8 281.6 282.8 279.6 283.4 278.6 301.1 258.6 303.3 256.6 303.4 255.6 300 252.6 281.7 234.6 281.2 233.6 282.1 231.6 284 228.6 285.8 226.6 288.5 224.2 291.5 222.4 294.5 221 297.5 220.1ZM418.5 219.5 423.5 218.9 428.5 219.2 433.5 220.4 436.3 221.6 436.5 221.9 437.7 222.6 424.8 254.6 424.6 255.6 424.9 257.6 435.4 283.6 437.5 289 437.6 289.6 436.5 290 435.5 290.8 432.5 291.9 427.5 293 423.5 293.1 419.5 292.7 415.4 291.6 412.9 290.6 412.5 290.1 411.4 289.6 411.5 288.8 413.5 283.6 423.4 258.6 424.4 256.6 424.4 255.6 424.1 254.6 423.5 253.6 413.6 228.6 411.4 222.6 412.5 221.6 414.8 220.6Z" fill="#ffffe2"/>
<path d="M420.5 219.6 424.5 219.3 428.5 219.6 432.5 220.5 433.5 221.3 434.4 221.6 425.5 252.1 424.9 253.6 424.5 255.6 424.9 258.6 425.5 259.9 434.4 290.6 433.5 290.8 431.5 291.8 426.5 292.6 422.1 292.6 417.5 291.8 416.8 291.6 415.5 290.8 414.6 290.6 422.5 262.7 424.4 256.6 424.3 254.6 423.4 252.6 414.6 221.6 415.5 221.3 416.1 220.6ZM298.5 220.5 302.5 220.1 306.5 220.2 310.5 221 313.5 222.1 317.5 224.3 320.3 226.6 322.9 229.6 324.7 232.6 324.4 233.6 305.7 253.6 303.6 255.6 303.6 256.6 305.5 258.6 306.1 259.6 307.9 261.6 322.5 279.6 322.8 280.6 321.6 282.6 319.6 284.6 317.1 286.6 315.5 287.6 312.5 289.1 310.5 289.8 305.5 290.7 302.5 290.8 300.4 290.6 296.5 289.8 293.2 288.6 290.5 287.2 287.5 284.9 285.2 282.6 284.5 281.6 284 280.6 284.3 279.6 299.8 260.6 301.3 258.6 303.4 256.6 303.4 255.6 299.3 251.6 282.4 233.6 282.2 232.6 283.2 230.6 284.5 228.8 286.5 226.6 288.5 224.9 290.5 223.6 293.5 222 295.5 221.3Z" fill="#fffff5"/>
<path d="M244.1 197.4L243.9 196.4M249.1 197.4L248.9 196.3M254.1 197.6L253.8 196.2M259.1 197.7L258.8 196.1M264.1 197.7L263.7 196.0M269.1 197.8L268.7 195.9M274.1 197.9L273.7 195.9M279.0 197.9L278.7 195.8M284.0 198.0L283.7 195.8M289.0 198.1L288.6 195.6M293.9 198.3L293.7 195.5M313.6 198.3L313.8 195.5M318.6 198.1L318.8 195.6M323.5 198.0L323.8 195.7M328.5 197.9L328.8 195.8M333.5 197.9L333.8 195.8M338.5 197.8L338.7 195.9M343.5 197.8L343.7 195.9M348.5 197.7L348.6 196.0M353.5 197.7L353.6 196.1M358.5 197.6L358.5 196.2M363.5 197.4L363.5 196.3M368.5 197.3L368.5 196.4M373.5 197.2L373.4 196.5M378.5 197.1L378.4 196.6M383.5 197.2L383.4 196.5M388.5 197.4L388.3 196.3M393.5 197.5L393.3 196.2M398.5 197.7L398.3 196.0M403.4 197.8L403.2 195.9M408.4 197.9L408.2 195.8M413.4 197.9L413.2 195.8M418.3 198.0L418.2 195.8M423.2 198.0L423.3 195.7M428.2 198.0L428.3 195.8M433.1 197.9L433.3 195.8M438.1 197.9L438.3 195.8M443.0 197.9L443.3 195.8M448.0 197.8L448.3 195.9M453.0 197.8L453.3 195.9M458.0 197.7L458.3 196.0M463.0 197.6L463.2 196.1M468.0 197.5L468.2 196.2M473.0 197.4L473.1 196.3M478.0 197.3L478.1 196.4M483.0 197.2L483.1 196.5M244.1 201.9L243.9 200.8M249.1 202.0L248.9 200.8M254.1 202.1L253.8 200.7M259.1 202.2L258.8 200.5M264.1 202.3L263.7 200.5M269.1 202.3L268.7 200.4M274.1 202.4L273.6 200.3M279.1 202.5L278.6 200.2M328.4 202.5L328.8 200.2M333.4 202.4L333.8 200.3M338.4 202.4L338.8 200.4M343.4 202.3L343.7 200.4M348.5 202.3L348.7 200.5M353.5 202.2L353.6 200.5M358.5 202.1L358.6 200.7M363.5 201.9L363.5 200.8M368.5 201.8L368.5 200.9M373.5 201.7L373.4 201.0M378.5 201.7L378.4 201.0M383.5 201.8L383.4 201.0M388.5 201.9L388.3 200.8M393.5 202.1L393.3 200.6M398.5 202.2L398.2 200.5M403.5 202.4L403.2 200.4M408.5 202.5L408.2 200.3M413.4 202.7L413.2 200.0M438.0 202.6L438.4 200.2M443.0 202.4L443.4 200.3M447.9 202.4L448.4 200.4M452.9 202.3L453.3 200.4M457.9 202.2L458.3 200.5M462.9 202.1L463.3 200.6M467.9 202.0L468.2 200.7M472.9 201.9L473.2 200.8M478.0 201.8L478.1 200.9M483.0 201.7L483.1 201.0M244.1 206.4L243.9 205.3M249.1 206.5L248.8 205.2M254.1 206.6L253.8 205.1M259.1 206.7L258.7 205.0M264.2 206.8L263.7 204.9M269.2 206.9L268.6 204.8M274.2 207.1L273.5 204.7M333.3 207.1L333.9 204.7M338.4 206.9L338.8 204.8M343.4 206.9L343.8 204.9M348.4 206.8L348.7 205.0M353.4 206.7L353.6 205.0M358.5 206.6L358.6 205.1M363.5 206.5L363.5 205.3M368.5 206.4L368.5 205.4M373.5 206.3L373.4 205.5M378.5 206.3L378.4 205.5M383.5 206.3L383.3 205.4M388.5 206.5L388.3 205.3M393.5 206.7L393.2 205.1M398.6 206.8L398.2 204.9M403.6 207.0L403.1 204.8M447.9 207.0L448.4 204.8M452.9 206.9L453.4 204.9M457.9 206.8L458.4 205.0M462.9 206.7L463.3 205.1M467.9 206.6L468.2 205.2M472.9 206.5L473.2 205.3M477.9 206.4L478.1 205.4M482.9 206.3L483.1 205.5M244.1 211.0L243.9 209.8M249.1 211.1L248.8 209.7M254.2 211.2L253.7 209.6M259.2 211.3L258.7 209.5M264.2 211.4L263.6 209.4M269.3 211.5L268.5 209.3M338.3 211.5L338.9 209.3M343.3 211.4L343.8 209.4M348.4 211.3L348.7 209.4M353.4 211.3L353.7 209.5M358.5 211.2L358.6 209.6M363.5 211.1L363.5 209.7M368.5 211.0L368.5 209.8M373.5 210.9L373.4 209.9M378.5 210.9L378.4 209.9M383.5 210.9L383.3 209.8M388.6 211.1L388.2 209.7M393.6 211.2L393.1 209.5M398.7 211.4L398.1 209.3M452.8 211.4L453.5 209.3M457.8 211.3L458.4 209.5M462.8 211.2L463.3 209.6M467.9 211.1L468.3 209.7M472.9 211.0L473.2 209.8M477.9 210.9L478.1 209.9M482.9 210.8L483.1 209.9M244.1 215.6L243.8 214.2M249.2 215.6L248.8 214.2M254.2 215.7L253.7 214.1M259.2 215.8L258.6 214.0M264.3 215.9L263.5 213.9M343.3 215.9L343.9 213.9M348.3 215.9L348.8 213.9M353.4 215.8L353.7 214.0M358.4 215.7L358.6 214.1M363.5 215.6L363.5 214.2M368.5 215.5L368.4 214.3M373.5 215.5L373.4 214.3M378.6 215.5L378.3 214.3M383.6 215.5L383.2 214.3M388.6 215.7L388.1 214.1M393.7 215.8L393.0 214.0M457.7 215.9L458.5 213.9M462.8 215.7L463.4 214.1M467.8 215.6L468.3 214.2M472.9 215.5L473.2 214.3M477.9 215.5L478.2 214.3M482.9 215.4L483.1 214.4M244.2 220.1L243.8 218.7M249.2 220.2L248.8 218.6M254.2 220.2L253.7 218.6M259.3 220.3L258.6 218.5M264.4 220.4L263.4 218.4M343.2 220.5L344.0 218.4M348.3 220.4L348.9 218.4M353.4 220.3L353.7 218.5M358.4 220.2L358.6 218.6M363.5 220.2L363.5 218.7M368.5 220.1L368.4 218.7M373.6 220.0L373.4 218.8M378.6 220.0L378.3 218.8M383.7 220.1L383.2 218.7M388.8 220.2L388.0 218.6M393.9 220.5L392.9 218.4M457.6 220.4L458.6 218.4M462.7 220.3L463.5 218.6M467.8 220.2L468.4 218.7M472.8 220.1L473.3 218.7M477.9 220.0L478.2 218.8M482.9 220.0L483.1 218.8M244.2 224.7L243.8 223.2M249.2 224.7L248.7 223.1M254.3 224.8L253.6 223.1M259.4 224.8L258.5 223.0M264.6 225.0L263.3 222.8M343.0 225.0L344.1 222.8M348.2 224.9L348.9 223.0M353.3 224.8L353.8 223.0M358.4 224.7L358.6 223.1M363.5 224.7L363.5 223.2M368.5 224.6L368.4 223.2M373.6 224.6L373.3 223.3M378.7 224.6L378.2 223.2M383.8 224.7L383.1 223.2M388.9 224.8L387.9 223.0M462.6 224.8L463.6 223.1M467.7 224.7L468.4 223.2M472.8 224.6L473.3 223.2M477.8 224.6L478.2 223.3M482.9 224.5L483.2 223.3M244.2 229.2L243.8 227.7M249.2 229.2L248.7 227.6M254.3 229.3L253.6 227.6M259.4 229.3L258.4 227.5M264.7 229.6L263.1 227.3M342.9 229.6L344.3 227.3M348.1 229.4L349.0 227.5M353.3 229.3L353.8 227.6M358.4 229.2L358.6 227.6M363.5 229.2L363.5 227.7M368.6 229.1L368.4 227.7M373.6 229.1L373.3 227.8M378.7 229.1L378.2 227.7M383.8 229.2L383.0 227.7M389.0 229.3L387.7 227.5M462.5 229.3L463.7 227.6M467.7 229.2L468.5 227.7M472.8 229.1L473.3 227.8M477.8 229.1L478.2 227.8M482.9 229.1L483.2 227.8M244.2 233.7L243.8 232.2M249.2 233.7L248.7 232.2M254.3 233.7L253.6 232.1M259.5 233.8L258.4 232.1M264.8 234.0L263.0 231.9M342.8 233.9L344.4 232.0M348.1 233.8L349.0 232.1M353.3 233.8L353.8 232.1M358.4 233.7L358.7 232.2M363.5 233.7L363.5 232.2M368.6 233.6L368.4 232.3M373.6 233.6L373.3 232.3M378.8 233.6L378.1 232.3M383.9 233.7L382.9 232.2M389.3 233.8L387.5 232.1M462.4 233.7L463.8 232.2M467.6 233.6L468.5 232.2M472.8 233.6L473.3 232.3M477.8 233.6L478.2 232.3M482.9 233.6L483.2 232.3M244.2 238.2L243.8 236.7M249.2 238.2L248.7 236.7M254.3 238.2L253.6 236.7M259.5 238.2L258.4 236.7M264.7 238.2L263.1 236.7M342.8 238.2L344.4 236.7M348.1 238.2L349.1 236.7M353.3 238.2L353.8 236.7M358.4 238.2L358.7 236.7M363.5 238.1L363.5 236.8M368.6 238.1L368.4 236.8M373.6 238.1L373.3 236.9M378.8 238.1L378.1 236.8M384.0 238.1L382.8 236.8M389.4 238.2L387.4 236.7M462.3 238.1L463.8 236.8M467.6 238.1L468.5 236.8M472.8 238.1L473.3 236.8M477.8 238.1L478.2 236.9M482.9 238.1L483.2 236.8M244.1 242.6L243.9 241.3M249.2 242.6L248.8 241.3M254.3 242.6L253.6 241.3M259.4 242.6L258.4 241.3M264.7 242.5L263.1 241.4M342.8 242.5L344.3 241.4M348.1 242.6L349.0 241.3M353.3 242.6L353.8 241.3M358.4 242.6L358.6 241.3M363.5 242.6L363.5 241.4M368.5 242.5L368.4 241.4M373.6 242.5L373.3 241.4M378.8 242.5L378.1 241.4M384.0 242.5L382.8 241.4M389.4 242.4L387.4 241.5M462.3 242.5L463.8 241.4M467.6 242.5L468.5 241.4M472.8 242.5L473.3 241.4M477.9 242.5L478.2 241.4M482.9 242.6L483.1 241.4M244.1 247.1L243.9 245.9M249.1 247.0L248.8 245.9M254.1 247.0L253.8 246.0M259.3 246.9L258.6 246.0M264.5 246.8L263.3 246.1M269.8 246.5L267.9 246.4M337.7 246.5L339.5 246.4M343.0 246.8L344.2 246.2M348.2 246.9L348.9 246.0M353.4 247.0L353.7 246.0M358.4 247.0L358.6 246.0M363.5 247.0L363.5 246.0M368.5 247.0L368.4 246.0M373.6 246.9L373.3 246.0M378.7 246.9L378.2 246.0M383.9 246.9L382.9 246.1M389.3 246.6L387.5 246.3M462.4 246.9L463.8 246.1M467.7 247.0L468.4 246.0M472.8 247.0L473.3 246.0M477.9 247.0L478.2 245.9M482.9 247.1L483.1 245.9M244.0 251.5L243.9 250.5M249.0 251.4L248.9 250.6M264.2 251.2L263.6 250.8M269.4 250.8L268.4 251.2M338.2 250.8L339.0 251.2M343.3 251.1L343.9 250.9M353.5 251.3L353.6 250.7M358.5 251.4L358.6 250.6M363.5 251.4L363.5 250.6M368.5 251.4L368.5 250.6M373.5 251.4L373.4 250.6M378.6 251.4L378.3 250.6M383.8 251.3L383.0 250.7M462.5 251.3L463.7 250.7M467.8 251.5L468.3 250.5M472.9 251.5L473.2 250.5M478.0 251.5L478.1 250.5M483.0 251.6L483.1 250.4M244.0 255.9L244.0 255.1M269.0 255.1L268.8 255.9M338.6 255.2L338.7 255.8M358.5 255.8L358.5 255.2M363.5 255.9L363.5 255.1M368.5 255.9L368.5 255.1M373.5 255.9L373.5 255.1M378.5 255.9L378.4 255.1M383.5 256.0L383.3 255.0M462.9 256.1L463.3 254.9M468.0 256.0L468.1 255.0M473.0 256.0L473.1 255.0M478.0 256.0L478.0 255.0M483.0 256.1L483.0 254.9M244.0 260.5L244.0 259.5M248.9 260.4L249.0 259.6M253.9 260.3L254.0 259.7M258.8 260.3L259.0 259.8M263.6 260.2L264.2 259.8M268.5 259.8L269.3 260.3M339.0 259.8L338.2 260.3M343.9 260.1L343.3 259.9M348.7 260.2L348.5 259.8M353.6 260.3L353.5 259.7M358.5 260.4L358.5 259.6M363.5 260.4L363.5 259.6M368.5 260.4L368.5 259.6M373.4 260.4L373.5 259.6M378.3 260.4L378.6 259.6M383.0 260.4L383.8 259.7M463.6 260.3L462.5 259.7M468.3 260.5L467.9 259.5M473.2 260.5L472.9 259.5M478.1 260.5L478.0 259.5M483.1 260.6L483.0 259.4M243.9 265.1L244.1 263.9M248.8 265.1L249.1 264.0M253.8 265.0L254.1 264.0M258.6 265.0L259.3 264.1M263.3 264.8L264.5 264.2M268.0 264.5L269.7 264.5M339.4 264.5L337.8 264.6M344.1 264.8L343.0 264.2M348.9 265.0L348.2 264.1M353.7 265.0L353.4 264.0M358.6 265.0L358.4 264.0M363.5 265.0L363.5 264.0M368.4 265.0L368.5 264.1M373.3 265.0L373.6 264.1M378.2 265.0L378.7 264.1M382.9 264.9L383.9 264.2M463.8 264.9L462.4 264.2M468.4 265.0L467.7 264.0M473.2 265.0L472.9 264.0M478.1 265.1L477.9 264.0M483.1 265.1L482.9 263.9M243.9 269.7L244.1 268.4M248.8 269.7L249.2 268.4M253.7 269.7L254.2 268.4M258.5 269.6L259.4 268.4M263.2 269.5L264.7 268.5M267.6 269.4L270.1 268.7M339.7 269.3L337.5 268.7M344.3 269.5L342.9 268.5M349.0 269.6L348.1 268.4M353.8 269.7L353.3 268.4M358.6 269.7L358.4 268.4M363.5 269.6L363.5 268.5M368.4 269.6L368.5 268.5M373.3 269.6L373.6 268.5M378.1 269.6L378.7 268.5M382.8 269.5L384.0 268.5M387.4 269.4L389.4 268.7M463.8 269.5L462.3 268.5M468.5 269.6L467.6 268.5M473.3 269.6L472.8 268.5M478.2 269.6L477.9 268.5M483.1 269.6L482.9 268.4M243.8 274.3L244.2 272.8M248.7 274.3L249.2 272.8M253.6 274.3L254.3 272.8M258.4 274.3L259.5 272.8M263.1 274.2L264.7 272.9M344.3 274.2L342.8 272.9M349.0 274.3L348.1 272.8M353.8 274.3L353.3 272.8M358.6 274.2L358.4 272.8M363.5 274.2L363.5 272.9M368.4 274.2L368.6 272.9M373.3 274.1L373.6 273.0M378.1 274.1L378.8 272.9M382.8 274.2L384.0 272.9M387.4 274.2L389.4 272.9M463.8 274.2L462.3 272.9M468.5 274.2L467.6 272.9M473.3 274.1L472.8 272.9M478.2 274.2L477.8 272.9M483.2 274.2L482.9 272.9M243.8 278.8L244.2 277.3M248.7 278.8L249.2 277.3M253.6 278.8L254.3 277.3M258.4 278.8L259.5 277.3M263.1 278.9L264.7 277.2M344.3 278.9L342.9 277.2M349.0 278.9L348.1 277.2M353.8 278.8L353.3 277.3M358.7 278.8L358.4 277.3M363.5 278.8L363.5 277.3M368.4 278.7L368.6 277.4M373.3 278.7L373.6 277.4M378.1 278.7L378.8 277.4M382.9 278.8L384.0 277.3M463.8 278.8L462.4 277.3M468.5 278.7L467.6 277.4M473.4 278.7L472.7 277.4M478.2 278.7L477.8 277.4M483.2 278.7L482.8 277.4M243.8 283.3L244.2 281.8M248.7 283.3L249.2 281.8M253.6 283.4L254.3 281.8M258.4 283.4L259.4 281.7M263.2 283.5L264.6 281.7M344.2 283.5L343.0 281.6M349.0 283.4L348.1 281.7M353.8 283.4L353.3 281.7M358.6 283.4L358.4 281.8M363.5 283.3L363.5 281.8M368.4 283.3L368.6 281.8M373.3 283.3L373.6 281.9M378.1 283.3L378.7 281.8M382.9 283.4L383.9 281.8M387.6 283.6L389.2 281.5M463.7 283.4L462.5 281.7M468.5 283.3L467.7 281.8M473.3 283.3L472.8 281.9M478.2 283.2L477.8 281.9M483.2 283.2L482.8 281.9M243.8 287.9L244.2 286.3M248.7 287.9L249.2 286.3M253.6 287.9L254.3 286.2M258.5 288.0L259.4 286.2M263.3 288.0L264.5 286.1M344.1 288.0L343.1 286.1M348.9 288.0L348.2 286.2M353.8 287.9L353.3 286.2M358.6 287.9L358.4 286.3M363.5 287.9L363.5 286.3M368.4 287.8L368.5 286.3M373.3 287.8L373.6 286.3M378.2 287.8L378.7 286.3M383.0 287.9L383.8 286.2M387.8 288.0L389.0 286.1M463.6 287.9L462.6 286.2M468.4 287.8L467.7 286.3M473.3 287.8L472.8 286.4M478.2 287.8L477.8 286.4M483.2 287.8L482.8 286.4M243.8 292.4L244.2 290.8M248.7 292.4L249.2 290.8M253.7 292.4L254.2 290.7M258.6 292.5L259.3 290.7M263.4 292.6L264.4 290.6M339.2 292.8L338.0 290.3M344.0 292.6L343.2 290.6M348.8 292.5L348.3 290.7M353.7 292.4L353.4 290.8M358.6 292.4L358.4 290.8M363.5 292.4L363.5 290.8M368.4 292.3L368.5 290.8M373.3 292.3L373.6 290.8M378.2 292.4L378.7 290.8M383.1 292.4L383.7 290.7M388.0 292.5L388.8 290.6M458.6 292.6L457.6 290.6M463.5 292.4L462.7 290.7M468.4 292.3L467.8 290.8M473.3 292.3L472.8 290.9M478.2 292.3L477.8 290.9M483.2 292.2L482.9 290.9M243.8 296.9L244.2 295.3M248.8 296.9L249.2 295.3M253.7 297.0L254.2 295.2M258.6 297.0L259.3 295.2M263.5 297.1L264.3 295.1M268.4 297.3L269.4 294.9M339.0 297.1L338.2 295.1M343.9 297.0L343.3 295.2M348.8 297.0L348.3 295.2M353.7 296.9L353.4 295.3M358.6 296.9L358.4 295.3M363.5 296.8L363.5 295.4M368.4 296.8L368.5 295.4M373.4 296.8L373.6 295.4M378.3 296.9L378.6 295.3M383.2 296.9L383.7 295.3M388.1 297.0L388.7 295.2M393.0 297.2L393.8 295.0M458.5 297.1L457.7 295.1M463.4 296.9L462.8 295.3M468.3 296.8L467.8 295.4M473.3 296.8L472.8 295.4M478.2 296.7L477.9 295.5M483.1 296.7L482.9 295.5M243.8 301.4L244.1 299.8M248.8 301.4L249.2 299.8M253.7 301.5L254.2 299.8M258.7 301.5L259.2 299.7M263.6 301.6L264.2 299.7M268.5 301.6L269.3 299.6M334.0 301.7L333.3 299.5M338.9 301.6L338.3 299.6M343.8 301.5L343.4 299.7M348.7 301.4L348.4 299.8M353.6 301.3L353.4 299.9M358.6 301.3L358.5 299.9M363.5 301.3L363.5 300.0M368.4 301.3L368.5 300.0M373.4 301.3L373.5 299.9M378.3 301.3L378.6 299.9M383.2 301.4L383.6 299.8M388.2 301.5L388.6 299.8M393.1 301.6L393.7 299.6M398.0 301.8L398.7 299.4M453.5 301.7L452.8 299.6M458.4 301.5L457.8 299.7M463.4 301.4L462.8 299.8M468.3 301.3L467.9 299.9M473.2 301.2L472.9 300.0M478.2 301.2L477.9 300.0M483.1 301.1L482.9 300.1M243.8 305.9L244.1 304.3M248.8 305.9L249.1 304.3M253.8 306.0L254.1 304.3M258.7 306.0L259.2 304.2M263.6 306.1L264.2 304.2M268.6 306.1L269.2 304.1M273.6 306.2L274.2 304.1M328.9 306.3L328.4 304.0M333.9 306.1L333.4 304.1M338.8 306.0L338.4 304.2M343.7 305.9L343.4 304.3M348.7 305.8L348.4 304.4M353.6 305.8L353.5 304.5M358.6 305.7L358.5 304.5M363.5 305.7L363.5 304.6M368.5 305.7L368.5 304.6M373.4 305.7L373.5 304.5M378.4 305.8L378.5 304.5M383.3 305.8L383.5 304.4M388.2 305.9L388.6 304.3M393.2 306.0L393.6 304.2M398.1 306.1L398.6 304.1M403.1 306.3L403.6 303.9M448.4 306.2L447.9 304.0M453.4 306.1L452.9 304.2M458.4 306.0L457.9 304.3M463.3 305.9L462.9 304.4M468.2 305.8L467.9 304.5M473.2 305.7L472.9 304.5M478.1 305.6L477.9 304.6M483.1 305.6L482.9 304.7M243.9 310.4L244.1 308.8M248.8 310.5L249.1 308.8M253.8 310.5L254.1 308.8M258.7 310.5L259.1 308.8M263.7 310.5L264.1 308.7M268.7 310.6L269.1 308.7M273.6 310.6L274.1 308.6M278.6 310.7L279.1 308.6M283.6 310.9L284.1 308.4M323.8 310.8L323.5 308.5M328.8 310.7L328.5 308.6M333.8 310.6L333.4 308.7M338.7 310.5L338.5 308.8M343.7 310.4L343.5 308.9M348.6 310.3L348.5 309.0M353.6 310.2L353.5 309.1M358.5 310.1L358.5 309.1M363.5 310.1L363.5 309.2M368.5 310.1L368.5 309.2M373.4 310.1L373.5 309.1M378.4 310.2L378.5 309.1M383.3 310.3L383.5 309.0M388.3 310.4L388.5 308.9M393.2 310.5L393.5 308.8M398.2 310.6L398.5 308.7M403.2 310.7L403.5 308.6M408.2 310.8L408.5 308.5M438.4 310.9L438.0 308.3M443.4 310.7L443.0 308.5M448.4 310.6L447.9 308.6M453.3 310.5L452.9 308.7M458.3 310.5L457.9 308.8M463.3 310.4L462.9 308.9M468.2 310.3L467.9 309.0M473.2 310.2L472.9 309.1M478.1 310.1L478.0 309.2M483.1 310.0L483.0 309.3M243.9 315.0L244.1 313.3M248.8 315.0L249.1 313.3M253.8 315.0L254.1 313.3M258.8 315.0L259.1 313.3M263.7 315.0L264.1 313.3M268.7 315.1L269.1 313.2M273.7 315.1L274.1 313.2M278.7 315.2L279.0 313.1M283.7 315.2L284.0 313.1M288.7 315.3L289.0 313.0M293.7 315.3L293.9 313.0M298.7 315.4L298.8 312.9M303.7 315.5L303.8 312.8M308.8 315.4L308.7 312.9M313.8 315.3L313.6 313.0M318.8 315.2L318.6 313.1M323.8 315.2L323.5 313.1M328.8 315.1L328.5 313.2M333.7 315.0L333.5 313.3M338.7 314.9L338.5 313.4M343.7 314.8L343.5 313.5M348.6 314.7L348.5 313.6M353.6 314.6L353.5 313.7M358.5 314.6L358.5 313.7M363.5 314.5L363.5 313.8M368.5 314.5L368.5 313.8M373.4 314.6L373.5 313.7M378.4 314.6L378.5 313.7M383.4 314.7L383.5 313.6M388.3 314.8L388.5 313.5M393.3 314.9L393.5 313.4M398.2 315.0L398.5 313.3M403.2 315.1L403.5 313.2M408.2 315.2L408.4 313.1M413.2 315.2L413.4 313.1M418.2 315.3L418.3 313.0M423.3 315.3L423.2 313.0M428.3 315.3L428.2 313.0M433.3 315.2L433.1 313.0M438.3 315.2L438.1 313.1M443.3 315.2L443.0 313.1M448.3 315.1L448.0 313.2M453.3 315.0L453.0 313.3M458.3 314.9L458.0 313.4M463.2 314.8L463.0 313.5M468.2 314.7L468.0 313.6M473.1 314.6L473.0 313.7M478.1 314.5L478.0 313.8M483.1 314.4L483.0 313.8" stroke="#fff" stroke-width="0.6" stroke-opacity="0.7" fill="none"/>
<path d="M298.8 198.4L298.7 195.3M303.8 198.4L303.7 195.3M308.7 198.4L308.8 195.3M284.1 202.9L283.5 199.9M289.1 203.2L288.5 199.6M294.0 203.4L293.6 199.3M298.9 203.6L298.6 199.1M303.8 203.6L303.7 199.1M308.6 203.6L308.8 199.2M313.5 203.4L313.9 199.3M318.5 203.2L318.9 199.6M323.4 202.9L323.9 199.9M418.3 202.9L418.2 199.8M423.2 203.0L423.3 199.8M428.1 202.9L428.3 199.8M433.1 202.8L433.4 199.9M279.3 207.5L278.4 204.2M284.3 208.0L283.3 203.8M289.3 208.4L288.3 203.3M294.2 208.8L293.4 203.0M299.0 209.1L298.5 202.7M303.8 209.1L303.7 202.6M308.5 209.0L308.9 202.7M313.4 208.8L314.0 203.0M318.3 208.4L319.1 203.4M323.2 208.0L324.1 203.8M328.3 207.5L329.0 204.2M408.6 207.5L408.0 204.2M413.5 208.0L413.0 203.8M418.4 208.3L418.1 203.5M423.3 208.4L423.3 203.4M428.1 208.4L428.4 203.4M432.9 208.1L433.5 203.6M437.8 207.8L438.5 204.0M442.8 207.3L443.5 204.4M274.4 212.0L273.3 208.8M279.6 212.6L278.1 208.2M284.7 213.3L283.0 207.5M289.7 213.9L287.9 206.9M294.5 214.5L293.1 206.3M299.2 214.9L298.4 205.9M303.8 215.0L303.7 205.8M308.4 214.8L309.1 205.9M313.1 214.4L314.3 206.3M317.9 213.9L319.5 206.9M322.9 213.2L324.4 207.6M328.0 212.6L329.3 208.2M333.1 212.0L334.1 208.8M403.8 212.1L402.9 208.7M408.9 212.9L407.8 207.9M413.8 213.6L412.8 207.2M418.6 214.1L417.9 206.7M423.3 214.3L423.2 206.5M427.9 214.2L428.5 206.5M432.7 213.9L433.8 206.9M437.5 213.3L438.9 207.5M442.5 212.6L443.8 208.2M447.7 211.9L448.6 208.8M269.5 216.3L268.3 213.5M274.8 217.0L273.0 212.8M280.1 217.8L277.6 212.0M285.3 218.7L282.4 211.1M290.3 219.7L287.3 210.1M295.0 220.5L292.6 209.3M299.5 221.2L298.1 208.6M303.8 221.4L303.7 208.4M308.1 221.1L309.4 208.7M312.5 220.5L314.9 209.3M317.3 219.6L320.1 210.2M322.3 218.6L325.0 211.2M327.6 217.7L329.7 212.1M332.8 216.9L334.4 212.9M338.1 216.3L339.1 213.5M398.9 216.4L397.8 213.4M404.3 217.5L402.4 212.3M409.4 218.7L407.2 211.1M414.4 219.8L412.2 210.0M419.0 220.6L417.6 209.2M423.3 221.0L423.2 208.8M427.7 220.9L428.8 208.9M432.2 220.2L434.3 209.6M437.0 219.2L439.4 210.6M442.0 218.2L444.3 211.6M447.2 217.2L449.1 212.6M452.6 216.3L453.7 213.5M269.8 221.1L268.0 217.7M275.3 221.9L272.5 216.9M280.8 223.0L276.9 215.8M286.2 224.3L281.5 214.6M291.2 225.5L286.5 213.4M295.5 225.7L292.1 213.1M299.6 225.9L297.9 213.0M303.7 225.9L303.8 212.9M307.8 225.8L309.6 213.0M312.0 225.7L315.4 213.1M316.3 225.5L321.0 213.3M321.5 224.1L325.9 214.7M326.9 222.9L330.4 215.9M332.4 221.9L334.9 216.9M337.8 221.1L339.4 217.8M399.5 221.7L397.2 217.1M405.1 223.2L401.6 215.6M410.5 225.0L406.1 213.8M415.1 225.7L411.5 213.2M431.7 225.7L434.8 213.1M436.0 225.5L440.4 213.3M441.0 224.1L445.3 214.7M446.5 222.6L449.8 216.3M452.1 221.3L454.2 217.5M270.1 225.8L267.6 222.0M275.9 226.8L271.8 221.0M281.8 228.1L275.9 219.7M287.3 229.4L280.4 218.4M291.7 229.7L285.9 218.1M295.9 230.1L291.7 217.8M299.9 230.3L297.7 217.5M307.5 230.3L309.9 217.5M311.5 230.0L315.9 217.8M315.7 229.7L321.6 218.1M320.2 229.4L327.1 218.4M325.9 228.0L331.4 219.9M331.7 226.7L335.5 221.1M337.5 225.8L339.7 222.1M394.4 225.5L392.3 222.3M400.4 227.1L396.3 220.8M406.6 229.1L400.1 218.7M445.4 228.1L450.9 219.8M451.4 226.4L454.8 221.4M457.3 225.2L458.9 222.7M270.6 230.4L267.2 226.5M276.7 231.5L271.0 225.4M283.2 233.0L274.5 223.9M288.0 233.4L279.6 223.5M319.5 233.4L327.9 223.5M324.6 232.8L332.7 224.1M331.0 231.3L336.3 225.5M337.1 230.3L340.1 226.5M395.1 230.5L391.6 226.4M401.8 232.3L394.9 224.6M450.5 231.3L455.8 225.5M456.9 229.9L459.4 226.9M270.9 234.7L266.8 231.2M277.6 235.7L270.1 230.2M284.1 236.8L273.6 229.1M323.4 236.8L333.9 229.1M330.2 235.6L337.1 230.3M336.7 234.6L340.5 231.2M396.0 235.0L390.8 230.8M456.4 234.5L459.8 231.4M271.0 238.8L266.7 236.1M278.1 239.4L269.6 235.5M329.7 239.3L337.6 235.7M336.7 238.7L340.5 236.3M456.2 238.7L460.1 236.3M270.5 242.5L267.2 241.4M277.8 242.6L269.9 241.3M330.1 242.5L337.2 241.4M337.2 242.4L340.0 241.5M336.6 269.3L330.6 268.8M267.1 274.5L270.7 272.5M270.0 275.1L277.8 272.0M337.2 274.9L330.1 272.2M340.2 274.4L337.0 272.7M460.1 274.6L456.2 272.5M267.1 279.5L270.7 276.6M270.4 280.4L277.3 275.7M273.4 281.6L284.3 274.5M334.0 281.6L323.2 274.5M336.8 280.3L330.4 275.9M340.2 279.4L337.0 276.7M387.4 279.0L389.4 277.1M390.5 280.2L396.2 275.9M459.9 279.5L456.3 276.6M267.4 284.2L270.4 280.9M271.2 285.2L276.6 279.9M274.6 286.7L283.1 278.4M279.5 287.4L288.2 277.7M328.0 287.4L319.3 277.8M332.6 286.5L324.7 278.7M336.1 285.1L331.2 280.1M339.9 284.1L337.3 281.0M391.3 284.8L395.5 280.3M394.4 286.6L402.3 278.6M456.0 285.5L450.2 279.6M459.5 284.1L456.8 281.0M267.8 288.7L270.0 285.5M272.0 289.6L275.8 284.5M276.0 290.9L281.7 283.2M280.2 292.5L287.4 281.7M285.8 292.8L291.9 281.3M291.6 293.2L296.0 281.0M316.0 293.2L311.4 281.0M321.8 292.8L315.6 281.4M327.2 292.4L320.1 281.7M331.3 290.7L326.0 283.4M335.3 289.5L331.9 284.7M339.5 288.6L337.7 285.6M392.0 289.1L394.7 285.1M395.9 290.6L400.8 283.6M399.8 292.5L406.9 281.7M451.3 291.4L445.0 282.7M455.0 289.7L451.3 284.5M459.0 288.4L457.2 285.8M268.1 293.0L269.7 290.2M272.6 293.8L275.1 289.4M277.0 294.8L280.7 288.4M281.5 296.1L286.1 287.1M286.4 297.6L291.3 285.6M292.0 297.8L295.6 285.3M297.8 298.0L299.7 285.2M303.8 298.1L303.7 285.1M309.7 298.0L307.8 285.2M315.5 297.8L311.9 285.3M321.0 297.4L316.3 285.8M325.8 295.9L321.5 287.3M330.3 294.7L327.0 288.5M334.7 293.6L332.5 289.5M392.6 293.1L394.2 290.1M396.9 294.3L399.8 288.9M401.3 295.8L405.4 287.4M405.8 297.6L410.8 285.6M411.4 297.8L415.2 285.4M440.5 297.7L435.9 285.5M445.6 296.6L440.8 286.6M450.0 294.9L446.3 288.3M454.3 293.6L452.0 289.6M273.1 297.9L274.7 294.3M277.7 298.7L280.0 293.5M282.4 299.6L285.2 292.6M287.4 300.5L290.2 291.7M292.6 301.4L295.0 290.8M298.1 302.1L299.5 290.1M303.7 302.3L303.7 289.9M309.4 302.0L308.0 290.2M314.9 301.3L312.5 290.9M320.0 300.4L317.3 291.8M324.9 299.4L322.4 292.8M329.6 298.5L327.7 293.7M334.3 297.7L333.0 294.5M397.6 298.0L399.1 294.2M402.2 299.1L404.4 293.1M407.0 300.3L409.6 291.9M412.1 301.4L414.5 290.8M417.5 302.4L419.1 289.8M423.1 302.6L423.4 289.6M428.9 302.6L427.6 289.6M434.4 301.9L432.0 290.3M439.6 300.8L436.8 291.4M444.5 299.6L441.8 292.6M449.2 298.5L447.1 293.7M453.8 297.5L452.5 294.7M273.4 302.0L274.4 299.2M278.2 302.5L279.5 298.7M283.0 303.2L284.6 298.0M288.0 303.8L289.6 297.4M293.1 304.4L294.5 296.8M298.4 304.8L299.2 296.4M303.7 304.9L303.8 296.3M309.1 304.8L308.4 296.5M314.3 304.3L313.1 296.9M319.4 303.7L317.9 297.5M324.4 303.0L323.0 298.2M329.2 302.3L328.1 298.9M402.8 302.6L403.9 298.6M407.7 303.4L409.0 297.8M412.7 304.1L413.9 297.1M417.9 304.7L418.7 296.5M423.2 304.9L423.3 296.3M428.6 304.8L427.9 296.4M433.8 304.4L432.6 296.8M438.9 303.8L437.4 297.5M443.9 303.0L442.5 298.2M448.7 302.2L447.6 299.0M278.5 306.5L279.2 303.7M283.4 307.0L284.3 303.3M288.3 307.4L289.3 302.9M293.4 307.8L294.2 302.5M298.5 308.0L299.0 302.2M303.7 308.1L303.8 302.2M308.9 308.0L308.5 302.3M314.0 307.7L313.4 302.5M319.1 307.3L318.3 303.0M324.0 306.8L323.3 303.4M408.0 306.9L408.6 303.4M413.0 307.4L413.6 302.9M418.1 307.7L418.5 302.5M423.2 307.9L423.3 302.4M428.4 307.8L428.1 302.4M433.5 307.6L432.9 302.7M438.6 307.2L437.8 303.1M443.5 306.7L442.8 303.6M288.5 311.2L289.1 308.1M293.6 311.4L294.0 307.8M298.6 311.6L298.9 307.7M303.7 311.6L303.8 307.6M308.8 311.6L308.6 307.7M313.9 311.4L313.5 307.9M318.9 311.1L318.5 308.2M413.2 311.1L413.4 308.2M418.2 311.3L418.4 308.0M423.3 311.4L423.2 307.9M428.3 311.4L428.1 307.9M433.4 311.2L433.0 308.1" stroke="#fff" stroke-width="0.8" stroke-opacity="0.9" fill="none"/>
<defs><radialGradient id="g1"><stop offset="0" stop-color="#d21e1a"/><stop offset="0.7" stop-color="#ca1a15"/><stop offset="1" stop-color="#a80e0c"/></radialGradient><radialGradient id="g2"><stop offset="0" stop-color="#940c0c"/><stop offset="0.7" stop-color="#8a0909"/><stop offset="1" stop-color="#6c0303"/></radialGradient></defs>
<circle cx="303.4" cy="256.0" r="32.4" fill="url(#g1)" stroke="#140000" stroke-width="0.9"/>
<circle cx="424.4" cy="256.0" r="37.2" fill="url(#g2)" stroke="#140000" stroke-width="0.9"/>
<path d="M418.3 220.4L418.3 218.4M423.3 220.4L423.3 218.4M428.2 220.4L428.2 218.4M303.7 224.9L303.7 222.9M408.3 224.9L408.3 222.9M413.3 224.9L413.3 222.9M418.3 224.9L418.3 222.9M423.3 224.9L423.3 222.9M428.2 224.9L428.2 222.9M433.2 224.9L433.2 222.9M438.2 224.9L438.2 222.9M443.2 224.9L443.2 222.9M288.8 229.4L288.8 227.4M293.8 229.4L293.8 227.4M298.8 229.4L298.8 227.4M303.7 229.4L303.7 227.4M308.7 229.4L308.7 227.4M313.7 229.4L313.7 227.4M318.7 229.4L318.7 227.4M403.3 229.4L403.3 227.4M408.3 229.4L408.3 227.4M413.3 229.4L413.3 227.4M418.3 229.4L418.3 227.4M423.3 229.4L423.3 227.4M428.2 229.4L428.2 227.4M433.2 229.4L433.2 227.4M438.2 229.4L438.2 227.4M443.2 229.4L443.2 227.4M448.2 229.4L448.2 227.4M283.8 233.9L283.8 231.9M288.8 233.9L288.8 231.9M293.8 233.9L293.8 231.9M298.8 233.9L298.8 231.9M303.7 233.9L303.7 231.9M308.7 233.9L308.7 231.9M313.7 233.9L313.7 231.9M318.7 233.9L318.7 231.9M323.7 233.9L323.7 231.9M398.4 233.9L398.4 231.9M403.3 233.9L403.3 231.9M408.3 233.9L408.3 231.9M413.3 233.9L413.3 231.9M418.3 233.9L418.3 231.9M423.3 233.9L423.3 231.9M428.2 233.9L428.2 231.9M433.2 233.9L433.2 231.9M438.2 233.9L438.2 231.9M443.2 233.9L443.2 231.9M448.2 233.9L448.2 231.9M453.1 233.9L453.1 231.9M278.8 238.5L278.8 236.5M283.8 238.5L283.8 236.5M288.8 238.5L288.8 236.5M293.8 238.5L293.8 236.5M298.8 238.5L298.8 236.5M303.7 238.5L303.7 236.5M308.7 238.5L308.7 236.5M313.7 238.5L313.7 236.5M318.7 238.5L318.7 236.5M323.7 238.5L323.7 236.5M328.6 238.5L328.6 236.5M393.4 238.5L393.4 236.5M398.4 238.5L398.4 236.5M403.3 238.5L403.3 236.5M408.3 238.5L408.3 236.5M413.3 238.5L413.3 236.5M418.3 238.5L418.3 236.5M423.3 238.5L423.3 236.5M428.2 238.5L428.2 236.5M433.2 238.5L433.2 236.5M438.2 238.5L438.2 236.5M443.2 238.5L443.2 236.5M448.2 238.5L448.2 236.5M453.1 238.5L453.1 236.5M278.8 243.0L278.8 241.0M283.8 243.0L283.8 241.0M288.8 243.0L288.8 241.0M293.8 243.0L293.8 241.0M298.8 243.0L298.8 241.0M303.7 243.0L303.7 241.0M308.7 243.0L308.7 241.0M313.7 243.0L313.7 241.0M318.7 243.0L318.7 241.0M323.7 243.0L323.7 241.0M328.6 243.0L328.6 241.0M393.4 243.0L393.4 241.0M398.4 243.0L398.4 241.0M403.3 243.0L403.3 241.0M408.3 243.0L408.3 241.0M413.3 243.0L413.3 241.0M418.3 243.0L418.3 241.0M423.3 243.0L423.3 241.0M428.2 243.0L428.2 241.0M433.2 243.0L433.2 241.0M438.2 243.0L438.2 241.0M443.2 243.0L443.2 241.0M448.2 243.0L448.2 241.0M453.1 243.0L453.1 241.0M458.1 243.0L458.1 241.0M273.9 247.5L273.9 245.5M278.8 247.5L278.8 245.5M283.8 247.5L283.8 245.5M288.8 247.5L288.8 245.5M293.8 247.5L293.8 245.5M298.8 247.5L298.8 245.5M303.7 247.5L303.7 245.5M308.7 247.5L308.7 245.5M313.7 247.5L313.7 245.5M318.7 247.5L318.7 245.5M323.7 247.5L323.7 245.5M328.6 247.5L328.6 245.5M333.6 247.5L333.6 245.5M393.4 247.5L393.4 245.5M398.4 247.5L398.4 245.5M403.3 247.5L403.3 245.5M408.3 247.5L408.3 245.5M413.3 247.5L413.3 245.5M418.3 247.5L418.3 245.5M423.3 247.5L423.3 245.5M428.2 247.5L428.2 245.5M433.2 247.5L433.2 245.5M438.2 247.5L438.2 245.5M443.2 247.5L443.2 245.5M448.2 247.5L448.2 245.5M453.1 247.5L453.1 245.5M458.1 247.5L458.1 245.5M273.9 252.0L273.9 250.0M278.8 252.0L278.8 250.0M283.8 252.0L283.8 250.0M288.8 252.0L288.8 250.0M293.8 252.0L293.8 250.0M298.8 252.0L298.8 250.0M303.7 252.0L303.7 250.0M308.7 252.0L308.7 250.0M313.7 252.0L313.7 250.0M318.7 252.0L318.7 250.0M323.7 252.0L323.7 250.0M328.6 252.0L328.6 250.0M333.6 252.0L333.6 250.0M388.4 252.0L388.4 250.0M393.4 252.0L393.4 250.0M398.4 252.0L398.4 250.0M403.3 252.0L403.3 250.0M408.3 252.0L408.3 250.0M413.3 252.0L413.3 250.0M418.3 252.0L418.3 250.0M423.3 252.0L423.3 250.0M428.2 252.0L428.2 250.0M433.2 252.0L433.2 250.0M438.2 252.0L438.2 250.0M443.2 252.0L443.2 250.0M448.2 252.0L448.2 250.0M453.1 252.0L453.1 250.0M458.1 252.0L458.1 250.0M273.9 256.5L273.9 254.5M278.8 256.5L278.8 254.5M283.8 256.5L283.8 254.5M288.8 256.5L288.8 254.5M293.8 256.5L293.8 254.5M298.8 256.5L298.8 254.5M303.7 256.5L303.7 254.5M308.7 256.5L308.7 254.5M313.7 256.5L313.7 254.5M318.7 256.5L318.7 254.5M323.7 256.5L323.7 254.5M328.6 256.5L328.6 254.5M333.6 256.5L333.6 254.5M388.4 256.5L388.4 254.5M393.4 256.5L393.4 254.5M398.4 256.5L398.4 254.5M403.3 256.5L403.3 254.5M408.3 256.5L408.3 254.5M413.3 256.5L413.3 254.5M418.3 256.5L418.3 254.5M423.3 256.5L423.3 254.5M428.2 256.5L428.2 254.5M433.2 256.5L433.2 254.5M438.2 256.5L438.2 254.5M443.2 256.5L443.2 254.5M448.2 256.5L448.2 254.5M453.1 256.5L453.1 254.5M458.1 256.5L458.1 254.5M273.9 261.0L273.9 259.0M278.8 261.0L278.8 259.0M283.8 261.0L283.8 259.0M288.8 261.0L288.8 259.0M293.8 261.0L293.8 259.0M298.8 261.0L298.8 259.0M303.7 261.0L303.7 259.0M308.7 261.0L308.7 259.0M313.7 261.0L313.7 259.0M318.7 261.0L318.7 259.0M323.7 261.0L323.7 259.0M328.6 261.0L328.6 259.0M333.6 261.0L333.6 259.0M388.4 261.0L388.4 259.0M393.4 261.0L393.4 259.0M398.4 261.0L398.4 259.0M403.3 261.0L403.3 259.0M408.3 261.0L408.3 259.0M413.3 261.0L413.3 259.0M418.3 261.0L418.3 259.0M423.3 261.0L423.3 259.0M428.2 261.0L428.2 259.0M433.2 261.0L433.2 259.0M438.2 261.0L438.2 259.0M443.2 261.0L443.2 259.0M448.2 261.0L448.2 259.0M453.1 261.0L453.1 259.0M458.1 261.0L458.1 259.0M273.9 265.5L273.9 263.5M278.8 265.5L278.8 263.5M283.8 265.5L283.8 263.5M288.8 265.5L288.8 263.5M293.8 265.5L293.8 263.5M298.8 265.5L298.8 263.5M303.7 265.5L303.7 263.5M308.7 265.5L308.7 263.5M313.7 265.5L313.7 263.5M318.7 265.5L318.7 263.5M323.7 265.5L323.7 263.5M328.6 265.5L328.6 263.5M333.6 265.5L333.6 263.5M388.4 265.5L388.4 263.5M393.4 265.5L393.4 263.5M398.4 265.5L398.4 263.5M403.3 265.5L403.3 263.5M408.3 265.5L408.3 263.5M413.3 265.5L413.3 263.5M418.3 265.5L418.3 263.5M423.3 265.5L423.3 263.5M428.2 265.5L428.2 263.5M433.2 265.5L433.2 263.5M438.2 265.5L438.2 263.5M443.2 265.5L443.2 263.5M448.2 265.5L448.2 263.5M453.1 265.5L453.1 263.5M458.1 265.5L458.1 263.5M273.9 270.0L273.9 268.0M278.8 270.0L278.8 268.0M283.8 270.0L283.8 268.0M288.8 270.0L288.8 268.0M293.8 270.0L293.8 268.0M298.8 270.0L298.8 268.0M303.7 270.0L303.7 268.0M308.7 270.0L308.7 268.0M313.7 270.0L313.7 268.0M318.7 270.0L318.7 268.0M323.7 270.0L323.7 268.0M328.6 270.0L328.6 268.0M393.4 270.0L393.4 268.0M398.4 270.0L398.4 268.0M403.3 270.0L403.3 268.0M408.3 270.0L408.3 268.0M413.3 270.0L413.3 268.0M418.3 270.0L418.3 268.0M423.3 270.0L423.3 268.0M428.2 270.0L428.2 268.0M433.2 270.0L433.2 268.0M438.2 270.0L438.2 268.0M443.2 270.0L443.2 268.0M448.2 270.0L448.2 268.0M453.1 270.0L453.1 268.0M458.1 270.0L458.1 268.0M278.8 274.5L278.8 272.5M283.8 274.5L283.8 272.5M288.8 274.5L288.8 272.5M293.8 274.5L293.8 272.5M298.8 274.5L298.8 272.5M303.7 274.5L303.7 272.5M308.7 274.5L308.7 272.5M313.7 274.5L313.7 272.5M318.7 274.5L318.7 272.5M323.7 274.5L323.7 272.5M328.6 274.5L328.6 272.5M393.4 274.5L393.4 272.5M398.4 274.5L398.4 272.5M403.3 274.5L403.3 272.5M408.3 274.5L408.3 272.5M413.3 274.5L413.3 272.5M418.3 274.5L418.3 272.5M423.3 274.5L423.3 272.5M428.2 274.5L428.2 272.5M433.2 274.5L433.2 272.5M438.2 274.5L438.2 272.5M443.2 274.5L443.2 272.5M448.2 274.5L448.2 272.5M453.1 274.5L453.1 272.5M283.8 279.1L283.8 277.1M288.8 279.1L288.8 277.1M293.8 279.1L293.8 277.1M298.8 279.1L298.8 277.1M303.7 279.1L303.7 277.1M308.7 279.1L308.7 277.1M313.7 279.1L313.7 277.1M318.7 279.1L318.7 277.1M323.7 279.1L323.7 277.1M398.4 279.1L398.4 277.1M403.3 279.1L403.3 277.1M408.3 279.1L408.3 277.1M413.3 279.1L413.3 277.1M418.3 279.1L418.3 277.1M423.3 279.1L423.3 277.1M428.2 279.1L428.2 277.1M433.2 279.1L433.2 277.1M438.2 279.1L438.2 277.1M443.2 279.1L443.2 277.1M448.2 279.1L448.2 277.1M453.1 279.1L453.1 277.1M288.8 283.6L288.8 281.6M293.8 283.6L293.8 281.6M298.8 283.6L298.8 281.6M303.7 283.6L303.7 281.6M308.7 283.6L308.7 281.6M313.7 283.6L313.7 281.6M318.7 283.6L318.7 281.6M403.3 283.6L403.3 281.6M408.3 283.6L408.3 281.6M413.3 283.6L413.3 281.6M418.3 283.6L418.3 281.6M423.3 283.6L423.3 281.6M428.2 283.6L428.2 281.6M433.2 283.6L433.2 281.6M438.2 283.6L438.2 281.6M443.2 283.6L443.2 281.6M448.2 283.6L448.2 281.6M298.8 288.1L298.8 286.1M303.7 288.1L303.7 286.1M308.7 288.1L308.7 286.1M408.3 288.1L408.3 286.1M413.3 288.1L413.3 286.1M418.3 288.1L418.3 286.1M423.3 288.1L423.3 286.1M428.2 288.1L428.2 286.1M433.2 288.1L433.2 286.1M438.2 288.1L438.2 286.1M443.2 288.1L443.2 286.1M418.3 292.6L418.3 290.6M423.3 292.6L423.3 290.6M428.2 292.6L428.2 290.6M433.2 292.6L433.2 290.6" stroke="#fff" stroke-width="0.65" stroke-opacity="0.5" fill="none"/>
<path d="M276.6 239.5L279.6 242.9M278.2 237.1L281.2 241.2M280.7 234.2L284.4 240.8M283.2 231.9L286.8 239.9M287.0 229.2L289.2 235.7M289.1 228.0L291.6 236.9M292.6 226.5L294.1 233.8M296.5 225.4L297.9 236.4M299.4 224.9L300.2 236.4M302.8 224.6L302.9 232.4M307.7 224.9L307.0 234.2M309.8 225.3L308.9 233.2M313.2 226.2L311.8 234.1M317.4 227.9L315.4 235.2M320.7 229.7L318.3 236.3M323.1 231.5L320.4 237.7M326.4 234.5L322.7 240.8M327.8 236.2L325.1 240.3M330.3 239.8L327.1 243.4" stroke="#fff" stroke-width="1.15" fill="none"/>
<path d="M280.7 244.2L277.5 242.8L279.7 240.9ZM282.3 242.8L278.9 240.9L281.5 239.0ZM285.5 242.8L281.8 240.1L285.1 238.2ZM287.8 242.0L284.3 238.9L287.8 237.4ZM289.9 237.8L286.8 234.5L290.4 233.3ZM292.2 239.1L289.2 235.6L292.9 234.6ZM294.5 236.1L291.9 232.3L295.6 231.6ZM298.2 238.7L295.8 234.8L299.5 234.3ZM300.3 238.7L298.1 234.6L301.9 234.4ZM302.9 234.7L301.0 230.5L304.8 230.5ZM306.8 236.5L305.2 232.2L309.0 232.4ZM308.6 235.5L307.2 231.1L311.0 231.6ZM311.4 236.3L310.3 231.9L314.0 232.5ZM314.8 237.4L314.1 232.9L317.7 233.9ZM317.6 238.4L317.2 233.9L320.8 235.1ZM319.5 239.8L319.4 235.2L322.9 236.7ZM321.6 242.8L322.0 238.2L325.3 240.1ZM324.0 241.9L324.6 238.1L327.3 239.9ZM325.9 244.8L327.0 241.2L329.3 243.3Z" fill="#fff"/>
<path d="M397.6 280.4L398.9 278.3M401.7 284.3L403.1 281.2M406.3 287.4L407.2 284.5M411.6 289.9L412.3 286.7M416.7 291.4L417.2 287.2M420.7 292.0L420.9 289.1M427.3 292.1L427.2 289.1M433.6 291.0L433.1 287.6M437.7 289.7L437.0 286.4M443.6 286.7L442.6 283.9M447.1 284.2L446.1 281.9M451.2 280.4L450.0 278.4" stroke="#fff" stroke-width="0.70" fill="none"/>
<path d="M399.4 277.4L399.2 279.4L397.8 278.6ZM403.6 280.1L403.6 282.5L401.8 281.7ZM407.6 283.3L407.9 285.7L406.0 285.1ZM412.5 285.5L413.0 287.9L411.1 287.5ZM417.3 286.0L418.1 288.3L416.1 288.0ZM421.0 288.0L421.8 290.1L419.9 290.0ZM427.1 287.9L428.2 290.0L426.2 290.1ZM432.9 286.4L434.2 288.5L432.2 288.8ZM436.7 285.2L438.2 287.1L436.2 287.5ZM442.3 282.8L443.9 284.5L442.0 285.1ZM445.7 280.9L447.2 282.3L445.7 282.9ZM449.5 277.6L451.0 278.7L449.7 279.4Z" fill="#fff"/>
</g>
<rect x="241.8" y="194.9" width="243.4" height="121.2" fill="none" stroke="#1a0000" stroke-width="0.9"/>
<text x="250.2" y="215" font-size="22.3" fill="#fff" class="w">(d)</text>
<defs><linearGradient id="cb" x1="0" y1="0" x2="0" y2="1"><stop offset="0.00" stop-color="#ffffff"/><stop offset="0.08" stop-color="#ffffc8"/><stop offset="0.18" stop-color="#ffff5a"/><stop offset="0.30" stop-color="#ffe100"/><stop offset="0.42" stop-color="#ff9600"/><stop offset="0.54" stop-color="#ff4b00"/><stop offset="0.64" stop-color="#e81608"/><stop offset="0.75" stop-color="#a50808"/><stop offset="0.88" stop-color="#580000"/><stop offset="1.00" stop-color="#0a0000"/></linearGradient></defs>
<rect x="502" y="207.5" width="7" height="107.4" fill="url(#cb)" stroke="#777" stroke-width="0.4"/>
<text x="497.6" y="202.8" font-size="15.8">+Max</text>
<text x="512" y="319.8" font-size="16">0</text>
<text x="294.5" y="340.3" font-size="22">|E|@x-y plane</text>
</svg>
</body></html>
